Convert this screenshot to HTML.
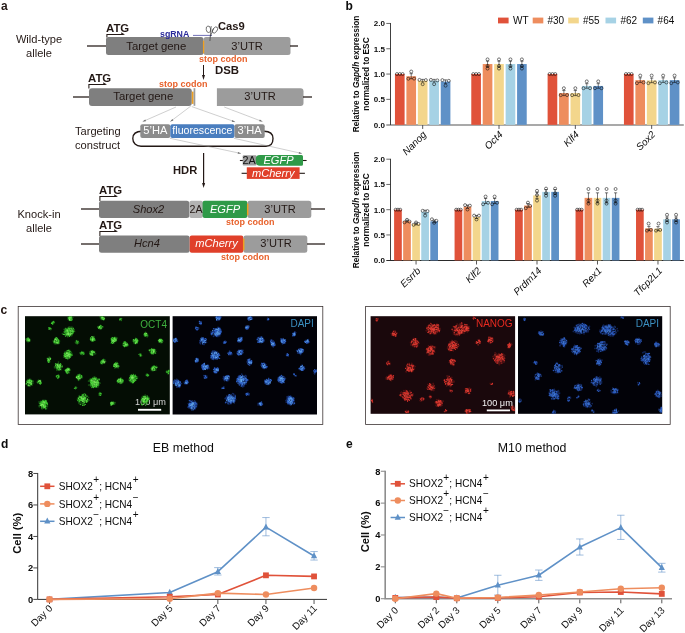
<!DOCTYPE html>
<html lang="en"><head><meta charset="utf-8"><title>Figure</title>
<style>html,body{margin:0;padding:0;background:#fff}svg{display:block}text{font-family:"Liberation Sans",sans-serif}</style>
</head><body>
<svg width="685" height="633" viewBox="0 0 685 633" fill="#231815">
<rect width="685" height="633" fill="#fff"/>
<g id="panel-a">
<text x="1" y="10.3" font-size="12" font-weight="bold">a</text>
<text x="39" y="43" font-size="11.1" text-anchor="middle">Wild-type</text>
<text x="39" y="56.5" font-size="11.1" text-anchor="middle">allele</text>
<text x="106" y="31.7" font-size="11.4" font-weight="bold">ATG</text>
<path d="M106.9 37.5V34.4H123.5" fill="none" stroke="#231815" stroke-width="1.05"/>
<path d="M125 34.5L121 32.2L121.6 34.9Z" fill="#231815"/>
<line x1="87" y1="46" x2="107" y2="46" stroke="#231815" stroke-width="1.25"/>
<path d="M108.5 37H201Q203.5 37 203.5 39.5V52.5Q203.5 55 201 55H108.5Q106 55 106 52.5V39.5Q106 37 108.5 37Z" fill="#7f7f7f"/>
<path d="M206 37H288Q290.5 37 290.5 39.5V52.5Q290.5 55 288 55H206Q203.5 55 203.5 52.5V39.5Q203.5 37 206 37Z" fill="#9c9c9c"/>
<line x1="203.6" y1="40.6" x2="203.6" y2="53.3" stroke="#f0a020" stroke-width="1.3"/>
<line x1="290" y1="46" x2="298" y2="46" stroke="#231815" stroke-width="1.25"/>
<text x="156.3" y="49.5" font-size="11.35" text-anchor="middle">Target gene</text>
<text x="247" y="49.5" font-size="11.1" text-anchor="middle">3’UTR</text>
<text x="160" y="37" font-size="8.8" font-weight="bold" fill="#2a2a9a">sgRNA</text>
<line x1="193" y1="35.4" x2="212" y2="35.4" stroke="#33339a" stroke-width="0.7"/>
<text x="218" y="30" font-size="11.2" font-weight="bold">Cas9</text>
<g fill="none" stroke="#262626" stroke-width="0.6">
<path d="M211.2 26L209.9 41"/><path d="M213.6 28.4L210.3 36.5"/>
<ellipse cx="208.4" cy="29.3" rx="2.2" ry="3.3" transform="rotate(-8 208.4 29.3)"/>
<ellipse cx="215" cy="30" rx="2.1" ry="3.5" transform="rotate(38 215 30)"/>
</g>
<text x="199" y="62" font-size="9" font-weight="bold" fill="#e8622c">stop codon</text>
<line x1="203.5" y1="65" x2="203.5" y2="77" stroke="#231815" stroke-width="1"/>
<path d="M203.5 80L202 75L205 75Z" fill="#231815"/>
<text x="215" y="74.2" font-size="11.4" font-weight="bold">DSB</text>
<text x="88" y="81.7" font-size="11.4" font-weight="bold">ATG</text>
<path d="M88.9 88.5V84.4H105.5" fill="none" stroke="#231815" stroke-width="1.05"/>
<path d="M107 84.5L103 82.2L103.6 84.9Z" fill="#231815"/>
<line x1="73" y1="97" x2="90" y2="97" stroke="#231815" stroke-width="1.25"/>
<path d="M92 88.2H188.8Q191.8 88.2 191.8 91.2V102.9Q191.8 105.9 188.8 105.9H92Q89 105.9 89 102.9V91.2Q89 88.2 92 88.2Z" fill="#7f7f7f"/>
<line x1="192.7" y1="91.6" x2="192.7" y2="103.9" stroke="#f0a020" stroke-width="1.8"/>
<rect x="193.6" y="88.2" width="1.7" height="17.6" fill="#9c9c9c"/>
<text x="159" y="87" font-size="9" font-weight="bold" fill="#e8622c">stop codon</text>
<text x="143.3" y="100.4" font-size="11.35" text-anchor="middle">Target gene</text>
<path d="M216.9 88.2H300.5Q303.5 88.2 303.5 91.2V102.9Q303.5 105.9 300.5 105.9H216.9V88.2Z" fill="#9c9c9c"/>
<text x="260" y="100.4" font-size="11.1" text-anchor="middle">3’UTR</text>
<line x1="303" y1="97" x2="312" y2="97" stroke="#231815" stroke-width="1.25"/>
<line x1="176" y1="107" x2="142.7" y2="121.6" stroke="#8c8c8c" stroke-width="0.42"/>
<path d="M142.7 121.6L145.27 119.49L145.99 121.14Z" fill="#6a6a6a"/>
<line x1="190.7" y1="106.2" x2="170.3" y2="121.6" stroke="#8c8c8c" stroke-width="0.42"/>
<path d="M170.3 121.6L172.31 118.95L173.4 120.39Z" fill="#6a6a6a"/>
<line x1="191.8" y1="106.6" x2="235.1" y2="121.9" stroke="#8c8c8c" stroke-width="0.42"/>
<path d="M235.1 121.9L231.78 121.68L232.38 119.99Z" fill="#6a6a6a"/>
<line x1="224.2" y1="107" x2="262.5" y2="121.6" stroke="#8c8c8c" stroke-width="0.42"/>
<path d="M262.5 121.6L259.19 121.3L259.83 119.62Z" fill="#6a6a6a"/>
<text x="75" y="135" font-size="11.1">Targeting</text>
<text x="75" y="149" font-size="11.1">construct</text>
<path d="M142 131.2C134 131.2 132.8 135 132.8 138.5C132.8 143 136 146.2 141 146.2H266C271 146.2 273 142.5 273 138.5C273 134.5 271 131.2 264 131.2" fill="none" stroke="#231815" stroke-width="1.35"/>
<path d="M142.3 124.2H168.3Q170.3 124.2 170.3 126.2V135.9Q170.3 137.9 168.3 137.9H142.3Q140.3 137.9 140.3 135.9V126.2Q140.3 124.2 142.3 124.2Z" fill="#8c8c8c"/>
<path d="M172.3 124.2H232.5Q234.5 124.2 234.5 126.2V135.9Q234.5 137.9 232.5 137.9H172.3Q170.3 137.9 170.3 135.9V126.2Q170.3 124.2 172.3 124.2Z" fill="#4a7ebf"/>
<path d="M236.5 124.2H262.7Q264.7 124.2 264.7 126.2V135.9Q264.7 137.9 262.7 137.9H236.5Q234.5 137.9 234.5 135.9V126.2Q234.5 124.2 236.5 124.2Z" fill="#8c8c8c"/>
<text x="155.3" y="134.1" font-size="11.1" text-anchor="middle" fill="#fff">5’HA</text>
<text x="202.4" y="134.1" font-size="10.6" text-anchor="middle" fill="#fff">fluorescence</text>
<text x="249.6" y="134.1" font-size="11.1" text-anchor="middle" fill="#fff">3’HA</text>
<line x1="170" y1="138.3" x2="241" y2="153.5" stroke="#8c8c8c" stroke-width="0.42"/>
<path d="M241 153.5L237.68 153.71L238.06 151.95Z" fill="#6a6a6a"/>
<line x1="234" y1="138.3" x2="302" y2="153.5" stroke="#8c8c8c" stroke-width="0.42"/>
<path d="M302 153.5L298.68 153.68L299.07 151.92Z" fill="#6a6a6a"/>
<line x1="203.6" y1="153" x2="203.6" y2="185" stroke="#231815" stroke-width="1.2"/>
<path d="M203.6 188L202.1 183L205.1 183Z" fill="#231815"/>
<text x="173" y="174" font-size="11.2" font-weight="bold">HDR</text>
<line x1="239.9" y1="160.5" x2="243" y2="160.5" stroke="#231815" stroke-width="1.1"/>
<line x1="302.5" y1="160.5" x2="306.6" y2="160.5" stroke="#231815" stroke-width="1.1"/>
<path d="M243.7 155.2H255.5Q256.5 155.2 256.5 156.2V164.4Q256.5 165.4 255.5 165.4H243.7Q242.7 165.4 242.7 164.4V156.2Q242.7 155.2 243.7 155.2Z" fill="#9c9c9c"/>
<path d="M260 154.9H301.5Q303 154.9 303 156.4V164.3Q303 165.8 301.5 165.8H260Q255.8 165.8 255.8 161.6V159.1Q255.8 154.9 260 154.9Z" fill="#2f9a48"/>
<text x="249" y="164.3" font-size="10.8" text-anchor="middle" fill="#111">2A</text>
<text x="278.5" y="164.2" font-size="11.1" font-style="italic" text-anchor="middle" fill="#fff">EGFP</text>
<line x1="241.6" y1="173.3" x2="247.5" y2="173.3" stroke="#231815" stroke-width="1.1"/>
<line x1="299" y1="173.3" x2="304.9" y2="173.3" stroke="#231815" stroke-width="1.1"/>
<rect x="246.8" y="167.3" width="52.8" height="11.6" fill="#e0402a"/>
<text x="273.2" y="176.8" font-size="11.1" font-style="italic" text-anchor="middle" fill="#fff">mCherry</text>
<text x="39" y="217.5" font-size="11.1" text-anchor="middle">Knock-in</text>
<text x="39" y="231.5" font-size="11.1" text-anchor="middle">allele</text>
<text x="99" y="193.7" font-size="11.4" font-weight="bold">ATG</text>
<path d="M99.9 201V196.4H116.5" fill="none" stroke="#231815" stroke-width="1.05"/>
<path d="M118 196.5L114 194.2L114.6 196.9Z" fill="#231815"/>
<line x1="81" y1="209" x2="100" y2="209" stroke="#231815" stroke-width="1.25"/>
<path d="M101.5 200.7H186.8Q189.3 200.7 189.3 203.2V215.5Q189.3 218 186.8 218H101.5Q99 218 99 215.5V203.2Q99 200.7 101.5 200.7Z" fill="#7f7f7f"/>
<path d="M191.3 200.7H201Q203 200.7 203 202.7V216Q203 218 201 218H191.3Q189.3 218 189.3 216V202.7Q189.3 200.7 191.3 200.7Z" fill="#b2b2b2"/>
<path d="M204.6 200.7H245.3Q247.3 200.7 247.3 202.7V216Q247.3 218 245.3 218H204.6Q202.6 218 202.6 216V202.7Q202.6 200.7 204.6 200.7Z" fill="#2f9a48"/>
<path d="M249.8 200.7H308.8Q311.3 200.7 311.3 203.2V215.5Q311.3 218 308.8 218H249.8Q247.3 218 247.3 215.5V203.2Q247.3 200.7 249.8 200.7Z" fill="#9c9c9c"/>
<line x1="247.7" y1="203.6" x2="247.7" y2="215.3" stroke="#f0a020" stroke-width="1.5"/>
<line x1="311" y1="209" x2="325" y2="209" stroke="#231815" stroke-width="1.25"/>
<text x="148.5" y="212.5" font-size="11.1" font-style="italic" text-anchor="middle">Shox2</text>
<text x="196" y="212.5" font-size="10.6" text-anchor="middle">2A</text>
<text x="225" y="212.5" font-size="11.1" font-style="italic" text-anchor="middle" fill="#fff">EGFP</text>
<text x="280" y="212.5" font-size="11.1" text-anchor="middle">3’UTR</text>
<text x="226" y="224.5" font-size="9" font-weight="bold" fill="#e8622c">stop codon</text>
<text x="99" y="228.7" font-size="11.4" font-weight="bold">ATG</text>
<path d="M99.9 236V231.4H116.5" fill="none" stroke="#231815" stroke-width="1.05"/>
<path d="M118 231.5L114 229.2L114.6 231.9Z" fill="#231815"/>
<line x1="81" y1="244" x2="100" y2="244" stroke="#231815" stroke-width="1.25"/>
<path d="M101.5 235.5H187.2Q189.7 235.5 189.7 238V250.2Q189.7 252.7 187.2 252.7H101.5Q99 252.7 99 250.2V238Q99 235.5 101.5 235.5Z" fill="#7f7f7f"/>
<path d="M191.7 235.5H241.3Q243.3 235.5 243.3 237.5V250.7Q243.3 252.7 241.3 252.7H191.7Q189.7 252.7 189.7 250.7V237.5Q189.7 235.5 191.7 235.5Z" fill="#e0402a"/>
<path d="M245.8 235.5H304.8Q307.3 235.5 307.3 238V250.2Q307.3 252.7 304.8 252.7H245.8Q243.3 252.7 243.3 250.2V238Q243.3 235.5 245.8 235.5Z" fill="#9c9c9c"/>
<line x1="243.7" y1="238.6" x2="243.7" y2="250.3" stroke="#f0a020" stroke-width="1.5"/>
<line x1="307" y1="244" x2="325" y2="244" stroke="#231815" stroke-width="1.25"/>
<text x="147" y="247.4" font-size="11.1" font-style="italic" text-anchor="middle">Hcn4</text>
<text x="216.5" y="247.4" font-size="11.1" font-style="italic" text-anchor="middle" fill="#fff">mCherry</text>
<text x="276" y="247.4" font-size="11.1" text-anchor="middle">3’UTR</text>
<text x="221" y="259.5" font-size="9" font-weight="bold" fill="#e8622c">stop codon</text>
</g>
<g id="panel-b" fill="#0c0c0c">
<text x="345.5" y="10.2" font-size="12" font-weight="bold">b</text>
<rect x="498" y="17.6" width="10.6" height="5.8" fill="#e0523a"/>
<text x="513.1" y="23.9" font-size="10">WT</text>
<rect x="532.7" y="17.6" width="10.6" height="5.8" fill="#ee8d5e"/>
<text x="547.4" y="23.9" font-size="10">#30</text>
<rect x="568.2" y="17.6" width="10.6" height="5.8" fill="#f3d68c"/>
<text x="583" y="23.9" font-size="10">#55</text>
<rect x="605.5" y="17.6" width="10.6" height="5.8" fill="#a6d2e5"/>
<text x="620.4" y="23.9" font-size="10">#62</text>
<rect x="642.8" y="17.6" width="10.6" height="5.8" fill="#5f91c7"/>
<text x="657.6" y="23.9" font-size="10">#64</text>
<line x1="386.3" y1="124.95" x2="683.8" y2="124.95" stroke="#8c8c8c" stroke-width="1.4"/>
<line x1="390.5" y1="23.05" x2="390.5" y2="124.95" stroke="#2a2a2a" stroke-width="0.9"/>
<text x="384.9" y="127.55" font-size="8" font-weight="bold" text-anchor="end">0.0</text>
<line x1="386.3" y1="99.35" x2="390.5" y2="99.35" stroke="#2a2a2a" stroke-width="0.7"/>
<text x="384.9" y="102.25" font-size="8" font-weight="bold" text-anchor="end">0.5</text>
<line x1="386.3" y1="74.05" x2="390.5" y2="74.05" stroke="#2a2a2a" stroke-width="0.7"/>
<text x="384.9" y="76.95" font-size="8" font-weight="bold" text-anchor="end">1.0</text>
<line x1="386.3" y1="48.75" x2="390.5" y2="48.75" stroke="#2a2a2a" stroke-width="0.7"/>
<text x="384.9" y="51.65" font-size="8" font-weight="bold" text-anchor="end">1.5</text>
<line x1="386.3" y1="23.45" x2="390.5" y2="23.45" stroke="#2a2a2a" stroke-width="0.7"/>
<text x="384.9" y="26.35" font-size="8" font-weight="bold" text-anchor="end">2.0</text>
<text transform="translate(359.4 74) rotate(-90)" font-size="8.3" font-weight="bold" text-anchor="middle">Relative to <tspan font-style="italic">Gapdh</tspan> expression</text>
<text transform="translate(369.4 74) rotate(-90)" font-size="8.3" font-weight="bold" text-anchor="middle">normalized to ESC</text>
<rect x="394.95" y="74.05" width="9.65" height="50.8" fill="#e0523a"/>
<rect x="406.4" y="76.23" width="9.65" height="48.62" fill="#ee8d5e"/>
<rect x="417.85" y="80.63" width="9.65" height="44.22" fill="#f3d68c"/>
<rect x="429.3" y="80.63" width="9.65" height="44.22" fill="#a6d2e5"/>
<rect x="440.75" y="81.64" width="9.65" height="43.21" fill="#5f91c7"/>
<g fill="none" stroke="#0a0a0a" stroke-width="0.55">
<circle cx="396.94" cy="74.05" r="1.5"/>
<circle cx="399.77" cy="74.05" r="1.5"/>
<circle cx="402.61" cy="74.05" r="1.5"/>
<path d="M411.22 73.7V78.76M409.62 73.7H412.82M409.62 78.76H412.82"/>
<circle cx="408.32" cy="78.76" r="1.5"/>
<circle cx="411.22" cy="71.52" r="1.5"/>
<circle cx="414.12" cy="78.6" r="1.5"/>
<path d="M422.67 79.36V81.89M421.07 79.36H424.27M421.07 81.89H424.27"/>
<circle cx="419.47" cy="79.92" r="1.5"/>
<circle cx="422.67" cy="84.17" r="1.5"/>
<circle cx="425.87" cy="80.12" r="1.5"/>
<path d="M434.12 79.36V81.89M432.52 79.36H435.72M432.52 81.89H435.72"/>
<circle cx="430.92" cy="79.92" r="1.5"/>
<circle cx="434.12" cy="84.17" r="1.5"/>
<circle cx="437.32" cy="80.38" r="1.5"/>
<path d="M445.57 79.87V83.41M443.97 79.87H447.18M443.97 83.41H447.18"/>
<circle cx="442.38" cy="80.12" r="1.5"/>
<circle cx="445.57" cy="85.69" r="1.5"/>
<circle cx="448.77" cy="80.83" r="1.5"/>
</g>
<line x1="422.68" y1="125.15" x2="422.68" y2="128.95" stroke="#2a2a2a" stroke-width="0.8"/>
<text transform="translate(426.98 135.15) rotate(-45)" font-size="9.9" font-style="italic" text-anchor="end">Nanog</text>
<rect x="471.28" y="74.05" width="9.65" height="50.8" fill="#e0523a"/>
<rect x="482.73" y="64.03" width="9.65" height="60.82" fill="#ee8d5e"/>
<rect x="494.18" y="64.03" width="9.65" height="60.82" fill="#f3d68c"/>
<rect x="505.63" y="64.03" width="9.65" height="60.82" fill="#a6d2e5"/>
<rect x="517.08" y="64.03" width="9.65" height="60.82" fill="#5f91c7"/>
<g fill="none" stroke="#0a0a0a" stroke-width="0.55">
<circle cx="473.27" cy="74.05" r="1.5"/>
<circle cx="476.1" cy="74.05" r="1.5"/>
<circle cx="478.94" cy="74.05" r="1.5"/>
<path d="M487.55 61.15V66.92M485.95 61.15H489.15M485.95 66.92H489.15"/>
<circle cx="487.55" cy="59.38" r="1.5"/>
<circle cx="487.55" cy="65.95" r="1.5"/>
<circle cx="487.55" cy="68.59" r="1.5"/>
<path d="M499 61.15V66.92M497.4 61.15H500.6M497.4 66.92H500.6"/>
<circle cx="499" cy="59.38" r="1.5"/>
<circle cx="499" cy="65.95" r="1.5"/>
<circle cx="499" cy="68.59" r="1.5"/>
<path d="M510.45 61.15V66.92M508.85 61.15H512.05M508.85 66.92H512.05"/>
<circle cx="510.45" cy="59.38" r="1.5"/>
<circle cx="510.45" cy="65.95" r="1.5"/>
<circle cx="510.45" cy="68.59" r="1.5"/>
<path d="M521.9 61.15V66.92M520.3 61.15H523.5M520.3 66.92H523.5"/>
<circle cx="521.9" cy="59.38" r="1.5"/>
<circle cx="521.9" cy="65.95" r="1.5"/>
<circle cx="521.9" cy="68.59" r="1.5"/>
</g>
<line x1="499" y1="125.15" x2="499" y2="128.95" stroke="#2a2a2a" stroke-width="0.8"/>
<text transform="translate(503.31 135.15) rotate(-45)" font-size="9.9" font-style="italic" text-anchor="end">Oct4</text>
<rect x="547.61" y="74.05" width="9.65" height="50.8" fill="#e0523a"/>
<rect x="559.06" y="93.08" width="9.65" height="31.77" fill="#ee8d5e"/>
<rect x="570.51" y="93.08" width="9.65" height="31.77" fill="#f3d68c"/>
<rect x="581.96" y="85.94" width="9.65" height="38.91" fill="#a6d2e5"/>
<rect x="593.41" y="85.94" width="9.65" height="38.91" fill="#5f91c7"/>
<g fill="none" stroke="#0a0a0a" stroke-width="0.55">
<circle cx="549.6" cy="74.05" r="1.5"/>
<circle cx="552.44" cy="74.05" r="1.5"/>
<circle cx="555.27" cy="74.05" r="1.5"/>
<path d="M563.89 90.55V95.61M562.29 90.55H565.49M562.29 95.61H565.49"/>
<circle cx="560.69" cy="95.15" r="1.5"/>
<circle cx="563.89" cy="88.22" r="1.5"/>
<circle cx="567.09" cy="95.05" r="1.5"/>
<path d="M575.34 90.55V95.61M573.74 90.55H576.94M573.74 95.61H576.94"/>
<circle cx="572.13" cy="95.15" r="1.5"/>
<circle cx="575.34" cy="88.22" r="1.5"/>
<circle cx="578.54" cy="95.05" r="1.5"/>
<path d="M586.79 83.66V88.22M585.19 83.66H588.39M585.19 88.22H588.39"/>
<circle cx="583.49" cy="88.22" r="1.5"/>
<circle cx="586.79" cy="81.39" r="1.5"/>
<circle cx="590.09" cy="88.22" r="1.5"/>
<path d="M598.24 83.66V88.22M596.63 83.66H599.84M596.63 88.22H599.84"/>
<circle cx="594.94" cy="88.22" r="1.5"/>
<circle cx="598.24" cy="81.39" r="1.5"/>
<circle cx="601.53" cy="88.22" r="1.5"/>
</g>
<line x1="575.34" y1="125.15" x2="575.34" y2="128.95" stroke="#2a2a2a" stroke-width="0.8"/>
<text transform="translate(579.63 135.15) rotate(-45)" font-size="9.9" font-style="italic" text-anchor="end">Klf4</text>
<rect x="623.94" y="74.05" width="9.65" height="50.8" fill="#e0523a"/>
<rect x="635.39" y="80.12" width="9.65" height="44.73" fill="#ee8d5e"/>
<rect x="646.84" y="80.38" width="9.65" height="44.48" fill="#f3d68c"/>
<rect x="658.29" y="80.12" width="9.65" height="44.73" fill="#a6d2e5"/>
<rect x="669.74" y="80.12" width="9.65" height="44.73" fill="#5f91c7"/>
<g fill="none" stroke="#0a0a0a" stroke-width="0.55">
<circle cx="625.93" cy="74.05" r="1.5"/>
<circle cx="628.77" cy="74.05" r="1.5"/>
<circle cx="631.6" cy="74.05" r="1.5"/>
<path d="M640.22 77.84V82.4M638.62 77.84H641.82M638.62 82.4H641.82"/>
<circle cx="636.92" cy="83.16" r="1.5"/>
<circle cx="640.22" cy="75.57" r="1.5"/>
<circle cx="643.52" cy="82.45" r="1.5"/>
<path d="M651.67 78.1V82.65M650.07 78.1H653.27M650.07 82.65H653.27"/>
<circle cx="648.37" cy="83.16" r="1.5"/>
<circle cx="651.67" cy="75.57" r="1.5"/>
<circle cx="654.97" cy="82.45" r="1.5"/>
<path d="M663.12 77.84V82.4M661.52 77.84H664.72M661.52 82.4H664.72"/>
<circle cx="659.82" cy="83.16" r="1.5"/>
<circle cx="663.12" cy="75.57" r="1.5"/>
<circle cx="666.42" cy="82.45" r="1.5"/>
<path d="M674.57 77.84V82.4M672.97 77.84H676.17M672.97 82.4H676.17"/>
<circle cx="671.27" cy="83.16" r="1.5"/>
<circle cx="674.57" cy="75.57" r="1.5"/>
<circle cx="677.87" cy="82.45" r="1.5"/>
</g>
<line x1="651.67" y1="125.15" x2="651.67" y2="128.95" stroke="#2a2a2a" stroke-width="0.8"/>
<text transform="translate(655.97 135.15) rotate(-45)" font-size="9.9" font-style="italic" text-anchor="end">Sox2</text>
<line x1="386.3" y1="260.5" x2="683.8" y2="260.5" stroke="#2a2a2a" stroke-width="1"/>
<line x1="390.5" y1="158.8" x2="390.5" y2="260.5" stroke="#2a2a2a" stroke-width="0.9"/>
<text x="384.9" y="263.1" font-size="8" font-weight="bold" text-anchor="end">0.0</text>
<line x1="386.3" y1="234.95" x2="390.5" y2="234.95" stroke="#2a2a2a" stroke-width="0.7"/>
<text x="384.9" y="237.85" font-size="8" font-weight="bold" text-anchor="end">0.5</text>
<line x1="386.3" y1="209.7" x2="390.5" y2="209.7" stroke="#2a2a2a" stroke-width="0.7"/>
<text x="384.9" y="212.6" font-size="8" font-weight="bold" text-anchor="end">1.0</text>
<line x1="386.3" y1="184.45" x2="390.5" y2="184.45" stroke="#2a2a2a" stroke-width="0.7"/>
<text x="384.9" y="187.35" font-size="8" font-weight="bold" text-anchor="end">1.5</text>
<line x1="386.3" y1="159.2" x2="390.5" y2="159.2" stroke="#2a2a2a" stroke-width="0.7"/>
<text x="384.9" y="162.1" font-size="8" font-weight="bold" text-anchor="end">2.0</text>
<text transform="translate(359.4 210) rotate(-90)" font-size="8.3" font-weight="bold" text-anchor="middle">Relative to <tspan font-style="italic">Gapdh</tspan> expression</text>
<text transform="translate(369.4 210) rotate(-90)" font-size="8.3" font-weight="bold" text-anchor="middle">normalized to ESC</text>
<rect x="394.1" y="209.7" width="7.7" height="50.7" fill="#e0523a"/>
<rect x="403.15" y="221.11" width="7.7" height="39.29" fill="#ee8d5e"/>
<rect x="412.2" y="223.84" width="7.7" height="36.56" fill="#f3d68c"/>
<rect x="421.25" y="211.97" width="7.7" height="48.43" fill="#a6d2e5"/>
<rect x="430.3" y="221.31" width="7.7" height="39.09" fill="#5f91c7"/>
<g fill="none" stroke="#0a0a0a" stroke-width="0.55">
<circle cx="395.69" cy="209.7" r="1.5"/>
<circle cx="397.95" cy="209.7" r="1.5"/>
<circle cx="400.21" cy="209.7" r="1.5"/>
<path d="M407 220.1V222.12M405.4 220.1H408.6M405.4 222.12H408.6"/>
<circle cx="404.5" cy="222.32" r="1.5"/>
<circle cx="407" cy="219.8" r="1.5"/>
<circle cx="409.5" cy="221.57" r="1.5"/>
<path d="M416.05 222.83V224.85M414.45 222.83H417.65M414.45 224.85H417.65"/>
<circle cx="413.55" cy="224.85" r="1.5"/>
<circle cx="416.05" cy="222.48" r="1.5"/>
<circle cx="418.55" cy="223.99" r="1.5"/>
<path d="M425.1 210.2V213.74M423.5 210.2H426.7M423.5 213.74H426.7"/>
<circle cx="422.7" cy="210.81" r="1.5"/>
<circle cx="425.1" cy="215.61" r="1.5"/>
<circle cx="427.5" cy="211.11" r="1.5"/>
<path d="M434.15 220.05V222.58M432.55 220.05H435.75M432.55 222.58H435.75"/>
<circle cx="431.95" cy="219.29" r="1.5"/>
<circle cx="434.15" cy="222.83" r="1.5"/>
<circle cx="436.35" cy="220.81" r="1.5"/>
</g>
<line x1="416.05" y1="260.7" x2="416.05" y2="264.5" stroke="#2a2a2a" stroke-width="0.8"/>
<text transform="translate(421.05 271.4) rotate(-45)" font-size="9.9" font-style="italic" text-anchor="end">Esrrb</text>
<rect x="454.58" y="209.7" width="7.7" height="50.7" fill="#e0523a"/>
<rect x="463.63" y="206.67" width="7.7" height="53.73" fill="#ee8d5e"/>
<rect x="472.68" y="217.02" width="7.7" height="43.38" fill="#f3d68c"/>
<rect x="481.73" y="201.01" width="7.7" height="59.39" fill="#a6d2e5"/>
<rect x="490.78" y="201.01" width="7.7" height="59.39" fill="#5f91c7"/>
<g fill="none" stroke="#0a0a0a" stroke-width="0.55">
<circle cx="456.17" cy="209.7" r="1.5"/>
<circle cx="458.43" cy="209.7" r="1.5"/>
<circle cx="460.69" cy="209.7" r="1.5"/>
<path d="M467.48 205.15V208.19M465.88 205.15H469.08M465.88 208.19H469.08"/>
<circle cx="465.08" cy="205.15" r="1.5"/>
<circle cx="467.48" cy="209.5" r="1.5"/>
<circle cx="469.88" cy="205.66" r="1.5"/>
<path d="M476.53 215.51V218.54M474.93 215.51H478.13M474.93 218.54H478.13"/>
<circle cx="474.13" cy="215.61" r="1.5"/>
<circle cx="476.53" cy="219.4" r="1.5"/>
<circle cx="478.93" cy="215.61" r="1.5"/>
<path d="M485.58 198.49V203.54M483.98 198.49H487.18M483.98 203.54H487.18"/>
<circle cx="483.08" cy="204.25" r="1.5"/>
<circle cx="485.58" cy="196.57" r="1.5"/>
<circle cx="488.08" cy="202.78" r="1.5"/>
<path d="M494.63 198.49V203.54M493.03 198.49H496.23M493.03 203.54H496.23"/>
<circle cx="492.13" cy="204.25" r="1.5"/>
<circle cx="494.63" cy="196.57" r="1.5"/>
<circle cx="497.13" cy="202.78" r="1.5"/>
</g>
<line x1="476.53" y1="260.7" x2="476.53" y2="264.5" stroke="#2a2a2a" stroke-width="0.8"/>
<text transform="translate(481.53 271.4) rotate(-45)" font-size="9.9" font-style="italic" text-anchor="end">Klf2</text>
<rect x="515.06" y="209.7" width="7.7" height="50.7" fill="#e0523a"/>
<rect x="524.11" y="205.51" width="7.7" height="54.89" fill="#ee8d5e"/>
<rect x="533.16" y="195.41" width="7.7" height="64.99" fill="#f3d68c"/>
<rect x="542.21" y="191.87" width="7.7" height="68.53" fill="#a6d2e5"/>
<rect x="551.26" y="191.87" width="7.7" height="68.53" fill="#5f91c7"/>
<g fill="none" stroke="#0a0a0a" stroke-width="0.55">
<circle cx="516.65" cy="209.7" r="1.5"/>
<circle cx="518.91" cy="209.7" r="1.5"/>
<circle cx="521.17" cy="209.7" r="1.5"/>
<path d="M527.96 203.74V207.28M526.36 203.74H529.56M526.36 207.28H529.56"/>
<circle cx="525.76" cy="208.19" r="1.5"/>
<circle cx="527.96" cy="202.63" r="1.5"/>
<circle cx="530.16" cy="205.91" r="1.5"/>
<path d="M537.01 192.38V198.44M535.41 192.38H538.61M535.41 198.44H538.61"/>
<circle cx="537.01" cy="190.81" r="1.5"/>
<circle cx="537.01" cy="195.06" r="1.5"/>
<circle cx="537.01" cy="200.61" r="1.5"/>
<path d="M546.06 189.6V194.15M544.46 189.6H547.66M544.46 194.15H547.66"/>
<circle cx="546.06" cy="188.59" r="1.5"/>
<circle cx="546.06" cy="193.19" r="1.5"/>
<circle cx="546.06" cy="195.81" r="1.5"/>
<path d="M555.11 189.6V194.15M553.51 189.6H556.71M553.51 194.15H556.71"/>
<circle cx="555.11" cy="188.59" r="1.5"/>
<circle cx="555.11" cy="193.19" r="1.5"/>
<circle cx="555.11" cy="195.81" r="1.5"/>
</g>
<line x1="537.01" y1="260.7" x2="537.01" y2="264.5" stroke="#2a2a2a" stroke-width="0.8"/>
<text transform="translate(542.01 271.4) rotate(-45)" font-size="9.9" font-style="italic" text-anchor="end">Prdm14</text>
<rect x="575.54" y="209.7" width="7.7" height="50.7" fill="#e0523a"/>
<rect x="584.59" y="197.88" width="7.7" height="62.52" fill="#ee8d5e"/>
<rect x="593.64" y="197.88" width="7.7" height="62.52" fill="#f3d68c"/>
<rect x="602.69" y="197.88" width="7.7" height="62.52" fill="#a6d2e5"/>
<rect x="611.74" y="197.88" width="7.7" height="62.52" fill="#5f91c7"/>
<g fill="none" stroke="#0a0a0a" stroke-width="0.55">
<circle cx="577.13" cy="209.7" r="1.5"/>
<circle cx="579.39" cy="209.7" r="1.5"/>
<circle cx="581.65" cy="209.7" r="1.5"/>
<path d="M588.44 192.83V202.93M586.84 192.83H590.04M586.84 202.93H590.04"/>
<circle cx="588.44" cy="189" r="1.5"/>
<circle cx="588.44" cy="200.61" r="1.5"/>
<circle cx="588.44" cy="203.64" r="1.5"/>
<path d="M597.49 192.83V202.93M595.89 192.83H599.09M595.89 202.93H599.09"/>
<circle cx="597.49" cy="189" r="1.5"/>
<circle cx="597.49" cy="200.61" r="1.5"/>
<circle cx="597.49" cy="203.64" r="1.5"/>
<path d="M606.54 192.83V202.93M604.94 192.83H608.14M604.94 202.93H608.14"/>
<circle cx="606.54" cy="189" r="1.5"/>
<circle cx="606.54" cy="200.61" r="1.5"/>
<circle cx="606.54" cy="203.64" r="1.5"/>
<path d="M615.59 192.83V202.93M613.99 192.83H617.19M613.99 202.93H617.19"/>
<circle cx="615.59" cy="189" r="1.5"/>
<circle cx="615.59" cy="200.61" r="1.5"/>
<circle cx="615.59" cy="203.64" r="1.5"/>
</g>
<line x1="597.49" y1="260.7" x2="597.49" y2="264.5" stroke="#2a2a2a" stroke-width="0.8"/>
<text transform="translate(602.49 271.4) rotate(-45)" font-size="9.9" font-style="italic" text-anchor="end">Rex1</text>
<rect x="636.02" y="209.7" width="7.7" height="50.7" fill="#e0523a"/>
<rect x="645.07" y="228.38" width="7.7" height="32.02" fill="#ee8d5e"/>
<rect x="654.12" y="228.64" width="7.7" height="31.76" fill="#f3d68c"/>
<rect x="663.17" y="219.29" width="7.7" height="41.11" fill="#a6d2e5"/>
<rect x="672.22" y="219.29" width="7.7" height="41.11" fill="#5f91c7"/>
<g fill="none" stroke="#0a0a0a" stroke-width="0.55">
<circle cx="637.61" cy="209.7" r="1.5"/>
<circle cx="639.87" cy="209.7" r="1.5"/>
<circle cx="642.13" cy="209.7" r="1.5"/>
<path d="M648.92 226.36V230.41M647.32 226.36H650.52M647.32 230.41H650.52"/>
<circle cx="647.02" cy="230.61" r="1.5"/>
<circle cx="648.62" cy="223.59" r="1.5"/>
<circle cx="650.82" cy="229.9" r="1.5"/>
<path d="M657.97 226.62V230.66M656.37 226.62H659.57M656.37 230.66H659.57"/>
<circle cx="656.07" cy="230.61" r="1.5"/>
<circle cx="658.57" cy="223.59" r="1.5"/>
<circle cx="660.17" cy="229.9" r="1.5"/>
<path d="M667.02 217.02V221.57M665.42 217.02H668.62M665.42 221.57H668.62"/>
<circle cx="667.02" cy="214.75" r="1.5"/>
<circle cx="667.02" cy="219.8" r="1.5"/>
<circle cx="667.02" cy="222.53" r="1.5"/>
<path d="M676.07 217.02V221.57M674.47 217.02H677.67M674.47 221.57H677.67"/>
<circle cx="676.07" cy="214.75" r="1.5"/>
<circle cx="676.07" cy="219.8" r="1.5"/>
<circle cx="676.07" cy="222.53" r="1.5"/>
</g>
<line x1="657.97" y1="260.7" x2="657.97" y2="264.5" stroke="#2a2a2a" stroke-width="0.8"/>
<text transform="translate(662.97 271.4) rotate(-45)" font-size="9.9" font-style="italic" text-anchor="end">Tfcp2L1</text>
</g>
<g id="panel-c">
<text x="0.6" y="313.6" font-size="12" font-weight="bold">c</text>
<filter id="soft" x="-2%" y="-2%" width="104%" height="104%"><feGaussianBlur stdDeviation="0.3"/></filter>
<rect x="18.2" y="306.4" width="304.6" height="118.2" fill="#fff" stroke="#3c3434" stroke-width="0.8"/>
<rect x="365.6" y="306.4" width="304.6" height="118.2" fill="#fff" stroke="#3c3434" stroke-width="0.8"/>
<clipPath id="cp1"><rect x="25" y="316.2" width="144.8" height="98.2"/></clipPath>
<rect x="25" y="316.2" width="144.8" height="98.2" fill="#040d04"/>
<text x="150.5" y="404.8" font-size="9.2" text-anchor="middle" fill="#d4d4d4">100 μm</text>
<g clip-path="url(#cp1)"><g filter="url(#soft)">
<path d="M69.9 316h0M71.28 320.04h0M68.91 317.78h0M67.9 317.15h0M70.37 317.14h0M71.57 316.07h0M72.83 317.24h0M69.1 318.97h0M69.22 317.28h0M69.14 319.99h0M72.2 319.53h0M72.69 317.29h0M68.89 317.19h0M70.63 315.71h0M70.49 315.71h0M67.94 318.89h0M70.81 319.42h0M70.74 319.08h0M71.04 319.09h0M69.74 319.01h0M69.14 320.19h0M70.76 315.75h0M68.76 316.56h0M69.29 320.28h0M71.15 320.52h0M72.35 317.49h0M70.35 315.68h0M72.19 318.82h0M102.46 319.07h0M103.55 319.42h0M101.47 318.16h0M103.73 318.4h0M101.64 319.13h0M102.46 317.06h0M101.64 319h0M101.61 317.22h0M102.44 317.63h0M101.94 319.48h0M101.55 316.81h0M101.14 317.45h0M102.11 318.08h0M103.57 317.63h0M102.74 316.61h0M103.83 319.64h0M103.49 316.77h0M103.18 319.52h0M102.69 319.21h0M100.57 318.56h0M66.36 330.5h0M65.8 330.93h0M70.11 330.86h0M66.33 332.84h0M72.51 331.81h0M68.55 328.19h0M65.37 334.37h0M70.34 335.33h0M65.57 335.75h0M74.22 329.52h0M72.8 327.92h0M69.13 326.78h0M67.19 330.15h0M68.93 329.07h0M66.08 335.28h0M68.93 330.48h0M68.26 329.82h0M70.73 329.9h0M69.33 333.46h0M73.08 329.91h0M64.77 334.22h0M67.91 336.8h0M68.6 332.53h0M70.15 332.66h0M62.45 333.53h0M67.55 330.94h0M67.06 329.93h0M69.58 329.58h0M67.4 328.66h0M69.71 330.01h0M65.41 328.41h0M72.98 331.78h0M65.18 331.7h0M71.18 332.97h0M66.29 332.05h0M66.34 328.89h0M72.24 331.81h0M69.55 331.61h0M69.36 333.55h0M71.71 330.47h0M68.47 333.76h0M65.18 330.32h0M68.2 329.45h0M66.25 330.24h0M72.57 333.19h0M64.48 332.45h0M68.18 334.12h0M66.01 331.58h0M65.82 332.58h0M70.84 328.39h0M70.35 327.49h0M64.07 329.45h0M67.42 328.18h0M73.5 331.1h0M67.54 332.13h0M70 330.65h0M68.49 328.91h0M67.21 328.36h0M68.09 330.16h0M72.27 334.61h0M69.19 328.53h0M69.09 334.67h0M71 333.22h0M70.06 335.52h0M70.15 333.13h0M72.53 328.11h0M74.29 329.87h0M72.36 329.36h0M69.04 329.26h0M70.67 332.57h0M71.99 334.8h0M64.83 331.37h0M70.67 332.46h0M70.49 333.22h0M65.08 331.45h0M74.58 331.45h0M70.14 334.04h0M71.22 334.86h0M71.61 335.7h0M72.39 327.47h0M70.17 328.04h0M68.48 333.65h0M68.98 331.98h0M66.71 329.5h0M71.28 327.01h0M70.58 329.51h0M52.68 324.2h0M54.17 321.63h0M52.38 322.05h0M52.04 322.45h0M53.48 322.19h0M52.82 323.76h0M54.32 322.03h0M53.11 323.75h0M50.45 328.86h0M48.87 327.78h0M49.18 328.87h0M50.73 329.58h0M49.83 328.28h0M51.06 328.92h0M48.75 327.87h0M49.4 327.73h0M101.5 327.72h0M99.33 327.43h0M99.69 328.75h0M101.2 327.7h0M98.79 326.55h0M99.7 327.1h0M100.74 327.87h0M100.83 327.8h0M99.99 328.78h0M100.65 329.01h0M99.05 328.36h0M101.61 327.95h0M100.59 325.39h0M102.68 327.33h0M101.18 327.15h0M99.7 326.45h0M98.55 326.85h0M29.57 340.33h0M28.39 340.17h0M30.15 340.75h0M29.11 339.24h0M26.8 339.96h0M25.65 339.32h0M28.75 339.27h0M28.84 340.66h0M26.97 341.23h0M26.78 340.66h0M28.14 339.49h0M28.06 341.86h0M27.93 339.86h0M29.18 340.29h0M29.55 339.21h0M26.67 338.81h0M29.14 338.86h0M58.88 343.44h0M54.84 343.19h0M54.93 341.76h0M57.5 339.15h0M55.77 337.66h0M57.01 339.28h0M55.93 343.77h0M56.57 339.16h0M59.16 343.15h0M54.43 343.32h0M56.59 339.96h0M55.59 340.94h0M55.58 338.58h0M53.78 341.99h0M54.39 343.08h0M57.65 342.22h0M58.62 340.21h0M56.05 342.68h0M54.36 343.55h0M53.29 340.91h0M53.42 340.75h0M58.45 339.97h0M54.72 342.13h0M55.33 338.77h0M53.58 341.09h0M55.84 343.9h0M56.6 341.76h0M56.07 340.11h0M56.69 338.9h0M55.37 340.24h0M56.73 338.6h0M57.87 343.76h0M54.67 339.1h0M55.5 338.65h0M55.77 343.77h0M58.31 340.07h0M59.57 341.08h0M93.16 338.78h0M94.49 338.96h0M92.13 338.1h0M91.75 340.62h0M94.13 337.91h0M94.18 340.18h0M93.83 340.48h0M92.97 340.34h0M91.31 338.97h0M94.01 336.61h0M95.08 339.83h0M93.71 339.5h0M92.79 341h0M93.44 339.19h0M93.95 340.59h0M92.6 339.86h0M92.42 339.65h0M94 340.27h0M91.1 340.2h0M93.11 339.55h0M90.7 338h0M93.25 339.26h0M93.22 341.1h0M92.59 338.72h0M91.34 338.93h0M91.88 338.38h0M92.9 339.85h0M93.17 338.07h0M111.73 341.12h0M114.3 341.79h0M114.11 342.84h0M113.41 341.57h0M114.36 338.11h0M115.49 339.19h0M113.6 338.28h0M114.86 340.48h0M115.97 340.48h0M114 338.44h0M114.14 339.69h0M114.24 338.19h0M112.57 339.4h0M112.39 340.37h0M111.3 340.2h0M113.25 341.45h0M115.98 341.46h0M113.15 343.19h0M111.54 343.09h0M111.9 340.54h0M114.75 338.68h0M115.88 340.7h0M112.28 338.13h0M111.85 342.02h0M116.74 337.7h0M114.34 340.77h0M112.12 337.57h0M114.95 339.25h0M113.62 339.87h0M114.98 340.62h0M115.46 339.42h0M111.78 338.04h0M111.32 343.15h0M116.46 340.28h0M113.89 338.62h0M111.31 338.96h0M115.34 341.51h0M116.99 338.46h0M113.14 338.73h0M114.73 338.26h0M114.36 340.13h0M111.51 338.44h0M122.76 345.02h0M123.23 344.64h0M124.22 345.84h0M123.28 345.34h0M125.18 343.86h0M127.38 344.14h0M124.36 343.54h0M125.01 343.35h0M124.45 342.68h0M123.9 345.61h0M126.97 344.91h0M125.45 342.43h0M124.38 341.79h0M124.99 342.77h0M125.64 342.46h0M126.91 343.35h0M127.53 345.88h0M125.34 345.38h0M124.05 345.32h0M125.52 342.43h0M124.43 342.55h0M123.67 343.3h0M127.34 344.89h0M127.02 345.4h0M124.17 345.57h0M123.69 342.75h0M123.93 344.43h0M123.55 342.67h0M135.38 342.42h0M136.76 340.91h0M136.44 339.11h0M134.96 340.34h0M134.97 341.97h0M136.78 339.74h0M133 341.09h0M136.46 341.38h0M136.58 342.15h0M137.35 339.42h0M136.45 341.21h0M133.81 339.53h0M137.91 340.39h0M135.8 339.39h0M134.53 342.55h0M135.56 340.04h0M136.9 341.36h0M134.07 341.63h0M136.94 341.03h0M135.6 338.37h0M133.83 340.13h0M136.23 341.41h0M134.03 342.94h0M134.82 340.83h0M136.2 339.84h0M135.6 341.86h0M136.29 343.35h0M137.22 343.02h0M144.58 334.12h0M147.24 335.14h0M147.81 335.03h0M145.45 333.64h0M147.94 335.79h0M147.01 334.52h0M147.1 334.35h0M143.93 334.42h0M146.73 333.92h0M145.62 333.26h0M147.15 336.81h0M144.53 335.06h0M147.17 333.63h0M145.44 334.46h0M144.32 334.23h0M145.6 332.45h0M144.66 335.9h0M159.67 341.41h0M160.23 339.03h0M159.76 339.69h0M160.86 341.91h0M162.93 340.99h0M162.02 341.05h0M162 340.29h0M161.03 342.79h0M158.79 340.4h0M159.81 339.18h0M160.43 341.37h0M159.4 341.19h0M159.86 339.79h0M160.1 339.18h0M161.27 342.21h0M159.75 339.81h0M159 340.07h0M160.19 341.65h0M161.14 341.09h0M162.2 342.46h0M77.25 342.97h0M78.66 342.6h0M76.44 340.51h0M76.42 342.33h0M78.21 343.26h0M75.36 342h0M78.52 342.98h0M77.73 342.1h0M67.53 355.11h0M67.58 358.78h0M66.66 356.56h0M67.98 355.6h0M67.26 354.14h0M65.09 352.96h0M69.66 351.93h0M63.91 357.17h0M67.23 353.97h0M69.68 350.24h0M65.51 357.73h0M70.55 353.2h0M70.74 354.6h0M65.22 351.51h0M65.39 357.77h0M66.78 354.54h0M71.41 354.71h0M67.02 350.7h0M64.53 355.69h0M65.37 356.79h0M68.01 356.77h0M70.76 351.65h0M64.33 356.02h0M67.07 351.69h0M65.45 355.05h0M67.44 351.55h0M67.68 355.87h0M69.29 352.85h0M68.95 353.02h0M68.83 357.3h0M71.45 354.83h0M68.29 354.65h0M66.89 351.55h0M67.97 354.43h0M68.41 352.88h0M66.24 356.94h0M67.24 355.84h0M68.63 350h0M71.41 353.94h0M67.97 357.01h0M66.78 356.66h0M68.68 358.36h0M64.78 353.37h0M68.07 355.77h0M66.37 357.65h0M71.82 353.46h0M64.13 353.57h0M70.82 352.73h0M71.21 353.69h0M67.99 354.86h0M71.25 352.58h0M65.6 355.56h0M68.9 352.93h0M64.74 353.64h0M64.3 355.77h0M66.84 354.67h0M67.62 359.29h0M66.28 354.89h0M67.88 356.21h0M68.58 351.07h0M67.11 353.61h0M64.77 356.79h0M68.21 355.97h0M67.64 358.4h0M66.78 356.02h0M65.03 353.84h0M65.99 355.83h0M65.4 354.53h0M65.07 356.06h0M68.04 355.91h0M70.3 355.07h0M72.21 354.85h0M83.73 353.65h0M83.91 352.3h0M82.07 352.2h0M81.63 354.5h0M81.92 353.68h0M81.79 352.57h0M82.24 353.34h0M82.45 352h0M82.83 352.67h0M81.67 351.72h0M82.35 353.87h0M82.97 353.34h0M82.51 354.54h0M92.56 351.24h0M91.22 350.71h0M92.06 352.81h0M90.59 351.27h0M90.01 351.49h0M94.33 353.74h0M91.42 351.65h0M94.62 351.54h0M92.06 352.36h0M93.82 354.2h0M90.34 354.86h0M92.59 351.93h0M91.11 353.54h0M92.57 350.96h0M95.52 353.63h0M91.84 351.76h0M93.46 353.2h0M94.28 352.89h0M90.85 351.84h0M91.39 352.11h0M93.16 354.9h0M94.56 352.99h0M92.52 353.75h0M89.99 353.32h0M93.7 354.38h0M93.2 352.3h0M93.75 353.86h0M91.34 352.19h0M153.45 353.13h0M154.43 349.51h0M151.29 349.82h0M150.48 351.63h0M151.13 351.36h0M152.21 353.48h0M152.08 352.56h0M151.83 348.75h0M151.01 352.16h0M152.05 350.83h0M155.98 351.5h0M150.43 351.2h0M151.75 351.31h0M154.45 349.77h0M151.72 353.59h0M149.85 349.73h0M150.4 351.17h0M154.68 351.21h0M149.77 351.01h0M154.85 352.89h0M154.7 351.52h0M152.83 351.86h0M154.72 350.73h0M151.81 350.2h0M155.12 351.35h0M155.44 349.83h0M151.28 349.32h0M150.07 351.66h0M152.88 352.9h0M152.13 352.41h0M149.07 350.09h0M152.93 349.92h0M151.81 349.85h0M154.94 352.95h0M151.1 352.27h0M150.58 351.08h0M154.27 350.14h0M49.63 361.26h0M48.38 362.23h0M50.47 358.63h0M49.24 358.91h0M48.67 360.54h0M49.23 357.17h0M48.2 360.93h0M48.11 359.51h0M49.66 360.09h0M49.61 361.96h0M50.45 359.05h0M49.5 360.39h0M48.77 361.62h0M48.61 358.25h0M47.9 361.24h0M47.85 359.95h0M47.29 358.46h0M105.01 360.17h0M104.81 360.56h0M103.45 362.1h0M102.34 360.29h0M103.78 359.46h0M104.53 360h0M103.45 359.8h0M104.39 362.43h0M103.63 361.4h0M103.33 360.12h0M102.13 360.91h0M103.75 359.59h0M102.86 362.31h0M101.33 363.68h0M103.45 360.84h0M103.13 361.63h0M104.05 361.01h0M105.12 361.04h0M104.62 360.44h0M103.31 362.4h0M101.65 360.93h0M100.89 361.76h0M102.35 363.78h0M103.63 359.27h0M105.56 361.44h0M101.59 361.83h0M103.55 360.19h0M102.56 360.11h0M115.84 363.88h0M116.56 366.9h0M117.7 365.69h0M117.2 363.06h0M116.23 362.69h0M114.46 364.23h0M116.88 364.68h0M115.7 363.59h0M118.04 366.85h0M115.3 366.11h0M116.8 362.26h0M116.55 365.15h0M115.51 366.29h0M115.34 366.01h0M115.92 366.81h0M117.83 367.45h0M115.05 363.26h0M116.27 363.36h0M114.9 368.08h0M115.16 363.73h0M117.02 364.83h0M116.08 366.59h0M114.21 365.23h0M118.13 367.8h0M119.22 366.2h0M117.3 362.62h0M115.11 366.23h0M116.99 365.61h0M115.22 365.18h0M115.83 364.38h0M118.02 363.73h0M116.98 365.91h0M61.01 369.73h0M58.07 363.87h0M54.53 366.88h0M55.4 366.06h0M57.88 365.19h0M60.79 366.46h0M56.56 364.83h0M59.02 364.18h0M55.41 364.02h0M57.38 366.58h0M58.24 365.34h0M56.65 364.07h0M58.46 366.58h0M61.93 366.37h0M61.09 364.7h0M56.29 363.98h0M57.32 365.54h0M60.28 368.81h0M57.02 364.36h0M56.17 365.72h0M56.13 367.74h0M56.93 370.37h0M59.36 367.25h0M58.23 365.44h0M56.68 368.6h0M60.85 368.23h0M57.86 369.32h0M58.35 367.45h0M56.78 366.89h0M59.31 364.97h0M60.36 367.59h0M60.76 369.59h0M57.94 369.16h0M59.56 364.54h0M60.32 364.7h0M58.31 366.99h0M58.3 367.27h0M54.59 367.66h0M59.5 365.8h0M58.77 365.68h0M58.19 368.48h0M58.51 362.12h0M59.01 364.34h0M57.17 365.78h0M58.91 366.51h0M59.55 369.02h0M59.65 367.06h0M57.94 367.64h0M58.66 367.8h0M55.7 366.34h0M56.05 365.73h0M58.41 365.16h0M59.94 367.54h0M69.32 372.58h0M65.71 370.72h0M66.3 371.76h0M69.81 369.93h0M67.62 368.83h0M68.07 368.18h0M67.88 371.67h0M69.43 370.44h0M68.12 370.84h0M65.85 369.54h0M66.86 368.57h0M67.41 371.64h0M69.25 370.58h0M68.73 370.45h0M66.35 370.6h0M67.45 370.83h0M68.2 369.16h0M67.15 369.03h0M67.89 368.95h0M66.73 371.6h0M69.83 369.47h0M68.74 368.26h0M70.09 369.91h0M68.74 368.47h0M66.85 372.43h0M67.41 373.45h0M65.44 370.34h0M69.87 369.53h0M154.51 369.75h0M152.1 368.96h0M154.02 366.17h0M152.46 368.76h0M154.28 367.87h0M153.42 369.78h0M151.69 367.28h0M153.56 366.21h0M154.4 369.95h0M152.92 370.73h0M153.53 367.76h0M156.63 366.7h0M152.9 367.41h0M151.47 370.01h0M151.91 370.51h0M152.37 369.1h0M153.34 367.57h0M153.67 367.86h0M151.21 368.27h0M151.96 370.52h0M154.03 366.67h0M151.34 369.9h0M153.28 366.06h0M153.99 368.38h0M156.35 366.4h0M156.3 368.02h0M152.48 368.51h0M152.95 368.31h0M169.59 370.71h0M166.44 371.3h0M168.33 371.66h0M169.08 372.61h0M168.28 373.93h0M167.53 372.13h0M169.07 370.03h0M167.87 373.61h0M166.62 371.04h0M168.26 372.58h0M166.53 372.49h0M168.26 371.41h0M169.46 370.16h0M78.6 380.3h0M76.43 377.58h0M77.77 377.33h0M79.85 379.41h0M76.23 377.46h0M80.93 376.12h0M78.41 375.29h0M78.93 376.14h0M80 377.37h0M81.08 378.09h0M80.48 378.5h0M78.7 377.5h0M76.37 376.83h0M81.39 375.69h0M78.38 376.83h0M81.12 377.29h0M80.14 375.27h0M78.65 376.46h0M79.77 374.25h0M76.95 376.5h0M79.13 378.57h0M79.63 378.97h0M79 374.67h0M82.3 377.19h0M79.59 377.59h0M76.52 377.22h0M80.3 378.03h0M79.8 377.61h0M77.65 375.38h0M82.14 377.61h0M79.85 376.56h0M76.42 376.78h0M96.9 384.31h0M90.64 386.22h0M92.56 379.12h0M96.76 384.2h0M94.06 382.84h0M94.32 381.39h0M91.42 382.29h0M94.86 379.69h0M89.25 384.95h0M88.75 381.06h0M98.18 385.21h0M90.11 379.5h0M96.49 378.28h0M95.84 378.36h0M98.92 383.61h0M98.93 385.05h0M94.08 378.24h0M88.67 385.02h0M94.61 381.22h0M95.12 380.38h0M97.38 380.22h0M94.54 383.3h0M97.57 382.83h0M96.78 382.43h0M98.16 383.84h0M93.35 385.33h0M95.82 379.42h0M92.91 383.19h0M92.16 381.28h0M91.98 386.6h0M94.4 379.32h0M94.26 377.83h0M96.97 378.79h0M92.23 379.24h0M92.22 381.96h0M100.01 383.15h0M94.36 383.76h0M94.03 377.02h0M98.3 384.03h0M98.16 386.66h0M93.76 385.13h0M94.12 379.08h0M93.34 386.17h0M93.95 384.66h0M95.6 383.96h0M94.73 376.89h0M90.42 378.91h0M91.99 378.94h0M93.66 380.06h0M95.46 378.91h0M95.53 385.15h0M97.2 386.06h0M96.2 380.33h0M88.49 381.07h0M96.07 383.86h0M98.61 384.42h0M94.5 383.57h0M98.54 383.67h0M97.4 385.99h0M98.88 384.19h0M93.29 381.8h0M95.28 382.8h0M89.66 379.86h0M90.19 380.12h0M89.64 380.99h0M96.1 380.07h0M95.88 381.9h0M97.58 381.34h0M97.64 385.42h0M98.29 380.74h0M95.85 385.77h0M97.01 383.69h0M97.31 386.93h0M94.36 379.66h0M94.3 382.77h0M93.65 378.86h0M95.84 387.02h0M94.34 385.34h0M98 385.01h0M98.9 382.84h0M93.03 382.15h0M92.79 383.84h0M91.75 384.71h0M94.28 383.65h0M96.16 378.33h0M93.71 379.72h0M93.3 383.3h0M93.31 386.29h0M93.46 385.6h0M92.05 382.94h0M90.86 381.22h0M94.96 382.9h0M95.56 386.27h0M94.1 384.23h0M91.19 385.37h0M94.71 384.64h0M92.29 383.57h0M99.07 382.51h0M97.96 378.86h0M95.52 383.03h0M97.23 379.3h0M95.51 378.86h0M94.46 385.12h0M93.51 381.37h0M90.7 380.08h0M91.38 380.69h0M90.86 382.14h0M92.09 383.74h0M95.39 379.76h0M118.91 380.58h0M117.41 380.44h0M119.46 381.46h0M119.94 380.09h0M123.13 380.03h0M121.6 381.64h0M118.71 380.93h0M120.66 383.46h0M118.19 380.57h0M121.9 380.6h0M118.37 379.22h0M119.42 381.73h0M121.09 382.39h0M121.47 381.19h0M119.17 381.2h0M121.88 379.18h0M117.46 380.7h0M117.45 381.21h0M120.71 381.7h0M119.68 381.32h0M122.34 382.84h0M122.5 380.61h0M120.31 378.52h0M119.51 379.63h0M122.29 381.03h0M118.98 381.6h0M120.33 381.28h0M122.16 379.92h0M121.22 381.65h0M121.97 382.08h0M122.88 382.19h0M119.66 381.92h0M118.82 380.91h0M118.34 380.42h0M121.3 380.71h0M117.99 381.1h0M117.69 382.58h0M133.95 380.07h0M131.45 379.57h0M130.87 378.71h0M132.6 378.44h0M133 376.97h0M129.1 379.97h0M131.86 382.51h0M131.66 376.97h0M131.81 377.86h0M130.85 381.72h0M135.25 375.46h0M130.23 375.82h0M134.17 381.44h0M133.15 376.21h0M132.81 380.38h0M132.48 376.77h0M133.17 375.42h0M130.88 375.92h0M133.43 379.85h0M132.3 376.21h0M132.2 379.79h0M136.78 377.29h0M135.12 375.95h0M137.51 377.08h0M132.82 377.01h0M130.76 377.77h0M131.01 375.67h0M133.5 378.57h0M131.3 381.42h0M130.04 379.96h0M133.59 376.4h0M134.62 380.09h0M130.54 377.25h0M137.31 378.03h0M134.6 377.85h0M132.55 375.83h0M134.31 377.4h0M133.88 376.79h0M132.72 378.13h0M132.29 380.6h0M133.26 374.37h0M132.5 376.02h0M130.2 379.38h0M131.53 378.93h0M132.05 377.47h0M137.33 378.49h0M134.06 377.01h0M133.04 375.88h0M133.5 378.84h0M129.59 380.43h0M132.48 382.1h0M132.08 376.96h0M131.49 377.18h0M131.27 374.88h0M132.68 377.94h0M131.62 382h0M133.27 376.83h0M130.51 381.78h0M131.03 378.76h0M31.95 381.4h0M27.88 381.96h0M29.26 384.33h0M30.78 384.56h0M27.1 381.09h0M28.49 382.28h0M32.86 383.43h0M28.5 382.11h0M29.64 380.39h0M27.79 383.85h0M31.27 383.2h0M28.15 379.7h0M29.59 382.32h0M31.14 380.91h0M29.03 382.4h0M28.51 382.16h0M29.53 379.66h0M27.08 384.47h0M27.78 384.43h0M30.66 383.99h0M29.05 383.43h0M28.09 381.42h0M31.88 383.73h0M30.82 382.89h0M32.67 382.18h0M30.92 379.72h0M31.33 384.33h0M28.64 380.75h0M27.91 384.41h0M30.63 384.45h0M28.71 384.41h0M31.34 382.28h0M28.08 383.13h0M26.72 382.34h0M29.8 379.09h0M29.6 380.52h0M27.27 384.01h0M28.65 384.46h0M28.95 383.61h0M31.4 384.15h0M27.57 383.25h0M28.09 379.54h0M29.4 382.77h0M33.21 381.21h0M28.76 384.91h0M31.22 383.43h0M29.01 379.94h0M37.2 382.08h0M40.07 383.29h0M39.69 382.51h0M40.64 380.35h0M39.48 380.99h0M38.69 380.28h0M39.38 381.82h0M38.39 380.32h0M38.23 380.62h0M39.16 381.45h0M37.79 383.1h0M39.34 381.88h0M38.87 382.47h0M40.38 382.05h0M39.56 380.67h0M39.52 380.96h0M37.99 382.8h0M59.17 375.67h0M58.92 377.18h0M57.95 378.32h0M58.47 376.63h0M57.34 377.28h0M56.23 376.27h0M56.31 376.59h0M57.04 377.16h0M78.68 401.89h0M80.3 402.19h0M81.54 399.67h0M86.53 401.36h0M81.3 397.98h0M79.73 399.8h0M78.08 397.73h0M83.75 401.54h0M82.95 398.55h0M78.98 403.28h0M84.4 398.16h0M83.77 399.49h0M83.59 400.53h0M88.9 400.13h0M84.18 397.37h0M87.45 396.26h0M86.63 401.95h0M79.23 402.24h0M78.72 397.93h0M79.69 402.52h0M83.59 403.02h0M81.12 401.77h0M83.77 398.32h0M88.56 399.84h0M84.66 401.65h0M84.97 399.76h0M77.38 399.09h0M80.19 400.48h0M84.62 403.95h0M85.95 396.81h0M83.17 397.86h0M84.92 396.53h0M84.25 403.34h0M83.05 399.05h0M80.27 401.76h0M83.22 397.55h0M85.48 399.22h0M79.74 399.45h0M84.04 402.14h0M84.39 395.3h0M88.28 400.66h0M81.68 398.58h0M82.95 401.06h0M79.53 399.93h0M83.26 401.42h0M82.81 401.12h0M79.74 400.04h0M83.72 397.05h0M82.12 395.12h0M85.58 401.97h0M82.62 404.01h0M84.99 396.24h0M80.6 401.14h0M85.55 397.11h0M84.54 403.94h0M82.21 396.89h0M82.9 401.44h0M81.97 399.37h0M88.51 397.51h0M83.09 398.83h0M82.78 399.24h0M85.98 401.17h0M81.93 397.96h0M82.85 400.34h0M86.45 400.04h0M82.31 402h0M81.03 403.09h0M81.11 396.93h0M79.34 395.71h0M85.68 398.19h0M79.59 401.41h0M81.64 399.43h0M88.11 399.74h0M82.42 399.49h0M82.39 395.55h0M83.31 394h0M80.86 404.51h0M85.69 397.46h0M81.69 396.7h0M88.1 400.68h0M79.18 398.83h0M84.99 396.4h0M78.77 400.12h0M81.99 397.71h0M84.16 402.28h0M83.6 395.39h0M42.74 405.26h0M43.55 406.79h0M43.63 404.2h0M44.69 400.24h0M42.35 405.74h0M47.2 406.63h0M45.23 407.94h0M44.62 405.31h0M45.41 408.29h0M45.22 404.51h0M42.14 408.85h0M45.04 406.06h0M44.19 405.08h0M42.65 403.82h0M44.7 405.46h0M40 404h0M41.82 402.6h0M45.2 406.94h0M41.15 403.82h0M43.22 404.08h0M44.55 407.49h0M45.59 406.03h0M44.06 407.19h0M44.68 404.44h0M45.71 409.05h0M38.98 405.8h0M44.05 405.18h0M43.58 400.27h0M39.88 402.8h0M42.42 405.9h0M40.97 401.16h0M44.86 406.14h0M45.96 404.98h0M41.44 405.71h0M44.31 404.5h0M41.47 406.55h0M46.45 400.83h0M41.74 406.11h0M39.34 403.1h0M43 403.73h0M41.19 405.44h0M46.53 405.51h0M45.53 404.28h0M44.92 401.18h0M41.01 401.34h0M43.3 405.08h0M43.89 407.3h0M45.73 400.38h0M44.61 401.32h0M44.9 406.63h0M47.41 405.97h0M44.01 404.01h0M39.88 404.1h0M40.32 404.43h0M46.54 408.49h0M43.28 406.65h0M42.58 407.02h0M45.45 401.2h0M45.46 402.37h0M44.64 403.13h0M42.3 404.21h0M45.79 400.76h0M42.39 405.45h0M45.04 402.99h0M39.28 406.7h0M39.08 401.84h0M40.24 403.06h0M41.83 404.47h0M46.29 405.65h0M41.41 402.64h0M42.86 400.33h0M41.37 401.98h0M113.38 403.9h0M110.78 402.48h0M115.11 402.68h0M114.45 404.14h0M110.96 403.38h0M113.51 404.1h0M110.71 405.18h0M112.42 403.02h0M112.31 403.51h0M111.66 402.92h0M113.42 401.93h0M112.24 402.21h0M110.95 402.75h0M111.08 403.11h0M111.58 402.92h0M111.94 403.1h0M111.74 403.07h0M99.02 393.49h0M100.82 394.57h0M100.73 393.1h0M100.91 393.61h0M100.67 395.2h0M99.58 392.52h0M100.82 394.27h0M99.8 394.14h0M143.25 401.67h0M144.85 397.07h0M141.31 399.05h0M144.5 399.88h0M147.48 403.43h0M147.09 400.16h0M144.64 399.96h0M145.72 399.92h0M141.92 401.53h0M145.98 396.28h0M144.62 403.83h0M145.07 397.5h0M143.74 400.24h0M147.4 398.79h0M144.77 396.05h0M142.05 400.69h0M146.25 396.49h0M141.76 397.37h0M142.21 399.7h0M142.96 396.44h0M144.68 403.38h0M144.74 397.61h0M141.9 401.08h0M146.56 402.76h0M142.05 398.39h0M143.02 401.24h0M145.23 395.07h0M143.69 396.71h0M142.7 399.13h0M143.26 400.88h0M143.38 402.05h0M144.49 401.03h0M148.68 397.14h0M146.39 403.36h0M146.64 401.6h0M144.09 396.92h0M144.35 397.31h0M147.75 401.89h0M143.25 402.51h0M141.87 402.45h0M142.97 401h0M143.04 396.49h0M147.01 398.82h0M144.64 402.7h0M143.34 401.27h0M142.69 399.97h0M145.26 400.31h0M143.87 401.82h0M146.86 399.8h0M144.7 400.42h0M142.35 400.15h0M143.12 396.22h0M147.46 401.74h0M146.52 397.36h0M146.65 398.43h0M144.15 396.51h0M148.45 401.12h0M142.48 397.86h0M141.86 398.3h0M141.45 403.89h0M145.43 398.4h0M145.5 399.15h0M146.7 401.83h0M144.67 398.63h0M144.47 397.24h0M145.9 402.26h0M142.19 398.52h0M141.52 399.4h0M143.22 402.2h0M145.01 398.01h0M144.09 396.61h0M144.52 397.36h0M146.36 375.62h0M147.98 375.6h0M147.51 374.47h0M148.68 375.08h0M147.21 373.85h0M146.37 374.3h0M140.25 356.04h0M140.08 354.9h0M139.58 353.91h0M141.61 355.55h0M140.48 354.11h0M139.88 354.32h0M119.74 318.69h0M121.31 320.49h0M119.81 319.46h0M121.77 318.74h0M75.24 387.75h0M76.02 387.4h0M76.58 387.61h0M76.42 387.37h0" fill="none" stroke="#1f7a1a" stroke-width="1.7" stroke-linecap="round" opacity="0.6"/>
<path d="M71.5 316.17h0M69.65 320.46h0M68.61 318.32h0M71.88 319.37h0M70.69 316.98h0M68.64 317.36h0M71.38 318.24h0M69.95 319.91h0M70.81 318.51h0M71.04 317.35h0M71.7 318.05h0M71.12 320.33h0M69.93 319.13h0M69.57 316.85h0M69.44 317.63h0M69.78 317.78h0M69.51 317.95h0M71.9 319.78h0M71.02 320.24h0M69.17 318.89h0M69.11 317.51h0M70.08 320.31h0M70.54 318.41h0M70.93 317.62h0M68.86 318.21h0M71.01 316.12h0M68.9 318.32h0M69.56 317.31h0M102.92 317.53h0M104.02 317.25h0M101.56 316h0M102.61 319.33h0M102.72 317.44h0M102.06 315.98h0M103.69 319.04h0M103.65 319.77h0M102.73 318.79h0M100.1 316.69h0M101.82 316.25h0M102.2 316.65h0M104.63 318.81h0M101.91 317.65h0M102.74 318.39h0M102.57 318.85h0M101.84 318.58h0M101.87 318.31h0M101.69 318.66h0M100.14 316.75h0M68.97 328.13h0M73.18 328.46h0M63.29 334.45h0M68.32 331.66h0M67.4 330.11h0M73.78 331.31h0M73.14 332.29h0M71.07 331.72h0M65.85 328.61h0M64.92 334.71h0M70.42 335.27h0M71.13 330.45h0M63.93 334.43h0M65.98 331.58h0M66.43 334.84h0M67.02 331.36h0M68.2 331.65h0M67.56 331.55h0M64.11 331.78h0M65.03 332.19h0M70.57 332.24h0M68.02 335.52h0M66.48 333.77h0M73.04 330.26h0M69.37 334.65h0M73.22 332.23h0M68.23 331.45h0M72.76 333.22h0M69.26 334.88h0M72.7 330.03h0M71.93 334.09h0M67.94 335.14h0M68.28 332.24h0M65.7 333.77h0M69.52 336.43h0M67.02 332.94h0M65.74 331.57h0M69.53 335.39h0M73.06 328.49h0M68.54 328.12h0M66.54 330.31h0M69.69 328.53h0M67.66 329.55h0M70.24 332.55h0M70.17 330.24h0M70.02 334.92h0M65.69 336.13h0M69.7 334.38h0M69.78 330.48h0M69.15 331.19h0M68.91 333.05h0M67.53 333.58h0M69.21 328.73h0M72.03 333.17h0M71.3 328.36h0M69.03 329.92h0M66.83 330.84h0M69.32 329.9h0M67.15 333.62h0M69.95 332.19h0M68.44 334.11h0M70.39 332.92h0M67.79 331.49h0M72.17 331.18h0M68.88 333.46h0M65.6 330.14h0M68.11 330.48h0M68.47 332.3h0M66.74 329.7h0M68.1 335.55h0M67.95 328.88h0M69.98 335.62h0M71.51 331.03h0M72.96 331.88h0M72.93 331.55h0M67.79 335.86h0M72.97 332.96h0M66.25 329.92h0M66.79 329.78h0M70.11 329.76h0M67.06 333.63h0M68.5 334.79h0M66.38 332.88h0M64.95 330.01h0M73.51 328.87h0M67.83 333.52h0M52.55 323.92h0M52.71 322.05h0M52.3 323.03h0M53.46 321.31h0M53.08 322.68h0M51.85 322.89h0M51.47 323.46h0M54.13 322.77h0M49.13 329.45h0M49.17 329.41h0M49.48 328.36h0M49.34 328.57h0M50.84 328.65h0M50.54 328h0M49.16 327.68h0M48.9 327.8h0M99.36 327.26h0M100.63 327.85h0M101.19 325.88h0M100.69 326.72h0M101.01 327.03h0M98.87 328.51h0M101.01 327.16h0M98.57 328.31h0M100.54 325.54h0M100.71 326.53h0M100.9 328.63h0M98.05 327.36h0M102.71 326.54h0M99.48 326.31h0M101.26 327.34h0M98.03 326.87h0M99.78 327.93h0M28.19 340.71h0M29.17 340.57h0M27.1 338.97h0M29.07 341.3h0M29.18 341.22h0M27.24 338.31h0M27.68 340.81h0M29.69 339.53h0M27.86 340.02h0M29.74 339.67h0M28.08 337.84h0M28.94 338.92h0M27.68 340.14h0M28.25 338.06h0M27.58 339.31h0M29.56 339.52h0M28.72 339.94h0M58.79 342.86h0M54.23 342.43h0M55.1 342.7h0M56.02 341.39h0M57.7 339.16h0M57.03 340.72h0M54.65 341.4h0M57.02 343.24h0M57.72 342.51h0M58.67 342.1h0M54.14 341.96h0M56.41 337.54h0M58.74 340.34h0M58.41 340.22h0M57.07 338.04h0M57.18 340.84h0M55.24 339.38h0M56.59 340.23h0M57.89 342.44h0M55.97 338.08h0M58.72 341.16h0M56.63 342.52h0M54.49 341.19h0M57.58 343.22h0M57.94 339.44h0M54.88 338.98h0M54.45 340.94h0M55.66 342.82h0M57.2 342.27h0M56.41 339.6h0M58.73 341.98h0M57.25 338.8h0M58.23 340.27h0M58.18 339.81h0M56.78 342.24h0M58.54 341.19h0M55.45 338.52h0M93.74 339.07h0M91.9 340.06h0M92.2 338.82h0M93.04 340.66h0M92.84 340.93h0M92.83 338.74h0M93.29 340.03h0M92.66 336.93h0M94.09 338.3h0M94.85 340.36h0M92.46 339.39h0M92.49 338.2h0M92.08 339.48h0M91.68 339.89h0M92.75 338.87h0M92.42 337.92h0M91.9 340.88h0M91.09 338.89h0M90.27 339.05h0M92.94 339.48h0M93.74 339.76h0M92.61 338.21h0M90.56 337.86h0M91.95 336.63h0M90.63 339.94h0M94.67 339.05h0M93.35 338.2h0M93.81 338.96h0M112.59 343.44h0M115.43 340.94h0M116.23 339.97h0M115.1 337.34h0M114.84 341.48h0M111.47 339.46h0M112.58 340.2h0M113.73 340.3h0M112.75 340.46h0M114.65 338.93h0M114.17 338.97h0M115.7 339.43h0M113.05 341.93h0M113.57 340.6h0M115.42 339.52h0M112.6 337.63h0M112 341.81h0M111.38 338.4h0M112.27 339.32h0M113.58 339.3h0M114.41 338.71h0M112.42 341.42h0M114.94 338.89h0M114.02 340.96h0M113.42 341.95h0M112.96 340.63h0M113.38 338.45h0M115.02 340.06h0M113.69 340.01h0M113.35 338.4h0M113.89 338.41h0M112.86 339.65h0M114.4 340.19h0M114.39 337.43h0M113.14 340.53h0M113.99 339.16h0M115.19 339.71h0M113.53 341.83h0M114.85 339.19h0M111.64 340.82h0M115.4 338.48h0M111.4 342.53h0M127.01 343.47h0M125.71 343.56h0M127.54 345.26h0M127.99 344.84h0M123.21 343.58h0M125.57 342.13h0M123.58 345.32h0M124.24 341.93h0M125.85 342.48h0M125.89 346.17h0M126.84 344.77h0M124.15 345.45h0M127.41 345.24h0M125.75 342.27h0M124.65 345.3h0M125.67 345.47h0M126.17 345.77h0M126.07 344.61h0M124.08 345.78h0M125.99 345.56h0M124.23 342.68h0M125.33 343.83h0M124.67 346.71h0M125.16 344.07h0M124.54 345.04h0M126.54 345.87h0M128.01 344.99h0M125.02 342.25h0M136.15 341.13h0M137.51 340.62h0M136.51 339.03h0M135.91 338.62h0M134.54 340.35h0M135.47 340.2h0M136.74 340.93h0M136.18 339.06h0M136.32 338.87h0M135.25 343.77h0M137.5 341.81h0M136.97 339.34h0M137.75 340.64h0M135.77 342.08h0M135.17 341.75h0M136.62 340.9h0M133.24 339.9h0M136.55 341.73h0M136.02 343.05h0M137.23 342.7h0M133.88 341.64h0M135.65 340.01h0M137.69 341.59h0M135.62 339.58h0M133.74 339.5h0M135.44 342.36h0M136.23 340.69h0M135.27 342.89h0M145.42 333.54h0M144.38 335.07h0M144.52 333.97h0M145.26 336.23h0M145.22 334.84h0M144.41 334.01h0M146.84 334.46h0M146.03 335.77h0M145.01 333.04h0M145.74 333.19h0M146.79 335.42h0M146.4 334.93h0M145.31 334.67h0M147.2 335.72h0M145.63 333.59h0M144.5 334.02h0M144.67 334.02h0M160.88 341.72h0M159.11 341.89h0M160.41 340.61h0M161.97 340.51h0M159.09 340.2h0M160.72 340.4h0M159.41 339.71h0M159.85 342.06h0M159.95 341.69h0M160.51 339.64h0M158.36 340.62h0M161.31 341.57h0M158.49 340.23h0M162.43 340.76h0M159.51 340.79h0M159.33 341.57h0M161.25 340.82h0M161.84 339.98h0M161.03 339.33h0M161.7 339.45h0M77.12 343.81h0M76.88 341.79h0M75.95 342.98h0M76.79 341.71h0M77.39 342.61h0M77.92 341.06h0M78.24 341.74h0M76.45 340.82h0M65.96 352.91h0M66.45 355.44h0M70.06 357.45h0M69.04 353.43h0M69.19 352.05h0M69.41 357.75h0M68.54 353.13h0M66.01 355.01h0M66.49 352.5h0M70.13 351.49h0M66.32 355.69h0M64.81 354.12h0M68.46 354.24h0M64.18 355.15h0M65.21 354.71h0M66.04 357.96h0M65.74 356.56h0M68.96 354.25h0M64.4 353.77h0M68.39 354.66h0M66.33 355.42h0M70.02 355.47h0M68.94 354.36h0M69.75 353.04h0M66.2 353.43h0M66.47 354.81h0M66.21 356.52h0M67.67 358.36h0M66.53 355.14h0M67.34 350.58h0M68.5 352.8h0M68.12 356.5h0M70.95 354.39h0M69.81 353.45h0M68.76 353.41h0M65.71 355.86h0M67.36 352.43h0M69.5 353.96h0M69.64 356.55h0M70.55 353.81h0M68.3 353.83h0M66.55 352.1h0M64.51 356.07h0M71.68 355.06h0M69.92 354.04h0M66.08 354.94h0M69.21 352.89h0M69.28 352.75h0M64.44 356.61h0M67.79 355.36h0M70.79 356.55h0M69.65 354.75h0M68.69 355.74h0M64.92 356.62h0M65.04 355.75h0M64.7 353.53h0M70.66 355.17h0M67.4 352.25h0M72.04 355.14h0M68.19 357h0M64.03 355.32h0M64.7 353.11h0M69.03 355.48h0M69.18 350.92h0M68.42 350.58h0M68.53 350.46h0M67.33 353.54h0M66.93 357.83h0M67.03 353.41h0M64.96 354.76h0M67.06 356.65h0M66.75 353.53h0M82.94 353.26h0M82.48 352.62h0M80.89 354.05h0M81.98 353.18h0M81.81 352.12h0M82.12 353.12h0M83.06 352.84h0M83.63 354.21h0M81.18 352.93h0M84.07 353.78h0M83.2 352.34h0M82.27 352.48h0M80.09 352.93h0M91.2 351.44h0M90.55 354.6h0M93.7 352.06h0M90.85 354.51h0M93.35 351.4h0M92.79 352.81h0M90.87 353h0M92.13 352.34h0M92.61 350.91h0M92.33 354.51h0M91.53 351.4h0M90.76 353.62h0M89.84 353.07h0M92.74 352.83h0M91.2 353.75h0M92.45 353.62h0M92.07 353.48h0M92.03 352.02h0M94.36 352.1h0M93.39 351.62h0M92.42 355.36h0M91.55 352.43h0M91.89 351.62h0M91.5 353.7h0M93.91 351.94h0M91.7 353.34h0M91.61 352.84h0M94.37 352.38h0M152.35 352.82h0M154.54 349.98h0M151.12 352.38h0M152.97 350.46h0M154.52 349.34h0M154.59 350.25h0M150.97 349.5h0M151.13 350.64h0M152.27 352.96h0M153.63 352.22h0M151.58 351.92h0M154.87 352.86h0M152.01 352.74h0M151.86 350.57h0M151.59 351.54h0M151.34 353.61h0M152.64 353.52h0M154.67 350.98h0M154.07 349.78h0M151.58 348.96h0M151.59 351.68h0M153.41 352.19h0M153.14 348.98h0M154.55 351.45h0M153.5 351.86h0M154.5 349.77h0M153.83 351.01h0M153.96 351.24h0M151.12 352.89h0M153.08 354.06h0M154.12 349.59h0M154.13 351.83h0M152.07 349.89h0M155.67 353.06h0M151.7 350.14h0M149.34 350.32h0M153.36 351.07h0M47.68 360.26h0M48.71 359.72h0M48.51 362.25h0M49.06 361.82h0M48.81 359.99h0M50.47 359.39h0M48.77 362.32h0M50.61 358.33h0M47.5 358.64h0M50.07 359.52h0M50.07 357.79h0M48.65 358.74h0M49.37 360.31h0M49.42 360.59h0M49.14 360.78h0M48.94 360.74h0M48.11 361.6h0M103.33 361.27h0M103.46 360.26h0M102.14 361.32h0M102.2 360.76h0M103.18 361.19h0M102.06 363.14h0M103.83 359.89h0M102.5 360.62h0M103 362h0M100.96 362.9h0M102.89 359.75h0M102.91 360.74h0M104.73 362.76h0M102.2 361.55h0M101.88 361.41h0M102.94 360.93h0M103.41 360.16h0M101.12 361.21h0M104.17 362.06h0M102.77 360.1h0M102.92 362.68h0M101.35 363.45h0M101.68 361.13h0M102.67 360.89h0M101.98 361.63h0M100.78 362.55h0M103.67 360.02h0M103.89 362.25h0M114.28 365.69h0M113.98 365.91h0M114.78 363.78h0M113.72 365.45h0M115.46 364.93h0M115.47 363.62h0M116.81 365.68h0M116.59 365.86h0M117 363.77h0M116.45 363.73h0M118.52 366.52h0M114.15 364.4h0M118.13 365.69h0M115.62 366.96h0M115.92 364.9h0M116.92 366.3h0M115.04 366.91h0M116.53 365.83h0M115.55 365.22h0M115.08 364.16h0M113.87 364.37h0M116.13 367.56h0M117.05 363.78h0M117.75 365.23h0M114.88 366.58h0M115.78 365.53h0M115.76 362.91h0M116.43 365.11h0M113.71 366.29h0M118.56 366.64h0M115.86 363.47h0M117.64 363.24h0M60.61 363.7h0M58.18 365.65h0M57.39 364.91h0M59.47 366.59h0M59.47 368.65h0M57.4 365.81h0M59.35 366.37h0M58.95 367.92h0M55.77 363.63h0M60.71 364.52h0M58.61 370.01h0M62.42 365.98h0M57.02 368.33h0M60.26 365.1h0M59.41 369.98h0M60.13 367.08h0M59.05 366.86h0M57.37 365.5h0M56.97 367.46h0M58.37 366.74h0M57.47 368.04h0M59.02 369.63h0M58.17 365.33h0M58.27 369.54h0M57.25 364.47h0M56.12 364.78h0M59.48 365.05h0M57.27 367.62h0M57.23 366.28h0M59.43 366.52h0M59.24 367.43h0M59.54 364.67h0M57.09 367.62h0M57.04 367.98h0M57.97 365.68h0M57.5 364.41h0M59.97 367.55h0M60.23 366.6h0M58.08 366.12h0M60.27 364.88h0M60.56 369.24h0M57.51 367.99h0M57.07 368.86h0M62.02 367.08h0M59.16 366.66h0M59.31 367.27h0M58.41 366.27h0M58.96 366.81h0M59.29 368.31h0M56.41 367.18h0M60.4 366.03h0M57.98 364.43h0M55.78 365.99h0M68.52 368.65h0M68.52 370.44h0M67.31 370.34h0M68.4 369.66h0M67.48 368.59h0M67.05 370.78h0M66.89 369.37h0M67.55 368.46h0M66.15 371.79h0M69.62 370.06h0M66.99 373.01h0M68.09 371.64h0M68.75 369.63h0M68.88 370.38h0M65.73 370.97h0M66.33 371.81h0M67.01 369.39h0M67.47 369h0M67.3 369.71h0M66.24 369.86h0M67.77 373.27h0M69.36 368.97h0M66.78 370.49h0M67.88 370.76h0M67.97 370.16h0M65.22 370.16h0M66.35 372.65h0M68.66 368.54h0M152.21 368.06h0M152.51 368.41h0M155.55 367.63h0M151.86 368.83h0M151.45 368.78h0M154.57 368.27h0M155.46 366.79h0M153.64 367.89h0M154.41 369.79h0M153.21 366.41h0M154.01 367.66h0M153.01 367.95h0M153.43 366.66h0M154.5 366.41h0M154.28 366.76h0M153.02 367.63h0M154 367.61h0M152.81 370.09h0M156.88 367.36h0M153.71 367.84h0M156.95 367.38h0M154.65 365.98h0M153.85 370.13h0M154.5 369.48h0M153.56 367.89h0M152.28 367.37h0M155.78 369.97h0M152.8 366.81h0M168.47 373.41h0M167.97 372.11h0M168.21 371.29h0M168.2 370.78h0M169.17 370.67h0M168.94 370.93h0M168.09 372.45h0M166.82 371.96h0M169.01 371.44h0M168.48 370.94h0M166.47 371.99h0M169.03 371.23h0M168.54 373.33h0M78.57 376.81h0M78.27 379.85h0M77.55 376.5h0M78.14 378.46h0M78.91 376.03h0M76.97 376.14h0M79.25 375.74h0M78.09 377.56h0M78.17 374.92h0M77.76 377.97h0M76.42 377.84h0M78.26 376.88h0M78.37 377.21h0M79.53 376.68h0M78.02 377.55h0M78.64 379.05h0M78.49 375.27h0M78.93 378.4h0M81.85 376.06h0M76.52 377.16h0M79.61 375.39h0M81.3 376.36h0M78.62 379.06h0M77.93 378.86h0M79.95 375.23h0M81.45 377.32h0M77.99 377.2h0M77.44 376.96h0M79.84 374.51h0M76.7 376.26h0M79.81 377.01h0M81.57 375.49h0M97.08 380.41h0M98.67 382.32h0M92.76 383.14h0M98.71 379.37h0M91.19 379.93h0M94.1 386.7h0M92.57 386.79h0M98.28 382.68h0M93.04 378.41h0M95.13 379.69h0M90.45 382.36h0M93.5 379.26h0M97.74 381.52h0M95.69 382.24h0M93.75 384.34h0M92.88 382.34h0M96.69 384.68h0M91.93 381.32h0M96.65 383.53h0M96.01 383.84h0M94.36 377.9h0M96.99 385.34h0M96.53 382.17h0M95.25 386.47h0M95.17 384.88h0M97.21 380.08h0M91.82 387.56h0M93.19 381.51h0M97.53 380.14h0M94.59 386.68h0M92.22 384.37h0M96.57 382.84h0M92.99 386.74h0M91.75 379.33h0M91.94 380.7h0M93.52 378.38h0M92.82 385.73h0M96.25 385.7h0M96.49 386.71h0M92.77 385.73h0M94.76 382.07h0M92.23 383.9h0M95.87 384.44h0M92.93 385.67h0M91.88 379.63h0M91.95 384.82h0M94.73 383.07h0M95.02 379.23h0M91.23 379.8h0M98.12 381.24h0M97.8 381.22h0M92.43 378.2h0M94.7 383.11h0M91.99 382.8h0M97.08 381.47h0M95.18 382.43h0M93.13 384.01h0M93.71 387.33h0M96.74 383.93h0M92.01 382.77h0M91.34 383.21h0M91.17 385.08h0M98.09 384.38h0M94.08 382.49h0M92.53 385.69h0M95.65 382.69h0M98.28 384.66h0M93.27 381.85h0M91.81 384.29h0M92.16 382.16h0M93.24 382.76h0M96.33 377.98h0M93.22 382.65h0M99.39 378.98h0M91.41 382.09h0M95.52 385.72h0M99.26 379.75h0M94.28 381.71h0M95.12 386.39h0M90.3 381.06h0M96.12 387.19h0M94.75 384.59h0M95.5 378.01h0M95.76 378.69h0M95.44 380.13h0M95.34 384.76h0M97.16 382.62h0M99.35 379.79h0M96.89 381.58h0M97.89 385.51h0M98.13 383.26h0M94.38 382.76h0M95.23 385.5h0M91.23 381.09h0M97.8 380.76h0M96.24 379.82h0M90.47 380.43h0M93.49 387.59h0M90.25 381.11h0M92.33 386.77h0M90.79 385.11h0M96.41 383.72h0M90.97 379.88h0M91.06 379.43h0M93.24 387.11h0M94.02 378.45h0M92.87 385.57h0M90.64 383.85h0M94.39 378.22h0M121.07 379.92h0M122.29 381.25h0M120.11 381.09h0M123.33 380.94h0M122.32 381.36h0M120.15 379.29h0M120.09 383.15h0M118.96 379.12h0M121.34 379.79h0M122.16 382.22h0M119.9 381.38h0M120 379.6h0M117.46 380.38h0M122.5 380.61h0M118.09 381.25h0M120.8 380.1h0M118.2 379.9h0M122.17 379.48h0M121.17 379.58h0M119.38 379.84h0M118.63 381.63h0M120.89 379.29h0M120.94 378.1h0M120.27 381.01h0M122.25 380.82h0M120.12 381.57h0M120.34 378.63h0M120.15 383.25h0M120.81 380.29h0M118.29 382.31h0M117.24 381.25h0M119.46 379.54h0M122.61 380.5h0M121.48 381.94h0M122.75 380.22h0M118.4 381.63h0M120.35 380.21h0M133.03 376.57h0M134.04 375.79h0M132 381.71h0M133.54 382.55h0M135.28 376.94h0M131.02 378.09h0M130.79 377.9h0M129.99 380.81h0M132.54 380.21h0M134.36 379.87h0M130.9 380.75h0M132.73 379.59h0M132.06 378.26h0M134.19 378.26h0M134.3 381.4h0M133.18 380.86h0M130.52 377.81h0M129.39 378.16h0M136.37 378.31h0M131.62 378.72h0M131.21 375.82h0M133.41 374.84h0M132.67 382.8h0M131.04 376.25h0M132.52 377.35h0M130.88 380.06h0M132.53 379.87h0M136.82 378.5h0M135.68 378.89h0M135.71 375.92h0M135.24 380.53h0M129.85 380.43h0M132.16 378.19h0M135.17 375.14h0M135.1 379.98h0M135.94 380.04h0M133.19 376.54h0M130.42 377.55h0M134.72 376.55h0M135.06 377.3h0M132.67 380.16h0M131.85 377.34h0M131.92 381.33h0M131.72 375.19h0M131.04 375.26h0M130.94 380.84h0M132.41 378.9h0M133.02 378.6h0M133.56 381.35h0M132.1 379.65h0M133 382.2h0M134.18 377.88h0M132.19 381.79h0M129.65 377.68h0M130.96 379.81h0M130.46 376.45h0M134.95 380.65h0M133.24 375.49h0M136.28 376.64h0M27.07 381.13h0M29.5 381.93h0M28.6 382.28h0M28.21 382.14h0M27.97 385.63h0M31.38 382.73h0M30.98 383.35h0M29.52 379.93h0M31.95 380.82h0M28.13 380.38h0M28.71 382.87h0M26.95 381.55h0M31.28 383.23h0M31.15 380.48h0M28.69 381.19h0M28.69 381.53h0M29.88 386.1h0M31.18 380.75h0M31.95 384.99h0M30.66 381.34h0M28.19 382.05h0M30.66 383.32h0M31.84 380.62h0M30.62 384.58h0M29.55 379.87h0M30.35 384.12h0M30.6 381.22h0M26.06 383.92h0M28 380.3h0M30.52 384.64h0M27.27 382.48h0M29.14 381.11h0M28.32 384.65h0M29.02 383.12h0M30.47 380.46h0M30.91 383.24h0M29.87 380.51h0M31.84 381.31h0M26.52 383.54h0M30.71 383.23h0M30.33 380.35h0M27.25 381.56h0M30.32 380.65h0M31.34 383.36h0M30.94 382.5h0M31.3 384.35h0M28.67 385.42h0M41.06 383.47h0M40.22 381.02h0M39 381.3h0M41.12 382.19h0M40.09 382.18h0M40.09 383.73h0M39.44 380.91h0M40.04 383.16h0M40.13 383.17h0M39.98 382h0M40.52 384.08h0M39.41 383.55h0M41.08 382.43h0M37.87 382.15h0M40.66 382.06h0M38.58 381.63h0M38.94 380.5h0M58.41 375.17h0M59.06 376.81h0M57.82 378.22h0M56.74 376.72h0M56.42 375.79h0M57.48 375.32h0M58.2 377.47h0M58.52 376.39h0M83.46 399.55h0M81.96 399.67h0M80.52 396.71h0M81.99 399.35h0M79.42 397.07h0M85.75 395.28h0M80.29 399.72h0M82.16 395.9h0M85.06 400.51h0M87.27 401.05h0M83.78 401.31h0M82.33 394.95h0M85.81 397.83h0M85.1 398.36h0M87.24 400.53h0M85.61 398.09h0M80.27 404.38h0M79.31 401.63h0M82.87 396.23h0M79.84 397.5h0M84.55 402.43h0M81.73 399.45h0M86.2 400.63h0M84.26 405.15h0M84.37 399.44h0M85.35 395.2h0M79.96 397.58h0M85.57 397.5h0M84.77 398.31h0M85.66 394.58h0M82.59 400.69h0M85.35 399.22h0M78.52 398.24h0M83.88 398.44h0M79.52 400.66h0M83.02 397.73h0M86.59 402.34h0M80.56 400.49h0M82.86 398.49h0M81.54 396.69h0M79.19 396.92h0M84.65 399.68h0M87.2 401.4h0M82.02 399.85h0M82.92 403.74h0M82.47 401.37h0M82.31 399.45h0M85.15 397.52h0M82.05 399.83h0M79.31 396.55h0M80.47 397.98h0M82.65 398.17h0M77.69 400.33h0M86.88 396.19h0M85.41 398.8h0M83.36 394.72h0M82.6 405.44h0M78.07 400.77h0M83.84 405.26h0M78.35 399.04h0M85.28 398.7h0M84.31 397.34h0M85.42 404.51h0M81.89 398.31h0M84.2 399.36h0M82.74 397.59h0M81.61 398.24h0M87.52 399.25h0M84.86 400.17h0M85.06 399.28h0M83 398.45h0M85.34 397.43h0M82.74 399.34h0M84.81 393.77h0M80.31 397.73h0M86.71 402.23h0M84.14 404.74h0M79.53 399.38h0M81.2 400.42h0M82.61 401.45h0M79.41 399.47h0M82.47 398.15h0M83.46 402.73h0M80.91 400.18h0M81.25 398.77h0M83.15 399.48h0M45.23 405.41h0M42.48 404.02h0M43.63 401.73h0M45.1 405.29h0M42.61 406.04h0M43.24 404.68h0M40.78 405.49h0M42.04 403h0M44.09 403.81h0M44.56 401.67h0M44.85 401.12h0M39.97 403.45h0M42.64 401.14h0M45.81 402.69h0M45.56 400.72h0M46.59 403.66h0M42.37 401.79h0M43.9 407.31h0M42.58 404.48h0M45.17 403.14h0M40.27 403.26h0M41.95 405.03h0M42.85 401.81h0M42.23 404.62h0M42.14 403.2h0M45.93 406.21h0M41.44 403.6h0M45.57 407.82h0M44.53 403.27h0M42.81 400.75h0M44.39 405.86h0M46.75 403.5h0M45.48 406.84h0M46.37 401.18h0M46.73 402.5h0M43.38 406.01h0M41.13 401.52h0M43.16 406.23h0M43.92 406.62h0M46.32 403.39h0M45.74 404.07h0M43.4 404.61h0M43.86 404.94h0M44.43 405.45h0M43.1 406.95h0M42.65 402.68h0M47.46 403.14h0M44.6 402.89h0M40.38 403.1h0M44.07 402.55h0M42.44 400.92h0M44.85 406.8h0M41.72 403.89h0M45.9 402.21h0M44.75 404.66h0M41.92 407.79h0M45.7 401.67h0M42.32 405.46h0M43.5 408h0M41.45 406.15h0M42.04 405.6h0M43.58 400.75h0M41.09 404.13h0M44.47 407.72h0M41.69 407.91h0M45.89 408.77h0M43.87 401.4h0M41.23 402.37h0M47.56 404.33h0M45.95 401.77h0M40.01 405.25h0M40.64 403.79h0M112.04 404.41h0M110.52 403.82h0M113.13 403.62h0M112.5 403.02h0M112.62 404.62h0M111.31 404.89h0M111.44 402.14h0M110.53 402.92h0M113.29 403.56h0M112.48 402.68h0M113.08 403.91h0M111.95 402.78h0M111.51 404.31h0M113.55 403.25h0M112.92 402.42h0M111.16 403.5h0M113.91 402.81h0M100.95 393.97h0M99.79 393.29h0M101.13 393.67h0M100.35 395.42h0M100.37 393.25h0M99.18 395.01h0M99.23 394.97h0M100.72 393.47h0M142.43 398.46h0M142.02 403.98h0M143.69 398.63h0M148.49 398.79h0M142.65 401.06h0M147.48 398.91h0M141.49 404.57h0M143.78 401.01h0M149.07 398.28h0M144.14 399.61h0M143.87 397.13h0M147.77 400.08h0M145.82 401.38h0M146.49 398.84h0M142.89 401.21h0M147.42 400.19h0M145.7 401.42h0M146.88 398.65h0M142.31 400.33h0M144 400.97h0M143.57 400h0M145.4 402.24h0M145.06 401.67h0M146.93 398.92h0M147.37 400.92h0M147.12 398.97h0M143.55 399.31h0M145.54 398.45h0M143.48 396.71h0M144.47 401.33h0M145.64 405.19h0M145.23 398.36h0M147.05 398.88h0M146.23 398.69h0M146.48 401.22h0M144.48 402.6h0M144.71 396.45h0M143.69 401.86h0M144.08 397.36h0M144.19 396.96h0M147.14 395.76h0M141.73 399.39h0M143.48 399.35h0M144.93 399.38h0M148.44 399.5h0M143.97 396.57h0M147.7 398.15h0M144.86 402.47h0M141.93 400.77h0M144.22 398.78h0M146.41 399.88h0M143.86 398.94h0M147.69 400.8h0M143.94 396.7h0M144.39 400.48h0M146.75 403.72h0M144.1 402.52h0M142.88 399.67h0M144.56 402.66h0M142.79 401.67h0M148.82 398.16h0M144.51 402.5h0M142.01 399.28h0M145.93 398.18h0M142.31 404.99h0M147.37 396.93h0M143.67 400.28h0M147.45 400.67h0M145.45 401.61h0M147.16 397.93h0M143.53 400.41h0M143.57 402.57h0M148.06 374.76h0M148.42 375.6h0M147.52 374.55h0M147.2 375.07h0M146.38 375.07h0M147.52 376.02h0M140.88 354.13h0M140.29 355.3h0M140.31 355.86h0M140.52 354.9h0M140.95 355.67h0M139 354.52h0M121 318.4h0M121.05 319.8h0M119.49 319.8h0M120.33 319.13h0M75.52 388.77h0M75.3 387.21h0M76.34 388h0M74.4 388.52h0" fill="none" stroke="#3cc32e" stroke-width="1.2" stroke-linecap="round"/>
<path d="M69.9 318.08h0M70.96 317.19h0M70.97 316.85h0M69.09 319.01h0M69.85 319.61h0M69.36 317.07h0M69.38 319.5h0M70.03 319.92h0M101.24 317.39h0M102.14 317.78h0M102.45 317.28h0M103.64 318.07h0M104.63 318.64h0M103.32 319.29h0M66.84 330.8h0M67.47 334.19h0M69.58 333.79h0M67.48 331.84h0M70.75 334.09h0M67.87 330.05h0M68.56 334.59h0M70.44 330.95h0M67.32 334.67h0M70.95 331.23h0M70.51 333.92h0M68.4 333.3h0M68.25 333.96h0M71.72 333.58h0M70.96 333.84h0M67.62 330.66h0M72.17 329.89h0M68.86 334.65h0M71.29 329.26h0M70.72 334.56h0M66.54 334.85h0M68.31 332.83h0M68.17 333.72h0M67.49 333.18h0M72.78 331.08h0M70.89 328.34h0M101.13 328.35h0M99.4 327.29h0M99.54 326.48h0M99.01 327.6h0M99.56 326.88h0M29.42 340.06h0M29.06 340.59h0M28.02 338.96h0M26.9 340.13h0M28.7 340.1h0M54.16 341.54h0M57.96 343.39h0M56.5 340.22h0M54.88 340.51h0M55.98 339.09h0M55.08 339.73h0M56.41 342.85h0M57.65 342.2h0M54.99 339.32h0M57 342.3h0M55.7 339.35h0M92.72 338.29h0M92.67 339.27h0M92.6 339.52h0M92.34 340.15h0M92.72 340.55h0M91.77 336.78h0M93.18 337.1h0M93.8 339.17h0M113.56 342.62h0M112.12 340.2h0M114.76 339.77h0M116.1 340.31h0M113.57 340.57h0M112.28 341.38h0M115.27 339.97h0M113.61 340.94h0M114.44 341.33h0M114.56 338.68h0M116.23 338.94h0M113.98 341.03h0M112.16 340.29h0M125.97 345.07h0M127.36 344.28h0M125.45 344.39h0M125.28 344.87h0M126.55 344.51h0M125.1 343.65h0M124.08 345.96h0M124 343.56h0M136.35 341.26h0M135.33 343.32h0M135.87 342.7h0M136.65 342.41h0M137.11 340.08h0M135.52 339.73h0M133.97 340.22h0M135.89 340.83h0M146.34 333.35h0M145.73 334.09h0M144.73 333.76h0M145.27 335.33h0M146.39 333.47h0M160.43 340.19h0M159.54 339.5h0M159.27 341.41h0M160.44 341.08h0M161.87 342.29h0M159.29 340.42h0M67.98 355.66h0M66.09 358.35h0M69.1 358.06h0M66.88 353.03h0M69.11 353.82h0M66.89 355.73h0M65.29 354.29h0M67.96 353.05h0M68.16 354.87h0M70 354.71h0M67.71 354.63h0M66.52 353.83h0M69.08 356.55h0M69.67 354.81h0M65.64 356.42h0M68.35 354.29h0M67.15 356.07h0M67.6 355.74h0M67.64 353.38h0M66.79 353.36h0M68.52 354.98h0M69.26 356.48h0M91.56 354.82h0M92.26 352.84h0M91.33 354.95h0M92.43 354.78h0M91.66 351.73h0M93.89 352.27h0M92.11 351.8h0M90.19 354.28h0M153.58 350.12h0M154.04 351.13h0M153.22 353.28h0M153.49 352.47h0M153.14 351.31h0M152.44 349.71h0M149.77 350.1h0M153.49 350.12h0M151.97 351.97h0M153.42 351.81h0M153.73 351.33h0M49.04 359.19h0M48.63 359.28h0M47.94 360.04h0M48.94 360.25h0M50.16 358.49h0M104.89 361.64h0M103.22 360.85h0M104.68 361.93h0M102.15 362.21h0M103.04 361.39h0M104.31 362.69h0M103.86 361.54h0M103.85 362.94h0M114.7 364.18h0M115.82 365.31h0M117.51 366.86h0M114.86 364.4h0M114.07 366.49h0M116.4 364.08h0M115.99 364.45h0M116.42 366.01h0M117.98 365.16h0M116.52 366.52h0M60.15 365.47h0M57.71 365.23h0M58.04 365.89h0M55.59 365.19h0M57.67 365.2h0M56.97 364.76h0M58.94 366.87h0M59.82 365.21h0M58.07 363.98h0M57.97 365.17h0M57.99 366.82h0M60.92 366.23h0M57.92 367.69h0M60.17 369.22h0M59.89 367.78h0M59.74 367.05h0M68.42 369.63h0M68.05 372.54h0M68.09 369.34h0M66.76 371.22h0M66.97 369.32h0M68.82 369.42h0M65.95 370.1h0M67.56 370.3h0M156.39 367.8h0M151.97 369.73h0M152.23 368.2h0M154.2 368.4h0M152.4 369.7h0M152.76 368.68h0M153.24 367.69h0M154.29 370.26h0M79.04 377.58h0M77.87 378.49h0M78.64 376.52h0M76.77 377.42h0M79.72 378.55h0M76.6 377.48h0M79.28 378.69h0M78.49 376.6h0M80.52 378.26h0M80.02 377.16h0M94.56 383.81h0M97.59 380.86h0M96.35 381.89h0M91.98 381.12h0M97.99 382.46h0M95.8 383.07h0M95.73 379.34h0M94.67 384.78h0M98.04 383.6h0M94.51 380.91h0M93.1 384.03h0M95.93 384.9h0M95.99 382.58h0M94.57 378.99h0M94.1 385.01h0M93.23 380.37h0M97 384.62h0M95.34 381.87h0M94.35 381.25h0M94.65 382.21h0M93.79 383.2h0M92.55 380.21h0M91.79 383.37h0M93.97 385.91h0M92.69 384.99h0M96.67 384.08h0M96.38 386.17h0M95.83 382h0M93.75 381.59h0M94.78 382.1h0M91.56 380.35h0M92.8 382h0M93.03 380.04h0M97.68 382.87h0M118.49 380.05h0M121.3 383.04h0M119.39 381.12h0M120.36 381.58h0M120.6 380.71h0M121.81 381.05h0M119.03 379.25h0M120.53 379.43h0M120.46 380.42h0M120.02 382.4h0M117.73 380.88h0M132.62 375.79h0M132.5 375.99h0M134.02 379.22h0M131.73 376.45h0M133.64 377.35h0M132.38 378.28h0M133.73 380.18h0M133.09 378.04h0M131.17 377.76h0M133.05 377.82h0M132.2 376.88h0M131.68 377.53h0M131.26 378.32h0M132.28 377.18h0M132.27 377.38h0M133.72 380.89h0M132.91 377.32h0M130.56 379.32h0M31.41 384.01h0M29.93 383.53h0M28.08 382.09h0M28.92 380.59h0M28.54 385.76h0M31.7 383.7h0M27.85 382.56h0M28.95 383.14h0M30.78 382.61h0M31.66 381.41h0M30.75 382.74h0M29.67 385.37h0M29.6 382.5h0M29.72 381.19h0M38.35 381.53h0M39.97 380.69h0M40.24 381.13h0M40.47 381h0M39.6 380.79h0M81.16 397.35h0M83.83 398.37h0M82.93 398.58h0M83.33 401.29h0M81.79 400.64h0M82.1 399.1h0M83.25 395.97h0M82.56 401.35h0M79.94 397.11h0M87.57 399.11h0M86.11 401.71h0M82.25 399.88h0M84.03 396.7h0M85.02 398.23h0M81.29 398.23h0M83.24 400.3h0M81.96 398.25h0M81.09 397.25h0M84.39 400.99h0M83.57 399.09h0M87.24 399.1h0M83.99 397.88h0M86.67 400.93h0M81.22 397.92h0M78.46 398.23h0M83.35 399.16h0M41.64 404.6h0M42.7 404.4h0M42.84 404.77h0M41.71 405.44h0M42.84 403.11h0M42.23 404.59h0M44.42 402.93h0M44.41 406.96h0M43.7 405.9h0M44.85 402.27h0M40.64 405.33h0M41.09 404.13h0M43.57 405.86h0M41.84 405.83h0M45.44 406.27h0M44.01 407.15h0M43.11 404.49h0M43.74 401.77h0M43.77 402.29h0M43.6 403.12h0M43.68 405.69h0M41.15 404.8h0M112.71 402.64h0M112.72 403.53h0M111.51 404.9h0M111.23 402.95h0M111.5 402.95h0M144.43 401.07h0M145.42 398.61h0M144.62 399.54h0M146.97 401.15h0M143.56 401.12h0M147.61 399.28h0M146.8 402.1h0M142.42 398.74h0M143.16 398.15h0M147.12 398.58h0M146.06 397.68h0M143.33 403.94h0M145.67 398.63h0M145.01 398.27h0M143.6 401.48h0M145.15 397.93h0M143.8 399.04h0M144.38 399.6h0M143.94 398.7h0M145 397.25h0M143.31 400.14h0M145.22 396.53h0" fill="none" stroke="#8af06a" stroke-width="0.8" stroke-linecap="round"/>
</g></g>
<clipPath id="cp2"><rect x="172.6" y="316.2" width="144.4" height="98.3"/></clipPath>
<rect x="172.6" y="316.2" width="144.4" height="98.3" fill="#020208"/>
<g clip-path="url(#cp2)"><g filter="url(#soft)">
<path d="M219.67 315.86h0M218.38 316.4h0M216.69 318.62h0M219.82 316.86h0M218.01 320.35h0M217.21 318.74h0M219.91 318.53h0M219.07 319.04h0M219.45 316.32h0M217.81 318.8h0M219.32 317.32h0M217.76 317.73h0M217.59 317.2h0M218.92 317.78h0M217.68 319.6h0M217.02 316.32h0M220 319.07h0M219.45 318.44h0M219.87 316.94h0M217.03 319.96h0M221.26 316.86h0M219.61 316.87h0M219.19 320.01h0M220.4 315.87h0M217.18 317.76h0M220.43 317.89h0M219.63 317.65h0M215.64 317.87h0M248.74 317.53h0M251.47 318.29h0M249.35 318.32h0M249.24 315.79h0M248.74 319.57h0M250.13 319.22h0M250.71 318.29h0M248.26 316.59h0M248.48 318.28h0M248.91 319.16h0M249.55 317.07h0M251.47 317.18h0M247.68 318.79h0M252.32 318.56h0M252.36 318.38h0M250.82 318.09h0M250 319.86h0M249.07 319h0M250.13 317.42h0M252.27 318.21h0M217.6 335.44h0M217.31 329.74h0M217.94 333.28h0M216.94 333.33h0M216.98 336.47h0M220.03 332.59h0M218.18 333.15h0M218.07 327.28h0M217.35 328.98h0M213.43 332.44h0M215.5 333.12h0M216.49 332.83h0M216.02 329.58h0M220.23 329.81h0M216 329.36h0M219.72 335.74h0M217.09 335.11h0M216.35 331.65h0M220.88 330.27h0M216.12 332.31h0M216.57 329.37h0M217.88 329.8h0M220.15 331.74h0M211.09 331.92h0M217.55 328.18h0M213.5 331.37h0M220.69 329.52h0M215.42 331.83h0M215.06 333.76h0M219.06 335.25h0M218.5 329.26h0M217.22 336.43h0M214.15 331h0M214.74 328.8h0M218.46 333.58h0M219.03 330.88h0M217.79 334.81h0M217.92 336.43h0M221.19 331.82h0M214.08 330.77h0M216.97 334.61h0M221.2 331.63h0M217.84 331.18h0M219.13 331.9h0M213.45 328.99h0M215.06 335.61h0M211.98 334.34h0M219.11 327.74h0M220.21 328.48h0M219.27 334.82h0M218.24 335.83h0M216.5 332.39h0M218.56 329.87h0M217.78 330.77h0M210.93 333.85h0M217.44 334.91h0M216.23 329.77h0M219.27 332.63h0M217.38 334.47h0M219.05 329.7h0M219.09 332.62h0M215.1 332.64h0M220.04 328.67h0M220.49 334.03h0M218.64 330.52h0M213.65 331.21h0M216.03 330.64h0M219.61 334.06h0M214.04 331.23h0M219.28 330.75h0M216.69 334.34h0M218.61 334.61h0M219.88 333.94h0M215.08 333.51h0M218.05 334.84h0M219.12 330.99h0M218.92 332.79h0M214.46 335.15h0M218.19 333.08h0M217.54 330.39h0M218.27 330.05h0M216.66 335.49h0M215.96 333.37h0M216.82 330.67h0M213.48 336.28h0M216.8 333.02h0M201.23 322.21h0M200.03 323.54h0M201.11 322.93h0M201.02 324.33h0M200.55 323.01h0M201.18 322.33h0M199.56 321.61h0M199.81 321.55h0M196.02 326.94h0M197.08 330.08h0M196.15 329.34h0M196.7 329.87h0M197.07 329.68h0M198.71 328.05h0M196.92 327.73h0M198.34 328.4h0M248.61 326.49h0M245.49 327.85h0M247.02 327.71h0M247.44 328.86h0M246.47 325.83h0M246.8 326.98h0M245.83 326.85h0M248.87 326.17h0M247.86 327.84h0M245.56 327.76h0M245.96 326.25h0M249.19 326.74h0M246.83 328.79h0M246.9 327.35h0M246.42 326.84h0M246.16 327.85h0M246.49 326.22h0M177.57 341.06h0M174.9 342.02h0M173.39 339.77h0M177.35 339.99h0M175.62 341.33h0M176.02 338.79h0M173.52 339.16h0M175.52 342.03h0M175.09 340.22h0M176.14 338.33h0M173.48 340.29h0M176.7 340.4h0M175.57 340.31h0M177.07 339.64h0M175.22 340.99h0M173.98 339.16h0M174.99 341.48h0M202.75 344.24h0M203.73 340.61h0M200.62 339.8h0M199.75 342.23h0M203.55 338.6h0M203.41 340.52h0M200.56 343.68h0M204.84 342.87h0M204.34 342.29h0M204.63 339.14h0M203.88 339.54h0M203.36 337.92h0M201.69 340.88h0M203.44 342.17h0M199.81 342.64h0M200.43 342.95h0M206.08 338.77h0M199.95 340.58h0M201.58 341.64h0M205.43 340.37h0M202.34 341.99h0M202.29 338.41h0M201.58 337.62h0M206.43 342.32h0M201.96 338.85h0M202.27 339.12h0M206.48 342.33h0M202.97 340.5h0M203.68 338.62h0M202.52 339.68h0M202.27 339.9h0M205.91 339.31h0M204.09 344.39h0M205.93 339.94h0M203.21 338.91h0M204.85 339.94h0M203.77 342.09h0M241.23 340.62h0M238.61 338.87h0M240.53 339.28h0M240.22 341.82h0M241.89 339.49h0M238.26 338.74h0M239.56 338.45h0M241.62 338.39h0M241.24 338.77h0M240.84 337.92h0M241.58 337.67h0M239.49 339.11h0M241.01 340.64h0M241.3 339.9h0M238.35 341.67h0M240.6 337.48h0M238.52 340.14h0M241.75 338.27h0M238.13 340.7h0M239 341.99h0M238.86 338.02h0M240.32 338.45h0M239.8 337.99h0M238.55 341.23h0M241.19 340.46h0M239.13 340.97h0M241.99 337.61h0M239.99 339.56h0M263.49 339.71h0M260.07 338.25h0M260.2 337.6h0M258.17 342h0M260.97 340.74h0M259.69 341.79h0M259.91 340.86h0M260.07 337.74h0M257.47 339.57h0M262.72 341.9h0M260.7 341.62h0M262.36 340.45h0M258.26 337.7h0M261.78 339.07h0M262.28 337.82h0M262.4 340.59h0M259.4 339.22h0M260.07 341.8h0M260.48 338.4h0M260.08 342.25h0M258.46 341.44h0M263.1 338.45h0M262.84 340.6h0M259.99 338.52h0M261.16 337.29h0M259.99 338.65h0M260.3 339.92h0M257.23 339.41h0M258.99 340.65h0M261.56 339.96h0M260.09 337.59h0M260.36 337.12h0M261.73 338.56h0M259.1 337.67h0M260.04 338.18h0M257.57 338.23h0M259.79 339.45h0M257.24 339.69h0M262.15 338.52h0M259.94 339.11h0M264.15 340.85h0M261.81 340.58h0M271.35 342.65h0M272.54 341.63h0M272.89 343.1h0M271.36 344.71h0M273.31 346.86h0M271.61 342.99h0M270.67 340.41h0M270.89 342.85h0M274.1 344.76h0M270.96 342.18h0M272.66 344.16h0M271.36 342.11h0M273.1 342.29h0M273.41 341.77h0M273.14 343.24h0M273.3 345.28h0M272.03 340.6h0M272.51 341.74h0M274.8 343.76h0M273.13 340.8h0M271.84 340.17h0M272.78 345.37h0M271.64 342.47h0M274.03 341.75h0M271.37 343.34h0M272.63 344.32h0M272.24 343.72h0M271.76 343.88h0M283.65 343.12h0M283.81 340.45h0M283.6 341.28h0M284.03 340.99h0M283.12 338.92h0M284.1 339.81h0M281.23 340.24h0M282.51 340.37h0M281.61 338.89h0M285.39 339.97h0M282.8 340.39h0M281.33 338.93h0M284.37 341.79h0M285.25 340h0M282.98 339.88h0M282.79 341.03h0M283.84 340.8h0M282.05 340.76h0M284.43 340.35h0M281.21 338.8h0M281.17 341.68h0M282.53 343.82h0M283.02 338.67h0M283.07 342.12h0M281.87 339.44h0M285.22 342.78h0M281.59 341.84h0M281.35 340.23h0M294.27 334.51h0M293.3 333.59h0M293.14 334.69h0M294.94 333.87h0M293.88 334.5h0M294.43 335.24h0M293.18 334.48h0M292.91 336.02h0M293.1 333.56h0M294.74 331.8h0M295.24 334.79h0M293.27 334.69h0M295.69 332.62h0M293.41 335.64h0M294.27 335.45h0M292.97 333.62h0M294.91 334.89h0M307.12 340.32h0M308.37 339.71h0M307.74 342.56h0M307.5 341h0M306.63 343.06h0M305.12 341.33h0M306.73 343.16h0M306.69 342.98h0M307.33 340.86h0M306.08 340.42h0M307.63 341.96h0M306.53 341.36h0M308.49 341.8h0M307.45 342.21h0M306.32 340.65h0M308.05 341.92h0M306.01 340.51h0M307.67 342.99h0M306.83 340.77h0M309.37 341.99h0M225.98 342.03h0M225.08 341.13h0M223.7 343.08h0M223.59 342.44h0M225.39 341.44h0M224.78 342.3h0M225.3 342.34h0M225.12 341.82h0M213.93 353.72h0M211.04 357.02h0M212.22 352.65h0M216.41 356.83h0M214.97 356.53h0M211.06 355.53h0M217.26 352.28h0M214.39 353.67h0M214.77 351.35h0M212.95 353.44h0M212.84 354.33h0M211.57 357.36h0M214.1 350.95h0M217.13 356.33h0M216.47 354.74h0M212.04 354.91h0M211.84 354.94h0M216.26 356.23h0M217.18 355.85h0M214.65 355.71h0M213.04 355.04h0M216.74 351.71h0M217.48 355.77h0M215.95 352h0M215.44 357.56h0M214.69 354.36h0M216.38 356.93h0M215.5 352.58h0M215.36 357.69h0M215.7 351.89h0M213.45 354.52h0M216.8 353.88h0M217.05 352.41h0M214.13 356.61h0M217.93 353.12h0M213.94 359.27h0M216.7 351.88h0M219.04 355.16h0M212.79 355.95h0M214.81 358.08h0M211.8 358.83h0M215.53 354.49h0M212.42 355.65h0M215.44 354.3h0M214.74 356.03h0M219 354.09h0M212.11 355.32h0M214.59 352.65h0M217.79 355.76h0M214.07 354.77h0M215.37 356.58h0M215.87 356.54h0M211.65 353.51h0M216.24 355.43h0M216.81 353.1h0M213.53 352.9h0M211.63 352.45h0M217.12 354.39h0M215.97 355.86h0M211.74 356.3h0M214.92 356.54h0M214.26 357.99h0M216.82 358h0M213.57 359.4h0M215.21 354.11h0M216.7 357.15h0M214 353.95h0M211.71 355.66h0M216.2 357.32h0M212.62 350.99h0M217.06 354.96h0M211.94 356.7h0M231.79 353.58h0M228.83 354.72h0M231.02 354.48h0M229.55 351.18h0M231.67 354.4h0M230.73 352.83h0M229.99 354.03h0M230.31 352.66h0M229.96 354.51h0M229.9 354.13h0M229.77 351.99h0M230.42 352.68h0M230.21 353.22h0M238.6 350.33h0M237.89 354.44h0M242.96 350.38h0M239.51 354.84h0M240.47 352.45h0M240.82 354.47h0M241.13 350.74h0M242.39 351.24h0M238.86 351.58h0M239.18 353.64h0M239.72 352.04h0M240.07 350.31h0M239.64 351.45h0M239.47 352.79h0M237.37 351.96h0M240.7 353.26h0M240.75 352.06h0M237.71 351.72h0M240.64 352.79h0M240.4 352.06h0M238.3 353.04h0M241.65 352.84h0M240.29 354.24h0M237.26 353.11h0M238.97 353h0M242.72 352.26h0M240.13 350.25h0M239.68 352.65h0M298.4 351.16h0M298.08 351.63h0M299.83 348.89h0M298.94 349.03h0M302.24 349.22h0M303.42 350.38h0M303.18 351.1h0M297.67 352.94h0M298.48 351.54h0M299.22 349.15h0M298.52 352.64h0M301.92 351.94h0M299.52 351.47h0M300.78 350.37h0M300.57 354.44h0M301.77 351.58h0M298.87 349.92h0M300.35 353.46h0M301.18 351.29h0M301.09 349.51h0M302.08 351.54h0M301.94 349.32h0M300.72 348.94h0M299.05 349.6h0M302.89 349.64h0M298.22 350.77h0M300.59 350.96h0M299.48 350.49h0M303.12 351.23h0M300.71 351.93h0M302.25 350.08h0M298.3 353.13h0M301.45 353.1h0M303.29 349.74h0M301.85 350.85h0M296.67 350.59h0M303.09 350.41h0M195.96 359.13h0M197.74 360.75h0M196.04 359.44h0M197.98 359.89h0M196.7 360.71h0M196.41 358.53h0M198.06 358.99h0M197.31 360.98h0M196.48 361.75h0M197.01 359.65h0M197.04 362.08h0M196.19 361.73h0M195.31 360.43h0M197.91 358.61h0M197.36 360.5h0M195.62 361.2h0M198.02 360.07h0M247.71 363.8h0M248.67 361.66h0M247.56 359.91h0M249.7 362.69h0M248.06 362.27h0M250.08 362.53h0M249.91 358.74h0M251.92 361.98h0M249.26 359.24h0M251.07 361.54h0M249.52 361.6h0M250.93 363.41h0M249.68 365.21h0M247.11 361.84h0M251.13 361.41h0M250.64 361.87h0M249.99 363.37h0M249.38 362.85h0M251.05 363.86h0M250.94 363.52h0M250.47 361.71h0M251.04 362.58h0M250.22 363.8h0M251.98 361.13h0M251.58 360.73h0M250.04 360.64h0M249.65 360.89h0M251.46 362.95h0M263.42 367.66h0M261.91 363.89h0M265.45 366.95h0M265.34 364.59h0M264.84 368.09h0M265.94 364.49h0M264.35 365.63h0M263.97 367.67h0M264.38 368.48h0M263.74 368.36h0M267.25 366.92h0M264.03 363.22h0M261.09 365.09h0M262.29 366.29h0M265.22 365.98h0M264.72 364.69h0M265.17 365.17h0M262.56 367.56h0M263.84 366.4h0M261.81 363.41h0M265.41 364.12h0M265.18 364.49h0M263.19 368.08h0M263.43 363.26h0M261.69 364.42h0M261.76 365.76h0M262.83 367.26h0M264.18 365.41h0M264.25 363.78h0M266.92 366.6h0M264.95 365.4h0M263.97 366.9h0M205.07 365.88h0M207.55 366.75h0M206.57 366.01h0M204.69 368.75h0M203.92 368.13h0M205.67 367.39h0M204.74 365.58h0M202.99 367.95h0M205.22 365.26h0M203.08 366.15h0M203.31 367.43h0M202.36 367.51h0M205.4 368.6h0M206.47 366.96h0M202.64 368.66h0M205.65 367.46h0M203.07 365.03h0M206.56 366.3h0M203.53 365.28h0M207.19 366.11h0M208.32 367.21h0M207.87 368.2h0M202.43 365.44h0M208.49 367.83h0M201.84 367.59h0M208.86 368.46h0M204.31 367.56h0M201.7 366.4h0M203.71 364.85h0M205.09 365.84h0M206.37 366.34h0M205.88 366.35h0M205.42 368.72h0M206.77 366.58h0M205.21 365.79h0M206.54 366.42h0M204.87 365.03h0M204.59 366.59h0M207.11 366.35h0M208.43 365.33h0M203.88 367.19h0M208.77 367.15h0M204.29 367.66h0M205.75 367.19h0M205.83 368.56h0M207.2 368.34h0M203.74 364.9h0M207.02 366.15h0M204.45 364.42h0M203.12 366.89h0M206.49 367.95h0M203.19 369.27h0M206.19 367.38h0M216.3 370.72h0M216.61 372.69h0M216.89 371.57h0M216 372.82h0M214.6 367.86h0M215.01 371.5h0M218.21 369.28h0M217.08 368.29h0M217.88 370.91h0M216.32 369.7h0M215.15 368.16h0M216.12 369.25h0M216.05 370.5h0M214.06 369.46h0M215.79 369.75h0M216.07 369.1h0M213.75 371.67h0M218.34 368.23h0M214.65 372.6h0M213.67 369.36h0M215.05 369.75h0M217.04 371.09h0M217.04 369.89h0M214.93 368.14h0M216.5 368.52h0M216.91 371.3h0M217.81 368.63h0M217.89 369.01h0M303.96 366.83h0M300.67 367.55h0M302.07 366.56h0M302.17 369.82h0M304.2 367.68h0M304.22 367.21h0M303.11 370.25h0M299.7 369.38h0M303.91 368.41h0M304.6 368.26h0M301.67 367.51h0M302.16 369.71h0M300.82 366.33h0M302.66 366.56h0M301.8 368.18h0M298.86 368.58h0M304.21 369.26h0M300.84 366.05h0M302.95 369.62h0M300.71 369.15h0M301.13 369.4h0M303.93 367.19h0M302.79 369.58h0M302.42 366.91h0M300.43 368.21h0M302.82 367.22h0M302.14 365.09h0M302.24 366.04h0M315.22 371.92h0M316.31 371.01h0M315.51 370.61h0M314.38 373.24h0M314.35 371.05h0M313.8 370.8h0M315.19 371.78h0M316.18 370.73h0M315.05 372.86h0M314.86 371.85h0M314.67 373.85h0M315.34 371.97h0M316.57 370.62h0M225.68 377.96h0M224.77 379.06h0M225.53 376.93h0M228.94 378.65h0M223.97 379.69h0M227.34 377.18h0M227.29 376.05h0M223.34 378.39h0M225.62 378.13h0M225.43 377.38h0M226.47 378.41h0M223.87 379h0M227.73 380.34h0M227.41 378.44h0M228.79 379.72h0M226.86 377.98h0M225.47 376.43h0M227.2 376.97h0M223.59 376.68h0M226.66 378.06h0M224.71 380.62h0M228.17 376.15h0M225.89 378.32h0M226.76 379.75h0M227.01 377.35h0M225.65 379.05h0M227.77 380.81h0M227.61 376.27h0M226.75 377.49h0M225.4 379.6h0M227.89 375.67h0M224.66 377.78h0M240.12 378.2h0M239.84 376.35h0M241.13 378.68h0M245.23 382.4h0M240.06 380.75h0M240.25 379.5h0M238.52 376.58h0M242.99 380.87h0M241.5 382.27h0M246.64 381.04h0M239.43 378.96h0M238.78 383.81h0M242.27 382.42h0M245.77 378.33h0M245.85 383.9h0M244.02 381.31h0M236.9 381.48h0M243.42 383.15h0M241.09 377.56h0M239.01 378.22h0M245.12 381.9h0M243.61 377.05h0M242.49 384.98h0M239.13 375.68h0M240.75 382.88h0M242.46 375.23h0M247.91 380.31h0M238.71 380.83h0M239.31 377.39h0M242.34 384.74h0M244.58 378.14h0M245.56 382.31h0M241.53 383.28h0M239.36 379.35h0M242.37 376.85h0M240.65 381.01h0M240.6 382.95h0M244.79 377.75h0M244.19 384.22h0M240.08 380.58h0M238.85 376.22h0M238.27 377.89h0M245.83 375.7h0M245.88 381.84h0M243.96 384.62h0M238.22 376.73h0M244.21 377.24h0M237.85 381.14h0M243.93 383.67h0M240.4 378.69h0M240.22 378.6h0M243 377.15h0M239.28 383.55h0M240.22 379.83h0M238.41 381.92h0M240.91 379.01h0M244.71 381.43h0M241.41 384.96h0M239.09 380.04h0M245.35 380h0M244.1 377h0M244.87 379.98h0M237.84 378.97h0M239.93 376.8h0M242.02 379.98h0M243.14 380.1h0M243.45 376.36h0M241.72 374.21h0M243.97 378.57h0M241.74 386.02h0M247.95 379.87h0M247.58 380.55h0M240.47 383.85h0M240.86 382.7h0M237.18 380.21h0M244.59 378.71h0M242.55 382.71h0M240.34 378.69h0M239.59 384.58h0M242.8 386.84h0M243.34 380.5h0M240.48 380.39h0M246.3 376.77h0M245.54 381.12h0M244.94 380.86h0M243.25 376.28h0M244.2 378.25h0M244.08 380.89h0M246.44 382.22h0M242.04 382.71h0M238.43 380.8h0M237.94 383.1h0M240.16 384.18h0M243.64 376.7h0M242.3 385.14h0M241 378.9h0M244.78 378.76h0M242.43 384.93h0M242.47 379.27h0M239.48 380.01h0M244.72 377.78h0M238.68 380.47h0M243.78 385.18h0M242.5 383.5h0M245.9 377.51h0M245.17 375.64h0M240.15 379.67h0M245.02 382.18h0M246.39 379.82h0M269.07 380.86h0M268.74 378.73h0M269.94 380.34h0M265.9 381.11h0M267 382.24h0M268.76 378.42h0M267.69 384.35h0M266.58 382.68h0M264.95 381.85h0M268.55 380.72h0M269.45 383.48h0M270.05 383.08h0M271.13 379.92h0M266.05 380.66h0M267.16 380.33h0M265.71 382.42h0M267.19 382.39h0M268.15 383.44h0M266.18 382.03h0M265.48 382.86h0M265.02 383.03h0M268.73 381.03h0M267.56 380.71h0M265.26 382.58h0M268.67 383.48h0M268.92 384.35h0M267.19 381.47h0M266.8 381.92h0M268.39 381.63h0M268.49 383.69h0M267.67 380.4h0M265.77 383.5h0M267.69 383.25h0M267.21 383.31h0M264.8 382.2h0M267.01 381.76h0M265.94 381.22h0M284.01 376.89h0M280.34 379.46h0M282.21 376.85h0M281.2 380.9h0M281.39 377.17h0M281.33 377.07h0M280.58 379.93h0M282.39 382.81h0M281.08 381.04h0M283.16 380.83h0M282.1 378.99h0M284.62 379.07h0M281.46 379.08h0M283 381.97h0M279.5 379.45h0M280.85 380.93h0M280.31 376.18h0M282.84 378.96h0M280.41 376.96h0M281.07 380.7h0M278.08 378.17h0M279.97 380.8h0M280.94 380.79h0M283.45 378.56h0M282.68 378.57h0M281.64 378.61h0M280.56 376.03h0M281.64 381.85h0M281.49 378.88h0M283.05 378.37h0M282.78 378.56h0M280.37 380.68h0M281.31 379.14h0M283.8 377.41h0M282.44 379.63h0M277.94 380.42h0M279.63 376.8h0M283.56 381.45h0M279.69 377.21h0M283.4 379.95h0M281.34 377.73h0M281.86 381.93h0M279.33 382.02h0M285.42 378.36h0M277.73 379.97h0M279.08 377.1h0M279.24 379.7h0M279.69 376.81h0M279.59 378.43h0M282.87 378.68h0M281.81 380.87h0M278.46 378.83h0M280.39 376.73h0M283.31 378.39h0M282.07 381.68h0M283.75 378.87h0M278.7 378.21h0M280.31 380.35h0M281.96 380.66h0M181.44 383.48h0M176.89 384.42h0M179.01 383.74h0M179.58 382.84h0M179.16 387.34h0M176.76 379.41h0M179.96 381.74h0M174.28 382.14h0M176.03 384.03h0M174.95 380.48h0M178.93 386.05h0M177.64 380.21h0M178.1 383.83h0M176.64 381.05h0M178.37 385.85h0M178.27 386.36h0M178.89 381.81h0M177.59 385.94h0M176.08 385.58h0M173.69 381h0M176.11 383.64h0M177.56 382.56h0M177.19 382.58h0M176.75 385.77h0M177.65 386.37h0M179.22 382.92h0M177.87 380.2h0M175.16 384.78h0M177.62 386.57h0M180.63 383.86h0M175.12 381.02h0M175.35 380.18h0M174.6 380.29h0M176.86 385.11h0M175.5 381.91h0M178.4 382.51h0M176.91 386.48h0M178.82 381.99h0M177.14 385.65h0M176.93 387.19h0M180.27 385.02h0M174.75 379.89h0M176.27 382.61h0M175.18 381.35h0M179.77 384.47h0M175 382.42h0M178.85 385.02h0M186.22 380.92h0M186.29 382.44h0M185.36 381.98h0M187.41 380.57h0M184.36 382.08h0M184.74 382.76h0M186.69 383.6h0M187.64 382.29h0M184.36 382.75h0M186.92 379.88h0M186.72 382.27h0M187.83 382.7h0M185.07 383.76h0M186 383.8h0M187.18 383.7h0M185.02 383.02h0M186.75 380.92h0M205.27 377.43h0M206.74 377.76h0M203.88 375.6h0M206.79 376.17h0M205.62 375.93h0M205.69 376.83h0M204.32 377.64h0M204.61 377.71h0M228.85 398.05h0M230.68 402.11h0M227.25 397.21h0M228.61 398.77h0M235.06 397.69h0M226.67 398.37h0M232.1 399.03h0M229.73 402.09h0M228.81 395.7h0M231.97 401.49h0M233.18 402.27h0M230.45 401.26h0M233.7 394.1h0M229.01 404.02h0M235.1 395.32h0M232.92 401.84h0M234.04 400.59h0M232.55 402.34h0M233.9 401.65h0M229.21 398.04h0M234.24 401.02h0M234.42 396.12h0M230.83 403.27h0M232.69 400.33h0M232.7 400.43h0M233.86 396.98h0M228.83 400.75h0M230.38 398.97h0M235.1 397.86h0M227.68 398.09h0M227.45 398.06h0M231.01 402.96h0M225.15 398.42h0M225.84 402.17h0M231.21 395.49h0M226.74 400.33h0M232.21 398.11h0M230.58 402.23h0M228.56 395.94h0M235.59 399.38h0M234.11 400.48h0M231.15 397.16h0M227.19 398.29h0M229.23 396.94h0M231.46 398.85h0M232.68 401.41h0M230.55 399.34h0M226.71 396.21h0M232.82 393.59h0M230.84 398.57h0M232.22 396.74h0M230.63 403.37h0M233.51 395.99h0M225.77 397.92h0M235.24 398.81h0M231.56 398.45h0M230.52 397.39h0M228.67 401.8h0M229.38 400h0M231.19 394.51h0M229.87 396.95h0M225.56 402.84h0M228.63 399.97h0M228.5 396.21h0M230.83 403.63h0M233.54 398.41h0M226.56 398.4h0M232.8 396.51h0M231.66 397.34h0M233.11 398.29h0M228.06 402.56h0M232.61 399.93h0M230.01 397.27h0M230.65 399.12h0M234.57 399.41h0M233.79 400.35h0M230.46 396.76h0M234.54 401.19h0M230.68 402.24h0M230.11 396.38h0M233.15 400.39h0M229.11 397.79h0M232.63 401.49h0M226.23 399.01h0M231.05 395.82h0M233.91 399.05h0M192.85 408.01h0M191.92 406.49h0M193.84 409.36h0M194.96 408.98h0M196.72 402.98h0M188.83 404.42h0M188.39 403.49h0M195.65 405.13h0M190.78 401.03h0M195.33 402.81h0M189.78 405.91h0M193.01 408.55h0M191.26 405.49h0M195.55 404.04h0M193.81 402.33h0M189.62 405.72h0M190.52 407.41h0M189.76 407.88h0M189.33 405.32h0M188.9 403.49h0M192.96 408.22h0M191.75 401.55h0M191.83 403.66h0M195.49 407.28h0M191.08 406.55h0M192.35 403.12h0M190.16 406.24h0M190.87 405.29h0M190.55 401.15h0M189.08 406.35h0M190.5 408.55h0M195.31 403.13h0M192.89 403.92h0M194.45 407.69h0M189.97 400.63h0M195.43 408.33h0M190.15 406.01h0M189.35 407.53h0M193.85 401.81h0M190.38 407.24h0M192.47 400.87h0M192.63 402.58h0M189.85 406.87h0M192.14 404.05h0M189.28 403.84h0M191.97 402.28h0M190.88 404.92h0M194.62 400.96h0M193.57 404.75h0M193.21 404.65h0M194.4 404.91h0M188.75 407.73h0M191.65 405.28h0M196.38 406.95h0M187.83 407.03h0M195.93 406.4h0M195.72 405.85h0M193.81 405.1h0M190.52 401.32h0M194.84 402.01h0M196.95 404.65h0M192.06 405.99h0M192.41 408.3h0M192.01 403.09h0M189.84 404.93h0M192.66 404.37h0M190.87 407.68h0M189.56 403.84h0M192.54 404.53h0M193.26 402.89h0M189.44 405.39h0M192.38 407.47h0M261.37 405.09h0M261.75 403.78h0M261.35 405.28h0M261.12 403.25h0M258.06 404.83h0M260.82 404.36h0M260.92 405.24h0M260.97 405.3h0M260.33 404.08h0M260.81 403.28h0M260.84 405.15h0M258.19 403.31h0M261.3 402.94h0M261.19 402.57h0M261.33 402.22h0M258.67 403.7h0M259.75 405.08h0M247.94 392.92h0M245.89 393.95h0M248.77 395.12h0M249.27 393.88h0M247.54 393.24h0M248.48 394.39h0M245.75 394.45h0M246.42 394.25h0M290.58 403.23h0M293.96 400.3h0M293.87 402.25h0M293.4 403.09h0M289.84 404.41h0M293.21 401.64h0M292.38 402.83h0M290.35 397.99h0M293.63 400h0M290.48 402.69h0M289.24 403.46h0M290.59 401.75h0M290.31 399.46h0M287.9 403.85h0M290.67 403.15h0M293.2 400.61h0M293.45 403.98h0M292.7 400.79h0M289.55 397.75h0M290.97 404.58h0M290.72 404.31h0M288.36 401.24h0M292.77 400.67h0M288.99 399.28h0M290.15 396.8h0M290.65 396.17h0M290.06 398.12h0M291.25 397.2h0M288.55 398.89h0M288.36 396.39h0M290.4 403.64h0M292.07 397.75h0M288.02 400.39h0M288.83 403.87h0M293.29 401.64h0M291.91 397.13h0M287.15 398.48h0M287.06 396.92h0M291.11 402.84h0M291.28 397.36h0M289.76 399.4h0M288.28 398.29h0M291.9 402.39h0M291.34 400.25h0M290.46 400h0M293.97 398.83h0M288.81 401.33h0M291.32 400.99h0M287.7 399.15h0M291.83 402.65h0M290.58 402.76h0M287.94 401.7h0M291.24 400.78h0M288.32 400.61h0M292.18 400.34h0M293.74 403.09h0M286.71 399.9h0M293.09 398.06h0M290.14 396.01h0M290.36 397.27h0M292.72 399.34h0M291.99 402.72h0M294.08 402.27h0M286.32 402.13h0M286.94 399.86h0M293.67 400.92h0M286.01 400.41h0M294.2 398.38h0M287.78 402.39h0M292.91 397.87h0M290.4 400.63h0M288.93 401.81h0M294.37 374.01h0M293.84 374.47h0M296.24 375.5h0M296.31 375.79h0M293.93 373.99h0M294.04 374.07h0M288.24 355.94h0M287.47 354.31h0M287.15 354.88h0M287.56 353.77h0M287.01 355.24h0M286.51 355.12h0M267.54 319.93h0M267.6 318.44h0M268.01 320h0M268.38 319.82h0M223.79 386.92h0M221.78 388.37h0M223.99 387.73h0M223.45 387.15h0" fill="none" stroke="#1d3f9a" stroke-width="1.7" stroke-linecap="round" opacity="0.6"/>
<path d="M217.8 316.51h0M220.13 317.76h0M217.45 317.78h0M218.74 316.96h0M219.04 317.89h0M219.71 316.4h0M218.41 316.66h0M220.27 318.24h0M217.4 318.58h0M219.36 318.96h0M216.49 319.87h0M218.07 316.63h0M218.67 318.72h0M219.63 316.77h0M216.91 317.82h0M218.85 318.13h0M219.66 316.13h0M217.86 318.2h0M216.5 317.54h0M218.56 317.72h0M216.98 319.75h0M216.47 320.08h0M216.86 317.11h0M217.53 317.28h0M219.59 319.49h0M216.16 317.18h0M216.44 316.59h0M219.97 317.94h0M249.72 318.76h0M248.16 317.52h0M250.24 317.63h0M251.51 319.41h0M249.77 317.31h0M250.21 319.26h0M250.69 317.45h0M250.67 316.46h0M250.4 317.61h0M249.17 317.73h0M251.67 319.41h0M249 320.04h0M251.42 317.95h0M249.26 318.26h0M248.22 319.58h0M250.5 317.14h0M250.99 317.46h0M249.2 317.78h0M248.15 318.16h0M250.04 315.47h0M217.21 329.46h0M215.49 334.41h0M220.52 333.53h0M214.39 333.32h0M219.86 333.8h0M218.38 332.95h0M218.15 331.15h0M216.32 331.39h0M219.08 330.18h0M215.54 330.4h0M213.03 330.85h0M215.12 330.91h0M215.07 329.76h0M217.07 333.42h0M218.69 328.22h0M220.52 333.13h0M215.76 330.91h0M217.18 329.16h0M219.12 334.11h0M216 330.29h0M217.18 335.64h0M219.75 332.27h0M216.69 332.88h0M218.43 329.08h0M218.25 335.02h0M215.94 334.87h0M216.83 334.36h0M219.65 330.87h0M212.22 332.55h0M211.73 334.76h0M216.76 335.51h0M217.12 329.32h0M217.98 331.17h0M214.88 330.88h0M215.98 332.96h0M215.85 331.34h0M216.04 335.16h0M215.72 334h0M215.4 332.31h0M212.64 332.11h0M215.04 334.16h0M220.23 329.72h0M216.31 330.08h0M217.5 332.57h0M216.61 329.48h0M215.41 330.28h0M214.48 330.58h0M216.98 334.85h0M221.21 332h0M218.69 332.96h0M219.45 328.78h0M217.3 332.19h0M216.34 336.17h0M219.83 333.59h0M217.31 328.99h0M216.54 331.31h0M211.53 333.63h0M215.42 329.92h0M218.89 333.26h0M213.96 332.54h0M220.54 331.13h0M218.9 330.21h0M216.02 328.58h0M216.62 333.02h0M219.32 333.92h0M218.07 332.5h0M215.03 334.18h0M211.71 333.08h0M218.57 330.47h0M217.7 331.49h0M217.07 332.69h0M220.17 332.46h0M213.75 328.6h0M217.13 329.71h0M219.05 329.76h0M219.95 332.07h0M217.45 330.37h0M221 331.17h0M218.15 334.91h0M215.2 331.16h0M216.87 329.57h0M218.99 329.97h0M219.71 328.63h0M212.6 333.72h0M220.18 329.49h0M216.96 335.4h0M199.95 323.53h0M199.35 323.12h0M200.82 323.76h0M200.04 323.09h0M201.4 323.45h0M200.98 322.07h0M199.41 321.5h0M199.63 321.23h0M196.92 327.34h0M195.46 328.32h0M195.65 327.81h0M197.89 329.53h0M197.96 327.73h0M195.89 327.57h0M197.03 327.73h0M196.7 329.36h0M248 328.71h0M246.68 327.58h0M247.53 328.75h0M246.16 326.34h0M245.9 328.64h0M247.73 328.5h0M247 328.66h0M246.11 327.98h0M247.53 326.27h0M245.79 327.88h0M248.21 327.71h0M247.83 326.26h0M246.13 326.8h0M247.03 328.85h0M246.77 327.56h0M246.79 328.88h0M248.62 327.09h0M173.24 340.65h0M175.39 338.85h0M174.01 341.12h0M175.16 338.44h0M176.45 338.85h0M176.54 340.92h0M175.84 339.41h0M174.8 342.05h0M174.54 339.41h0M174.64 341.12h0M173.37 341.26h0M175.71 338.63h0M174.44 341.9h0M177.08 341.28h0M174.97 339.56h0M175.37 338.93h0M176.31 340.3h0M205.45 338.67h0M205.49 340.92h0M200.58 338.84h0M203.37 340.86h0M202.84 338.27h0M204.34 341.31h0M203.73 339.53h0M206.5 339.74h0M203.27 341.02h0M204.42 341.09h0M202.92 340.44h0M204.68 340.26h0M203.86 341.32h0M203.05 339.97h0M200.61 341.25h0M204.27 340.71h0M201.64 339.19h0M204.55 341.7h0M204.42 342.19h0M204.53 341.41h0M202.84 337.95h0M202.85 341.95h0M203.13 342.09h0M203.66 338.76h0M205.05 342.4h0M201.58 339.96h0M204.46 342.12h0M200.38 340.82h0M204.43 341.31h0M202.57 339.79h0M202.75 343.54h0M202.73 338.9h0M202.21 339.2h0M203.18 339.11h0M203.33 341.68h0M203.02 337.85h0M203.89 342.46h0M241.47 339.88h0M241.15 340.79h0M238.23 341.04h0M241.28 338.53h0M239.26 339.71h0M240.21 337.98h0M237.77 341.04h0M241 339.17h0M240.46 339.7h0M240.98 340.27h0M242.07 340h0M237.71 340.59h0M238.38 338.42h0M241.75 338.95h0M240.99 339.61h0M240.93 341.32h0M241.2 338.88h0M239.94 340.15h0M238.36 339.23h0M238.15 338.9h0M238.72 340.75h0M239.17 340.5h0M238.86 340.53h0M239.39 340.02h0M240.41 341.36h0M240.83 341.29h0M239.23 340.43h0M241.76 337.82h0M258.3 337.83h0M260.59 339.53h0M259.49 340.68h0M259.67 341.45h0M260.94 338.61h0M260.37 340.9h0M262.13 338.61h0M261.92 341.36h0M259.85 341.58h0M257.67 339.73h0M261.77 336.92h0M262.7 342.29h0M259.73 342.28h0M259.74 342.55h0M258.89 340.44h0M257.31 339.29h0M258.8 341.73h0M257.67 342.03h0M260.28 340.41h0M259.9 340.3h0M260.36 338.36h0M261.39 341.46h0M261.91 339.42h0M261.37 339.33h0M263.02 341.31h0M262.61 341.77h0M260.54 340.41h0M262.37 339.38h0M258.47 342.23h0M261.22 337.61h0M259.78 338.73h0M262.13 341.53h0M261.13 342.65h0M259.32 339.89h0M262.96 340.59h0M260.87 340.61h0M259.74 340.02h0M259.68 340.02h0M262.91 340.65h0M259.19 338.8h0M260.84 339.66h0M263.71 339.89h0M274.29 342.62h0M271.99 345.06h0M270.59 341.77h0M272.31 342.41h0M274.28 343.28h0M273.42 345.66h0M274.11 345.65h0M274.25 343.62h0M274.85 344.23h0M272.01 343.64h0M273.34 342.92h0M271.72 343.01h0M273.11 342.57h0M273.53 343.49h0M272.12 345.87h0M272.25 344.14h0M271.35 342.95h0M271.29 340.17h0M274.97 345.14h0M271.76 343.83h0M274.81 345.15h0M272.61 345.75h0M270.55 341.56h0M271.83 342.54h0M272.71 342.61h0M272.75 342.08h0M273.73 345.43h0M272.91 344.09h0M283.08 340.07h0M285.29 339.76h0M282.51 340.91h0M284.53 340.88h0M284.6 342.75h0M283.3 341.7h0M285.09 340.66h0M282.65 341.89h0M285.64 341.39h0M281.76 340.44h0M282.72 339.52h0M281 341.04h0M284.34 340.73h0M281.46 340.79h0M284.58 340.88h0M282.96 343.02h0M281 340.56h0M281.7 342.54h0M282.58 340.44h0M281.55 339.91h0M281.78 341.04h0M283.92 343.12h0M284.86 341.28h0M284 340.87h0M284.45 340.86h0M281.67 341.66h0M280.95 339.02h0M281.52 340.58h0M293.74 334.48h0M294.13 334.14h0M295.01 334.25h0M294.12 335.58h0M293.36 334.57h0M294.17 335.54h0M294.48 335.53h0M294.66 332.96h0M293.92 334.52h0M293 333.43h0M294.06 335.42h0M292.74 335.6h0M294.29 332.71h0M294.84 335.34h0M293.22 334.7h0M293.4 333.55h0M294.06 334.31h0M304.73 341.25h0M308.06 342.74h0M305.74 341.87h0M308.48 341.71h0M307.46 340.09h0M308.53 341.73h0M308.12 341.18h0M308.21 340.9h0M306.67 341.68h0M307.87 342.29h0M305.23 342.46h0M308.69 341.32h0M306.87 342.69h0M307.9 341.64h0M306.74 343.06h0M307.75 341.2h0M308.53 340.88h0M304.81 341.56h0M305.32 341.41h0M308.47 341.33h0M225.23 343.12h0M225.49 342.7h0M226.03 341.92h0M225.18 342.69h0M224 341.98h0M224.36 341.56h0M224.18 343.13h0M224.88 342.7h0M214.39 354.85h0M216.52 352.75h0M213.43 354.47h0M212.96 351.91h0M215.16 358.13h0M211.1 355.28h0M215 353.55h0M213.65 355.78h0M214.44 353.26h0M218.3 355.4h0M214.37 357.02h0M212.2 356.29h0M213.59 355.36h0M213.43 358.8h0M211.27 356.33h0M219.7 355.19h0M218.48 354.18h0M215.18 351.24h0M219.66 355.19h0M219.66 358.32h0M214.57 355.46h0M217.36 354.27h0M213.17 357.07h0M218.29 356.63h0M213.9 353.52h0M215.95 357.62h0M217.34 355.42h0M210.84 357.79h0M215.96 358.76h0M219.63 355.34h0M213.82 356.97h0M214.97 353.37h0M215.66 357.67h0M218.66 357.88h0M216.21 353.09h0M218.47 353.47h0M218.52 353.65h0M214.66 356.9h0M215.81 352.42h0M216.19 354.9h0M216.06 356.23h0M213.52 357.81h0M217.72 357.01h0M216.52 353.34h0M212.53 358.91h0M214.94 356.71h0M211.92 357.66h0M215.75 357.94h0M212.89 356.72h0M217.63 358.1h0M213.47 355.83h0M217.24 359.05h0M215.71 355.67h0M215.41 358.87h0M211.86 357.34h0M217.2 357.43h0M216.17 357.58h0M218.44 355.76h0M214.33 357.72h0M216.74 359.01h0M216.14 353.36h0M214.27 352.65h0M217.47 357.75h0M217.34 355.57h0M214.74 354.34h0M212.12 355.4h0M219.78 355.26h0M218.73 353.78h0M216.74 356.93h0M214.96 355.89h0M211.65 353.37h0M214.04 356.77h0M228.51 354.33h0M230.24 353.52h0M228.05 353.52h0M230.06 354.59h0M229.2 353.04h0M230.81 353.09h0M229.96 351.99h0M230.24 353.35h0M231.06 352.33h0M227.96 352.99h0M231.47 352.6h0M231.22 353.25h0M229.05 352.36h0M241.89 353.84h0M241.29 354.46h0M240.97 353.68h0M239.43 352.32h0M240.53 353.62h0M241.67 351.59h0M238.05 354.49h0M240.76 354.26h0M241.31 353.34h0M240.59 351.14h0M239.15 351.92h0M237.33 353.64h0M241.45 350.76h0M239.95 350.29h0M238.68 354.71h0M240.99 354.28h0M241.8 350.15h0M238.02 351.65h0M241.23 351.35h0M242.9 352.87h0M241.37 352.91h0M242.28 351.31h0M239.33 350.49h0M238.75 353.98h0M239.97 354.14h0M239.87 350.95h0M238.63 354.9h0M238.84 350.58h0M300.76 352.58h0M300.4 350.54h0M298.79 350.23h0M299.83 352.87h0M299.96 351.08h0M300.04 353.44h0M298.4 349.96h0M300.81 349.64h0M300.32 349.2h0M301.16 348.48h0M302.9 349.84h0M300.12 352.71h0M301.02 352.28h0M302.93 351.78h0M301.69 349.48h0M301.12 352.54h0M298.39 349.53h0M300.9 351.95h0M299.75 352.61h0M299.38 351.98h0M298.68 350.25h0M300.62 351.6h0M301.32 352.69h0M300.33 352.24h0M302.21 349.23h0M299.15 351.32h0M299.71 351.17h0M301.91 351.11h0M299.76 351.84h0M302.4 350.07h0M303.35 349.94h0M301.34 350.89h0M302.6 352.2h0M297.44 350.97h0M302.82 351.97h0M299.26 352.54h0M299.54 350.9h0M196.51 358.72h0M197.63 359.43h0M195.81 362.05h0M196.27 358.39h0M196.13 360.52h0M196.01 361.27h0M195.6 360.44h0M197.29 358.96h0M195.43 360.98h0M197.84 360.51h0M196.58 361.49h0M197.95 359.46h0M197.46 359.67h0M195.85 361.36h0M196.5 361.12h0M196.65 361.35h0M197.88 361.46h0M251.35 363.57h0M249.71 361.33h0M251.39 362.91h0M249.24 365.02h0M249.28 362.57h0M248.29 359.38h0M248.94 360.1h0M247.98 363.12h0M251.21 362.1h0M249.66 359.41h0M248.32 360.09h0M248.57 364.23h0M250.07 361.55h0M250.74 362.45h0M250.09 362.25h0M248.56 361.26h0M249.8 361.53h0M251.05 363.35h0M250.91 361.09h0M249.33 360.91h0M251.43 360.56h0M248 360.73h0M251.68 362.56h0M248.34 361.87h0M248.48 362.3h0M249.07 360.08h0M251.44 361.43h0M249.77 362.53h0M264.04 366.28h0M262.58 365.09h0M262.5 364.53h0M264.04 367.23h0M263.9 366.94h0M266.14 367.92h0M262.6 363.87h0M266.15 367.17h0M264.61 364.94h0M266.47 366.85h0M261.84 363.32h0M265.28 366.51h0M263.28 366.78h0M263.97 365.99h0M262.01 365.07h0M265.89 366.93h0M265.63 365.99h0M262.19 364.96h0M262.42 365.41h0M262.79 365.34h0M264.51 367.94h0M264.08 363.83h0M263.61 363.73h0M263.28 363.45h0M264.12 367.96h0M261.9 366.68h0M263.65 363.59h0M265.41 364.98h0M264.76 367.77h0M265.3 366.31h0M266.91 366.35h0M263.02 367.17h0M203.09 369.61h0M201.8 365.32h0M203.26 368.46h0M205.16 368.66h0M203.18 366.32h0M207.64 365.22h0M203.71 367.23h0M206.01 368.23h0M202.9 367.49h0M206.46 367.69h0M204.45 367.88h0M202.11 366.97h0M207.39 368.86h0M205.57 365.89h0M206.92 365.9h0M204.1 369.41h0M203.53 364.22h0M202.41 368.75h0M203.4 366.48h0M203.48 366.61h0M204.56 363.81h0M207.03 368.66h0M205.31 367.09h0M205.26 366.96h0M206.94 366.14h0M203.26 367.76h0M204.51 363.69h0M203.39 363.79h0M206.83 365.71h0M203.82 366.05h0M202.51 364.82h0M203.82 366.07h0M204.32 363.39h0M207.25 365.56h0M203.4 369.75h0M204.26 368.91h0M204.41 363.33h0M206.23 365.34h0M204.72 367.95h0M205.24 369h0M207.76 367.86h0M205.93 366.59h0M202.13 364.97h0M203.36 366.75h0M208.07 365.51h0M206.86 366.36h0M202.8 365.75h0M202.82 366.66h0M204.1 364.83h0M205.08 366.14h0M206.2 367.65h0M203.98 366.74h0M204.22 369.43h0M215.9 372.68h0M215.89 368.81h0M214.9 369.38h0M216.63 369.75h0M217.76 370.96h0M216.69 368.6h0M215.57 371.97h0M218.06 370.28h0M214.2 371.48h0M216.63 372.47h0M215.7 372.13h0M218.41 370.54h0M218.08 369.7h0M215.68 370.58h0M214.52 368.13h0M216.33 369.29h0M214.86 372.28h0M215.84 369.39h0M217.34 367.75h0M215.94 371.67h0M216.6 372.04h0M213.63 369.62h0M214.65 372.48h0M218.11 368.51h0M217.8 369.31h0M216.67 370.38h0M218.47 369.8h0M217.57 369.08h0M303.43 367.17h0M302.42 369.47h0M299.58 368.49h0M304.17 368.32h0M299.93 368.07h0M301.33 368.06h0M302.83 369.29h0M303.24 367.65h0M302.05 365.74h0M299.28 368.23h0M303.09 366.82h0M301.81 368.5h0M300.57 369.59h0M300.78 366.51h0M301.88 368.65h0M302.42 367.76h0M303.06 369.15h0M302.47 365.58h0M301.47 370.52h0M300.92 367.81h0M302.01 370.11h0M301.6 366.24h0M302.69 370.43h0M302.53 369h0M300.48 368.21h0M299.84 368.65h0M303.18 367.74h0M302.7 368.44h0M313.88 370.92h0M315.47 371.89h0M314.61 369.65h0M316.07 370.87h0M314.74 371.75h0M315.66 371.16h0M314.34 372.26h0M315.85 370.43h0M315.83 371.32h0M316.26 371.64h0M315.73 370.93h0M316.09 369.89h0M315.55 370.98h0M224.58 379.49h0M226.38 379.02h0M225.31 377.74h0M225.88 378.34h0M228.74 376.18h0M226.71 377.16h0M227.5 375.93h0M226.42 375.76h0M229.23 376.62h0M225.59 378.34h0M228.72 375.61h0M224.62 378.45h0M225.43 376.74h0M225.88 377.64h0M227.17 377.54h0M229.02 376.82h0M227.47 378.89h0M229.07 377.65h0M226.99 380.25h0M225.43 377.68h0M227.75 378.56h0M227.07 379.28h0M226.46 380.72h0M227.58 377.52h0M226.8 377.73h0M228.87 376.01h0M227.61 376.37h0M227.46 378.29h0M227.81 378.89h0M224.87 377.21h0M226.18 378.35h0M225.91 376.62h0M240.55 382.78h0M239 377.92h0M237.22 378.33h0M241.37 379.59h0M242.12 379.33h0M239.74 382.99h0M243.76 380.4h0M243 376.3h0M242 377.51h0M237.71 378.57h0M241.19 379.9h0M243.1 378.54h0M236.55 381.64h0M238.61 380.71h0M239.04 377.61h0M246.19 380.41h0M238.46 378.73h0M241.97 377.66h0M246.87 380.51h0M240.78 382.04h0M241.08 382.04h0M238.42 381.31h0M244.82 383.55h0M240.9 379.91h0M245.28 378.91h0M240.67 382.55h0M239.32 384.89h0M246.44 380.51h0M241.94 384.74h0M239.27 381.66h0M241.41 381.5h0M240.91 381.55h0M241.91 377.44h0M239.92 381.54h0M242.74 380.84h0M239.47 382.13h0M243.48 378.5h0M244.79 378.08h0M245.24 382.02h0M240.8 380.72h0M238.48 379.55h0M240.63 377.35h0M242.42 383.17h0M241.6 386h0M242.91 378.3h0M246.79 379.03h0M239.72 382.14h0M239.02 377.36h0M240.82 377.66h0M241.14 383.42h0M240.78 376.88h0M239.52 375.99h0M242.72 382.61h0M247.44 379.91h0M242.06 376.51h0M242.94 380.84h0M242.23 382.29h0M240.54 379.62h0M242.73 379.05h0M240.6 377.23h0M243.89 378.25h0M238.25 378.35h0M242.36 379.99h0M246.26 379.1h0M239.84 378.91h0M240.84 376.56h0M237.06 380.24h0M240.05 377.44h0M239.04 380.38h0M237.14 379.02h0M242.08 378.98h0M244.81 382.24h0M245.84 380.44h0M245.95 382.68h0M242.92 383.75h0M241.98 384.11h0M243.38 383.09h0M240.94 379.34h0M237.12 379.69h0M241.09 386.12h0M239.11 376.39h0M240.4 382.48h0M242.8 380.77h0M241.94 383.88h0M240.9 377.6h0M240.97 383.77h0M242.17 382.63h0M243.04 383.24h0M243.9 386.02h0M242.05 385.13h0M242.86 382.72h0M241.14 382.44h0M246.49 381.95h0M246.83 380.12h0M245.85 382.07h0M237.54 380.92h0M239.48 382.69h0M244.3 384.06h0M244.43 379.59h0M241.97 379.33h0M242.57 377.15h0M240.83 377.4h0M239.33 382.51h0M243.63 379.26h0M246.39 378.5h0M240.55 375.65h0M243.44 379.3h0M242.74 379.81h0M240.46 377.56h0M265.71 381.84h0M269.44 381.07h0M265.02 380.16h0M266.4 380.04h0M265.65 381.31h0M268.06 382.11h0M267.27 381.03h0M264.92 381.14h0M268.71 380.4h0M267.91 380.02h0M265.75 382.8h0M266.48 382.04h0M268.7 383.12h0M265.98 382.63h0M266.05 381.31h0M268.41 378.89h0M266.58 379.34h0M265.18 380.77h0M271.43 380.51h0M270.72 381.45h0M269.42 381.04h0M268.05 381.12h0M269.29 381.63h0M268.1 381.9h0M267.74 384.02h0M267.88 382.09h0M266.33 384.15h0M267.13 382.16h0M265.62 382.3h0M269.93 379.33h0M270.7 379.61h0M269.08 383.71h0M270.9 380.82h0M268.22 381.21h0M268.81 382.32h0M267.82 381.57h0M267.24 382.46h0M282.65 379.81h0M284.19 379.96h0M282.71 379.38h0M281.71 378.1h0M279 377.64h0M281.28 377.99h0M283.25 378.78h0M280.74 378.82h0M283.36 380.97h0M280.78 377.61h0M283.06 376.28h0M283.68 378.6h0M279.74 380.4h0M282.18 380h0M280.28 379.27h0M282.57 381.13h0M278.21 379.9h0M281.35 380.52h0M283.25 380.51h0M281.9 379.04h0M281.58 377.44h0M278.71 378.97h0M283.39 381.84h0M282.45 381.85h0M281.49 382.64h0M284.11 380.22h0M284.71 379.68h0M282.46 380.84h0M284.1 382.58h0M280.16 378.88h0M282.69 378.68h0M283.45 381.22h0M278.78 381.31h0M279.84 379.95h0M281.58 378.61h0M281.37 381.99h0M280.69 379h0M281.6 375.38h0M279.04 379.33h0M282.77 376.37h0M281.16 380.9h0M278.76 380.34h0M281.02 382.68h0M279.69 377.04h0M282.13 378.09h0M278.98 378.49h0M281.5 380.56h0M279.34 380.29h0M284.1 378.47h0M280.97 379.87h0M278.99 377.96h0M284.22 380.74h0M280.61 379.88h0M281.03 377.86h0M280.4 382.12h0M281.8 382.93h0M280.5 376.71h0M283.1 380.67h0M279.71 379.77h0M179.81 385.1h0M178.72 380.6h0M180.07 382.45h0M180.36 385.41h0M179.89 381.85h0M176.55 383.34h0M178.14 381.8h0M175.43 383.38h0M179.25 385.72h0M180 386.68h0M178.78 385.13h0M178.57 380.9h0M175.89 383.61h0M177.75 382.74h0M176.51 381.13h0M178.96 386.49h0M175.17 380.6h0M180.5 384.91h0M176.14 384.44h0M179.62 386.3h0M179.87 385.4h0M180.11 384.4h0M176.95 382.25h0M177.11 380.71h0M178.43 382.26h0M180.36 382.56h0M175.35 382.2h0M176.67 382.71h0M177.01 384.5h0M176.11 384.27h0M180.05 381.49h0M177.93 382.61h0M180.03 385.21h0M174 381.86h0M176.72 384.23h0M174.98 383.48h0M179.87 385.61h0M178.49 382.45h0M173.51 383.17h0M177.62 384.03h0M177.33 383.38h0M178.26 386.49h0M177.51 381.96h0M179.95 384.04h0M175.1 383.54h0M178.91 384.23h0M175.51 383.78h0M186.65 380.62h0M187.97 382.07h0M185.61 380.87h0M185.65 381.01h0M187.02 382.08h0M185.19 383.06h0M187.26 381.65h0M187.9 381.78h0M186.65 381.33h0M186 383.32h0M186.81 383.53h0M187.97 382.48h0M185 383.48h0M186.63 381.37h0M186.66 383.07h0M187.53 381.17h0M186.4 382.95h0M205.56 376.14h0M206.38 377.76h0M205.09 378.28h0M205.45 376.72h0M206.69 377.33h0M205.06 375.37h0M205.06 376.98h0M204.52 378.02h0M229.46 394.6h0M229.27 401.66h0M231.27 400.08h0M231.63 398.75h0M232.35 400.81h0M229.15 398.64h0M230.74 401.02h0M230.54 399.99h0M231.94 398.18h0M228.52 399.72h0M229.27 401.74h0M229.97 396.77h0M230.97 401.43h0M228.12 397.28h0M228.95 399.51h0M234.72 400.26h0M231.23 399.1h0M229.4 398.12h0M230.06 399.52h0M232.33 396.25h0M227.98 403.63h0M228.53 395.12h0M230.68 402.42h0M232.84 399.23h0M229 399.4h0M235.46 396.18h0M229.09 400.99h0M229.05 397.72h0M227.24 399.09h0M229.07 396.51h0M230.89 403.22h0M231.78 400.49h0M233.08 401.46h0M231.1 400.38h0M234.06 399.67h0M230.3 399.23h0M228.07 400.11h0M229.74 398.33h0M230.87 400.87h0M228.05 398.89h0M232.87 398.59h0M232.91 397.78h0M230.15 401.16h0M230.37 400.84h0M228.1 396.84h0M234.15 402.8h0M233.04 401.3h0M228.66 395.08h0M235.04 398.39h0M231.76 397.85h0M231.26 398.53h0M225.83 402.47h0M230.74 401.26h0M230.4 395.78h0M231.45 401.88h0M230.95 397.83h0M229.72 401.84h0M228.23 396.83h0M234.73 401.09h0M234.53 400.09h0M229.13 396.97h0M227.2 399.64h0M233.91 401.13h0M234.06 397.69h0M230.66 396.55h0M228.64 399.83h0M230.35 397.27h0M227.94 398.19h0M235.4 397.78h0M228.51 400.78h0M230.08 396.47h0M227.83 401.78h0M230.41 400.82h0M234.17 398.68h0M226.51 400.02h0M231.8 395.88h0M233.97 398.29h0M228.73 397.61h0M231.94 401.02h0M231.32 397.43h0M227.53 397.55h0M230.1 400.51h0M230.53 397.27h0M228.88 401.6h0M227.37 397.24h0M230.13 395.6h0M189.29 400.67h0M192.76 403.6h0M194.36 404.67h0M189.01 404.39h0M190.89 403.16h0M191.67 406.95h0M194.27 407.88h0M190.42 405.45h0M188.78 404.81h0M189.52 403.51h0M192.13 406.96h0M194.63 408.36h0M191.44 402h0M191.65 401.87h0M196.65 406.03h0M192.39 404.76h0M191.82 409.96h0M191.59 403.66h0M191.33 407.06h0M190.33 406.85h0M191.55 406.01h0M195.09 406.1h0M189.75 406.86h0M194.6 408.23h0M192.42 403.38h0M193.54 406.05h0M195.25 406.52h0M191.13 403.31h0M190.15 403.3h0M195.02 404.69h0M195.71 402.02h0M195.14 406.37h0M192.16 402.26h0M192.23 407.53h0M194.71 405.5h0M190.86 400.99h0M190.38 404.9h0M189.91 404.43h0M194.93 406.2h0M192.17 409.98h0M191.67 408.6h0M193.48 409.63h0M190.09 404.17h0M190.59 403.28h0M190.98 404.22h0M192.93 403.58h0M195.06 402.5h0M193.48 406.68h0M189.04 405.89h0M195.85 403.69h0M195.16 406.64h0M188.8 406.63h0M196.68 403.88h0M192.81 403.7h0M192.92 407.08h0M190.23 404.91h0M191.7 404.83h0M192.8 402.69h0M189.49 405.02h0M192.74 405.68h0M195.02 404.36h0M194.32 408.15h0M194.82 403.7h0M193.06 405.92h0M189.72 403.08h0M190.94 404.74h0M191.39 408.11h0M191.3 407.13h0M195.02 407.13h0M193.83 402.69h0M189.84 406.53h0M193.52 406.39h0M260.85 404.32h0M261.72 405.03h0M259.62 404.06h0M260.58 404.38h0M261.33 403.74h0M260.84 405h0M259.62 403.83h0M260.28 404.13h0M262.62 404.04h0M261.02 404.33h0M261.68 402.02h0M259.9 402.86h0M261.01 404.29h0M261.62 403.24h0M260.64 402.71h0M259.39 403.42h0M261.21 403.77h0M246.96 394.89h0M247.92 394.52h0M247.59 394.26h0M246.59 395.21h0M246.54 393.79h0M247.79 393.83h0M247.69 393.67h0M246.41 393.47h0M290.86 404.84h0M291.66 403.89h0M288.36 401.44h0M288.58 398.55h0M288.69 400.16h0M287.56 402.96h0M292.68 401.34h0M294.66 403.09h0M291.85 398.82h0M294.32 403.56h0M291.38 399.29h0M290.24 396.73h0M292.26 403.04h0M292.23 402.19h0M288.21 401.81h0M290.83 402.24h0M290.94 403.85h0M289.26 396.95h0M291.51 403.6h0M291.66 401.18h0M290.37 397.69h0M292.26 400.48h0M289.78 397.5h0M293.68 400.32h0M292.31 399.76h0M288.18 397.89h0M293.14 400.52h0M289.32 403.73h0M292.31 401.39h0M289.87 402.56h0M291.85 403.18h0M289.31 402.09h0M290.35 401.82h0M289.96 396.55h0M292.4 399.07h0M287.46 401.84h0M288.63 397.99h0M288.9 399.02h0M289.74 401.86h0M290.84 399.63h0M290.16 402.48h0M291.45 398.64h0M291.28 401.27h0M288.11 398.17h0M289.63 399.27h0M289.23 400.74h0M288.17 399.61h0M288.44 399.34h0M289.06 400.22h0M290.8 401.31h0M288.37 403.07h0M291.36 403.8h0M291.55 402.49h0M288.25 402.67h0M288.79 402.79h0M287.77 400.95h0M293.17 398.42h0M291.49 398.49h0M287.73 400.45h0M290.98 402.71h0M292.52 399.58h0M288.86 400.37h0M290.85 402.41h0M289.01 399.49h0M289.12 396.84h0M293.28 397.88h0M291.33 399.58h0M290.91 398.67h0M289.52 402.63h0M287.85 400.71h0M291.36 397.45h0M289.35 398.7h0M293.93 373.97h0M295.03 375.66h0M295.3 375.69h0M295.25 375.78h0M294.36 374.39h0M293.86 374.28h0M286.97 355.03h0M287.73 354.76h0M286.94 355.64h0M287.77 355.42h0M287.21 353.68h0M288.48 354.68h0M268.1 319.48h0M267.92 319.41h0M268.74 319.42h0M268.61 318.7h0M222.28 388h0M223.23 387.82h0M222.81 388.48h0M223.88 388.38h0" fill="none" stroke="#2f63c8" stroke-width="1.2" stroke-linecap="round"/>
<path d="M219.52 318.84h0M220.13 316.77h0M216.65 319.71h0M217.77 318.48h0M216.39 318.13h0M216.72 319.49h0M218.69 319.31h0M216.3 316.86h0M250.19 319.6h0M248.64 318.37h0M250.74 319.47h0M249.23 317.58h0M250.01 316.82h0M249.85 317.73h0M215.6 335.08h0M218.4 332.23h0M216.44 329.37h0M215.5 333.89h0M219.15 331.83h0M214.09 334.29h0M218.56 330.18h0M218.28 334.07h0M219.18 333.18h0M217.31 332.88h0M217.4 329.75h0M217.61 334.39h0M217.68 331.55h0M216.34 332.74h0M217.57 332.24h0M212.42 330.56h0M218.64 328.56h0M219.18 333.98h0M216.59 333.59h0M217.88 333.75h0M218.09 333.77h0M216.05 334.81h0M217.18 329.55h0M218.33 329.09h0M219.2 333.99h0M215.75 329.28h0M247.01 326.99h0M246.63 327.38h0M247.98 325.81h0M245.84 327.48h0M247.28 327.28h0M173.64 340h0M176.23 339.95h0M175.37 340.98h0M175.35 341.04h0M175.5 338.84h0M202.02 339.55h0M205.6 342.68h0M205.54 340.47h0M202.81 341.94h0M202.36 342.94h0M201.88 340.22h0M204.39 340.8h0M201.78 340.73h0M201.94 338.26h0M201.81 339.28h0M203.57 342.42h0M239.44 340.72h0M241.73 338.29h0M238.32 339.93h0M238.39 340.52h0M239.25 340.7h0M239.11 339.73h0M240.59 339.27h0M239.82 340.82h0M260.33 341.13h0M260.71 338.78h0M262.36 338.57h0M261.73 341.44h0M259.68 341.28h0M259.33 338.71h0M261.67 342h0M260.37 341.08h0M260.98 341.54h0M260.16 339.44h0M262.71 338.44h0M260.87 338.44h0M262.49 340.81h0M272.06 344.22h0M273.42 343.66h0M273.53 344.3h0M271.47 342.22h0M272.53 343.56h0M273.07 343.93h0M271.55 344.72h0M271.8 344.5h0M281.4 340.97h0M283.36 339.11h0M284.03 340.47h0M281.86 341.19h0M284.1 340.02h0M282.12 342.53h0M284.17 339.98h0M284.14 342.74h0M293.22 333.97h0M294.95 334.31h0M294.52 333.98h0M294.78 333.57h0M294.09 335.03h0M306.76 341.16h0M307.63 339.97h0M307.94 341.09h0M305.65 342.34h0M307.54 340.9h0M306.85 341.06h0M212.45 353.18h0M216.21 353.07h0M216.12 355.08h0M216.47 357.55h0M217.58 354.63h0M213.42 356.26h0M211.75 353.62h0M215.7 357.34h0M216.57 352.79h0M215.94 352.48h0M216.6 357.44h0M212.53 354.69h0M214.79 353.63h0M213.94 355.34h0M217.57 356.52h0M214.87 352.92h0M214.33 352.94h0M216.92 353.18h0M213.34 357.65h0M215.61 356.98h0M216.36 357.5h0M212.67 355.51h0M239.98 353.9h0M240.72 353.78h0M240.34 350.55h0M239.27 352.13h0M239.89 352.32h0M239.52 352.23h0M238.52 352.94h0M239.22 351.55h0M301.55 350.19h0M299.47 351.65h0M301.18 352.07h0M299.03 350h0M302.15 349.52h0M301.4 351.2h0M300.31 352.09h0M297.49 351.6h0M299.43 350.5h0M300.53 351.31h0M301.25 351.83h0M196.76 359.58h0M195.31 361.22h0M196.34 359.1h0M197.98 360.36h0M195.98 360.44h0M248.38 362.24h0M251.25 362.34h0M249.96 363.49h0M251.04 363.36h0M249.68 363.11h0M250.96 362.62h0M249.73 361.9h0M249.52 362.35h0M264.19 365.43h0M263.25 366.72h0M265.24 367.44h0M263.41 366.54h0M263.17 365.62h0M264.03 367.61h0M264.8 367.32h0M263.91 365.59h0M264.49 364.26h0M264.2 365.15h0M205.5 366.67h0M206.15 367.28h0M203.68 366.07h0M207.81 367.5h0M205.81 366.8h0M204.51 364.03h0M204.72 368.47h0M203.62 366.83h0M204.29 365.72h0M205.32 369.08h0M205.42 369.29h0M205.2 366.57h0M206.49 366.37h0M204.99 369.57h0M207.03 365.7h0M208.01 366.56h0M218.11 370.15h0M216.55 369.48h0M215.09 371.16h0M214.35 370.92h0M218.04 369.78h0M216.47 369.87h0M217.7 370.09h0M217.02 370.33h0M302.97 367.7h0M300.78 366.91h0M301.7 366.47h0M301.07 366.68h0M301.22 369.75h0M301.25 369.09h0M302.31 365.97h0M302.22 368.61h0M228.85 376.51h0M225.87 379.82h0M227.49 378.22h0M227.2 378.23h0M226.93 376.68h0M226.31 378.79h0M228.05 378.69h0M225.41 376.84h0M227.08 377.41h0M225.58 378.47h0M238.9 379.46h0M243.15 379.42h0M241.25 379.52h0M239.79 379.15h0M242.08 381.03h0M241.4 380.53h0M241.42 376.8h0M242.62 375.92h0M244.8 382.37h0M240.94 379.09h0M240.79 378.3h0M240.06 381.11h0M241.12 380.09h0M243.54 380.48h0M245.57 378.05h0M241.51 381.54h0M241.75 377.08h0M243.69 382.22h0M244.62 382.97h0M240.19 380.73h0M240.8 377.34h0M241.64 380.94h0M243.12 378.62h0M241.18 379.28h0M241.63 380.8h0M242.47 384.2h0M241.2 380.1h0M241.19 377.85h0M240.83 381.95h0M238.11 383.18h0M240.06 380.03h0M242.79 379.42h0M244.11 376.82h0M241.33 381.57h0M270.2 381.76h0M270.21 382.66h0M268.6 383.9h0M267.77 380.34h0M265.5 381.78h0M266.78 382.14h0M267.27 383.89h0M269.4 382.44h0M266.63 381.29h0M268.38 383.23h0M270.22 382.96h0M281.9 378.66h0M282.38 379.07h0M280.65 378.77h0M280 380.87h0M282.2 378.71h0M279.71 377.2h0M283.18 381.78h0M280.5 380.23h0M280.96 378.28h0M283.7 378.74h0M280 378.79h0M282.99 380.62h0M281.2 379.9h0M281.13 377.36h0M281.55 378.44h0M280.58 378.36h0M282.3 381.32h0M282.51 377.35h0M175.9 385.24h0M176.06 385.36h0M178.11 382.11h0M176.81 385.47h0M179.46 385.52h0M178.34 382.35h0M175.83 383.25h0M177.85 383.73h0M179.64 385.29h0M178.59 385.24h0M175.49 384.17h0M179.41 384.09h0M178.09 381.92h0M178.66 383.95h0M185.39 382.72h0M187.16 383.1h0M185.44 382.11h0M186.38 383.28h0M186.27 382.62h0M228.09 400.62h0M229.97 394.94h0M231.97 398.99h0M230.73 400.29h0M231.45 400.36h0M233.61 401.95h0M231.23 397.43h0M231.98 400.36h0M228.88 399.26h0M230.82 401.89h0M228.93 399.87h0M226.45 400.73h0M231.74 396.83h0M228.79 399.49h0M227.77 398.44h0M229.91 400.97h0M233.22 400.02h0M228.17 397.81h0M232.8 397.63h0M233.72 397.99h0M233.54 400.32h0M232.6 398.73h0M230.04 398.83h0M229.86 397.16h0M228.55 397.19h0M230.57 398.24h0M191.74 405.56h0M192.72 402.82h0M191.95 404.57h0M192.65 408.85h0M189.95 405.13h0M192.61 403.62h0M191.3 407.59h0M194.11 406.25h0M191.98 404.29h0M190.03 405.27h0M190.4 405.38h0M193.66 404.15h0M191.08 408.51h0M192.1 406.25h0M191.99 405.4h0M193.7 403.8h0M192.58 404.94h0M193.84 402.84h0M192.98 404.48h0M194.2 407.94h0M191.44 404.13h0M193.28 403.49h0M260.26 403.44h0M260.58 405.11h0M260.2 404.35h0M259.86 403.58h0M259.33 403.23h0M291.9 398.43h0M291.04 399.79h0M289.59 400.44h0M289.1 399.04h0M292.04 399.94h0M290.43 402.02h0M291.19 398.75h0M290.23 401.36h0M290.29 398.15h0M289.76 399.1h0M293.05 399.56h0M289.01 398.86h0M291.01 397.99h0M290.29 398.32h0M290.57 403.35h0M291.27 404.12h0M291.62 400.85h0M292.34 402.84h0M289.93 402.72h0M289.69 400.39h0M291.44 401.3h0M288.24 401.61h0" fill="none" stroke="#6fb4ee" stroke-width="0.8" stroke-linecap="round"/>
</g></g>
<clipPath id="cp3"><rect x="370.6" y="316.2" width="144.5" height="97.6"/></clipPath>
<rect x="370.6" y="316.2" width="144.5" height="97.6" fill="#1a080c"/>
<g clip-path="url(#cp3)"><g filter="url(#soft)">
<path d="M428 327.68h0M434.39 326.23h0M435.52 333.94h0M438.47 325.01h0M431.22 325.46h0M429.81 329.58h0M429.01 324.59h0M429.03 327.1h0M428.47 326.11h0M435.72 333.03h0M439.12 328.77h0M433.26 327.31h0M436.17 330.78h0M433.68 325.06h0M434.1 334.05h0M435.37 331.41h0M438.37 328.05h0M436.71 332.73h0M429.76 326.01h0M438.06 324.89h0M433.69 331.89h0M436.32 332.41h0M435.58 330.19h0M433.67 331.62h0M435.05 330.15h0M426.28 330.65h0M428.18 330.52h0M430.07 326.57h0M436.42 332.06h0M435.27 333.8h0M428.79 325.31h0M435.24 325.77h0M432.82 329.84h0M430.84 332.08h0M434.48 325.51h0M430.76 325.17h0M433.91 333.32h0M438.16 327.45h0M432.76 325.89h0M435.52 326.59h0M432.31 327.55h0M427.96 327.49h0M434.29 332.69h0M439.27 330.5h0M436.46 329.11h0M435.32 329.36h0M434.72 326.85h0M431.91 331.07h0M434.44 330.85h0M429.01 327.1h0M434.81 327.28h0M431.36 325.81h0M432.31 329.7h0M431.17 324.08h0M438.22 328.91h0M431.93 333.28h0M428.82 331.79h0M426.62 330.2h0M433.02 329.72h0M438.21 329.13h0M432.79 328.14h0M429.06 326.6h0M434.23 327.16h0M437.99 327.25h0M431.78 328.79h0M435.09 324.91h0M430.62 333.51h0M435.31 328.36h0M435.92 325.53h0M433.02 327.64h0M434.58 327.32h0M439.98 328.3h0M428.94 326.73h0M439.93 329.44h0M437.74 327.91h0M429.75 327.87h0M428.77 329.05h0M428.46 329.04h0M435.65 325.5h0M430.8 330.8h0M432.29 333.21h0M439.14 331.78h0M430.73 327.76h0M430.77 332.25h0M426.98 327.94h0M429.45 333.55h0M428.92 329.03h0M436.17 326.69h0M432.99 328.95h0M429.9 331.61h0M435.42 329.74h0M436.25 333.42h0M436.56 329.73h0M436.82 332.15h0M427.45 326.47h0M436.46 331.68h0M437.84 329.39h0M428.27 329.65h0M428.82 326.14h0M435.17 325.6h0M432.47 328.21h0M438.79 330.32h0M437.94 330.96h0M434.04 333.74h0M431.17 332.48h0M431.08 330.81h0M437 324.15h0M429.85 330.03h0M455.81 330.63h0M458.21 328.94h0M463.78 332.26h0M462.86 331.59h0M454.87 331.66h0M461.63 329.86h0M456.51 327.59h0M455.45 327.17h0M458.28 329.66h0M461.76 329.66h0M458.03 328.15h0M460.03 326.51h0M465.26 327.15h0M457.51 328.46h0M455.61 326.38h0M456.57 334h0M457.13 324.12h0M456.95 328.41h0M461.15 329.13h0M466.39 330.31h0M461.76 329.1h0M457.96 328.12h0M463.99 330.96h0M465.6 329.97h0M453.46 326.38h0M462.05 326.21h0M467.44 326.6h0M462.43 333.05h0M464.15 331.88h0M468 330.9h0M463.18 329.94h0M463.97 333.36h0M458.98 332.91h0M461.06 329.59h0M455.73 326.7h0M455.33 334.93h0M457.29 331.87h0M457.29 331.02h0M457.86 330.58h0M459.09 330.51h0M457.39 327.85h0M459.2 330.27h0M457.17 329.83h0M461.08 325.48h0M458.35 331.33h0M459.6 333.35h0M454.16 332.43h0M469.02 326.69h0M463.57 328.27h0M453.4 333.78h0M458.8 329.88h0M462.64 330.87h0M464.9 325.5h0M462.27 323.18h0M463.3 332.13h0M463.46 331.83h0M458.31 329.45h0M462.57 327.78h0M456.58 329.06h0M454.7 331.76h0M460.13 331.62h0M462.89 329.89h0M459.99 333.3h0M467.06 324.94h0M468.81 327.5h0M457.31 327.67h0M454.72 331.3h0M454.61 331.03h0M463.97 325.5h0M454.74 328.62h0M461.01 326.25h0M461.7 329.74h0M458.19 331.77h0M460.07 333.39h0M461.49 329.38h0M467.25 331.88h0M469.04 327.07h0M460.84 325.5h0M462.55 331.17h0M459.81 327.76h0M467.11 326.04h0M458.94 326.53h0M452.94 330.84h0M454.21 333.17h0M458.97 328.81h0M463.55 332.58h0M460.42 333.43h0M462.65 329.27h0M456.6 326.29h0M464.81 328.58h0M468.72 329.64h0M462.75 330.51h0M469.06 330.42h0M468.64 328.99h0M454.17 332.87h0M466.88 329.13h0M458.59 330.34h0M459.2 334.66h0M452.65 329.84h0M463.5 328.01h0M460.26 334.36h0M469.5 327.08h0M467.74 329.91h0M462.46 331.59h0M468.43 328.25h0M465.52 326.45h0M468.74 326.34h0M454.23 327.54h0M458.44 325.52h0M457.53 335.5h0M468.84 328.34h0M461.68 329.1h0M455.75 335.23h0M456.75 328.46h0M460.44 323.41h0M458.22 331.25h0M457.73 332.25h0M461.39 328.25h0M455.08 330.8h0M457.5 324.77h0M454.7 331.25h0M464.17 327.28h0M394.96 333.92h0M393 335h0M393.51 335.08h0M396.18 335.93h0M393.44 334.8h0M396.14 335.3h0M394.02 331h0M395.03 330.87h0M391.32 333.53h0M394.82 335.94h0M394.9 335.34h0M395.55 331.55h0M396.93 332.89h0M394.77 333h0M395.55 332.38h0M396.16 334.57h0M393.29 331.52h0M393.81 334.96h0M395.46 331.53h0M395.27 332.52h0M392.62 333.06h0M414.35 346.7h0M412.23 345.23h0M413.47 338.3h0M416.55 341.5h0M411.25 342.97h0M418.93 343.17h0M416.52 338.8h0M416.28 344.7h0M415.75 340.39h0M412.94 342.23h0M410.56 342.51h0M414.86 340.44h0M414.08 344.19h0M415.03 342.06h0M415.07 339.3h0M414.68 344.8h0M413.57 344.22h0M412.5 343.21h0M415.38 340.26h0M414.92 345.38h0M416.93 346.73h0M414.95 338.73h0M410.84 342.73h0M412.44 341.71h0M413.52 343.39h0M415.68 340.73h0M414.81 346.02h0M417.87 343.92h0M413.96 343.01h0M414.36 345.51h0M413.83 340.46h0M413.19 340.19h0M417.01 342.21h0M412.04 341.43h0M417.77 345.84h0M411.77 342.56h0M416.47 340.02h0M415.61 340.71h0M413.09 343.25h0M414.78 341.67h0M411 344.74h0M416.14 341.2h0M412.88 344.25h0M413.08 346.27h0M412.75 340.32h0M415.79 342.36h0M413.3 340.71h0M415.6 341.44h0M413.8 341.86h0M431.74 351.41h0M432.63 354.07h0M429.54 347.53h0M429.76 355.15h0M429.85 352.82h0M426.85 352.92h0M426.35 349.59h0M431.3 351.66h0M426.88 350.65h0M430.54 351.09h0M433.64 346.74h0M433.14 351.95h0M434.6 348.96h0M429.49 352.73h0M432.25 349.81h0M426.79 350.99h0M432.28 346.7h0M433.16 350.31h0M428.71 354.01h0M427.09 348.4h0M429.75 351.55h0M429.5 350.33h0M434.96 347.7h0M433.48 352.3h0M428.04 349.23h0M434.39 347.27h0M429.99 351.27h0M432.89 350.02h0M435.45 347.15h0M429.83 353.36h0M428.54 346.02h0M428.51 354.93h0M430.97 348.68h0M427.42 350.93h0M432.12 351.5h0M426.77 353.33h0M431.85 348.94h0M429.4 348.68h0M429.07 349.51h0M429.29 354.18h0M431.37 353.61h0M429.02 355.1h0M428.41 347.28h0M430.26 352.5h0M432.64 348.73h0M430.04 349.1h0M431.1 348.3h0M429.02 349.78h0M430.36 350.87h0M429.02 347.57h0M433.19 347.29h0M429.72 351.24h0M431.43 350.9h0M430.79 352.27h0M427.59 349.32h0M427.05 349.59h0M434.76 352.04h0M428.07 350.76h0M432.76 353.87h0M431.02 345.39h0M433.35 351.58h0M431.66 351.57h0M428.19 352.31h0M431.3 346.59h0M453.77 344.42h0M449.35 345.78h0M449.59 346.59h0M449.43 347.28h0M455.83 345.33h0M456.07 341.18h0M453.75 345.23h0M449.32 346.13h0M453.32 350.7h0M448.26 347.05h0M453.89 348.5h0M449.53 350.52h0M453.29 346.92h0M454.56 341.02h0M451.07 349.2h0M453.32 342.6h0M454.23 342.2h0M457.21 348.36h0M452.38 348.33h0M452.77 346.03h0M453.11 344.31h0M454.5 348.68h0M453.3 344.5h0M453.19 345.78h0M454.31 341.45h0M447.53 348.33h0M457.11 342.72h0M451.95 350.3h0M448.82 345.02h0M449.57 345.21h0M447.99 346.6h0M452.31 345.89h0M451.67 347.79h0M450.26 350.53h0M455.04 344.3h0M450.1 344.01h0M454.56 346.34h0M450.43 346.06h0M454.1 348.35h0M449.92 342.85h0M450 350.26h0M451.52 345.53h0M454.76 342.51h0M453.37 347.31h0M448.13 346.47h0M450.72 343.64h0M449.72 345.47h0M453.32 341.9h0M454.72 341.71h0M451.68 349.82h0M454.27 347.17h0M447.72 347.2h0M454.05 343.9h0M452.35 342.21h0M447.71 348.63h0M451.91 340.36h0M451.44 350.31h0M452.36 347.12h0M450.22 341.7h0M452.58 346.65h0M448.59 345.22h0M452.23 344.65h0M454 346.65h0M457.88 344.25h0M450.44 349.21h0M455.48 341.01h0M448.71 348.74h0M457.85 345.12h0M453.77 342.32h0M455.46 349.33h0M457.13 341.88h0M458.84 345.56h0M455.31 342.27h0M453.23 342.85h0M454.97 346.24h0M450.97 346.05h0M480.18 343.21h0M477.99 341.49h0M478.22 339.81h0M477.67 343.5h0M476.46 342.31h0M477.27 342.46h0M479 341.5h0M479.17 341.52h0M479.41 339.98h0M476.04 342.08h0M479.51 340.85h0M479.97 341.52h0M479.92 342.13h0M478.97 340.6h0M480.37 342.42h0M479.9 341.07h0M475.51 342.91h0M479.15 339.59h0M479.15 342.02h0M476.92 342.36h0M477.56 343h0M491.28 340.31h0M492.77 338.78h0M491.5 337.68h0M490.29 338.18h0M489.2 342.15h0M490.99 340.66h0M490.83 341.67h0M489.85 336.9h0M492.13 338.19h0M488.77 336.96h0M493.24 340.45h0M493.16 340.47h0M490.13 340.34h0M491.42 341.55h0M489.06 341.54h0M490.5 338.85h0M488.94 342.03h0M490.77 339.87h0M489.04 341.36h0M490.61 341.03h0M489.44 338.28h0M490.16 342.77h0M489.64 340.31h0M492.99 339.96h0M489.99 340.21h0M492.73 339.49h0M489.2 342.59h0M492.56 338h0M510.78 343.63h0M508.72 344.26h0M509.53 343.7h0M510.09 345.79h0M508.4 346.29h0M509.68 343.93h0M508.91 347.55h0M511.74 344.27h0M507.8 347.16h0M508.21 346.94h0M511.69 344.67h0M509.54 343.02h0M511.33 343.59h0M508.05 347.79h0M510.39 345.45h0M510.47 344.72h0M509.19 344.49h0M508.64 347.57h0M511.74 344.77h0M508.17 344.71h0M509.14 347.06h0M502.78 355.8h0M492.94 356.69h0M503.14 358.31h0M503.96 356.38h0M503.91 357.08h0M496.53 360.27h0M502.13 360.02h0M497 357.12h0M497.87 357.16h0M494.86 359.14h0M495.23 356.33h0M504.05 355.09h0M499.25 364.6h0M495.15 360.37h0M496.35 359.68h0M500.8 362.36h0M502.21 355.32h0M500.1 357.89h0M500.88 354.44h0M504.05 360.65h0M500.81 363.48h0M497.78 356.02h0M497.05 354.72h0M498.81 353.53h0M497.69 356.47h0M504.69 355.35h0M502.19 353.9h0M501.42 359.08h0M498.81 354.02h0M495.66 357.8h0M503.87 362.23h0M493.38 359.09h0M499.31 354.89h0M504.39 356.38h0M497.77 361.87h0M495.9 357.98h0M499.97 359.3h0M501.53 359.28h0M494.01 356.1h0M497.41 356.19h0M498.76 358.98h0M496.51 355.95h0M498.55 355.48h0M497.02 354.91h0M495.87 353.47h0M498.53 359.97h0M494.68 361.1h0M501.17 358.57h0M498.81 361.94h0M499.87 354.48h0M499.06 359.67h0M499.64 356.29h0M502.31 356.65h0M497.8 354.59h0M497.37 355.95h0M497.69 361.1h0M496.85 357.07h0M504.34 360.37h0M503.89 358.03h0M497.27 360.55h0M502.23 360.45h0M499.77 356.35h0M500.07 355.9h0M499.93 361.95h0M494.19 356.91h0M499.58 358.49h0M502.34 357.85h0M497.3 359.7h0M504.81 358.29h0M496.62 358.16h0M495.12 352.99h0M495.38 358.8h0M498.96 358.53h0M500.98 359.94h0M503.04 354.13h0M499.08 354.97h0M497.03 362.41h0M496.64 360.02h0M502.07 361.64h0M502.83 358.41h0M496.24 356.3h0M501.08 361.11h0M454.06 362.79h0M453.38 365.38h0M449.81 361.39h0M454.17 363.35h0M453.17 364.46h0M454.36 360.02h0M450.8 361.58h0M453.59 364.28h0M452.46 362.98h0M450.94 361.03h0M451.88 362.16h0M453.04 365.04h0M454.02 364.99h0M449.44 362.44h0M450.3 361.5h0M451.96 364.12h0M450.96 362.72h0M452.49 364.88h0M452.22 364.83h0M452.2 363.56h0M451.63 358.7h0M454.02 359.64h0M451.04 360.86h0M453.03 362.2h0M452.8 359.81h0M452.33 359.99h0M454.47 360.31h0M452.8 362.19h0M453.34 360.55h0M453.12 360.37h0M451.92 361.42h0M387.69 363.06h0M388.05 364.43h0M387.8 364.83h0M389.76 364.47h0M389.67 364.26h0M388.12 363.52h0M390.11 363.83h0M388.4 361.09h0M388.83 364.05h0M389.58 362.31h0M410.84 365.09h0M410.07 368.45h0M407.1 370.02h0M414.46 368.76h0M414.83 366.66h0M407.01 364.82h0M406.24 368.27h0M408.88 371.46h0M410.29 369.17h0M408.17 368.95h0M411.82 363.4h0M413.66 368.55h0M409.73 366.09h0M411.6 371h0M408.51 364.85h0M407.99 368.65h0M409.27 363.34h0M412.11 367.34h0M406.99 369.62h0M408.86 365.14h0M411.44 371.16h0M411.47 366.89h0M410.4 369.22h0M415.05 366.43h0M412.79 369.8h0M412.07 365.84h0M408.37 369.67h0M407.06 369.91h0M414.19 365.8h0M411.33 365.89h0M408.59 369.28h0M411.73 370.14h0M411.86 367.31h0M407.26 369.81h0M409.65 369.95h0M406.05 371.76h0M411.68 368.03h0M412.29 369.59h0M409.38 365.84h0M407.73 368.37h0M410.71 371.19h0M408.87 365.27h0M410.11 369.78h0M408.58 366.17h0M408 370.7h0M414.47 366.04h0M411.95 371.74h0M409.33 371.33h0M406.44 368.63h0M412.99 370.83h0M410.02 368.91h0M407.13 367.23h0M412.96 364.96h0M411.54 367.97h0M390.58 375.27h0M389.08 375.25h0M387.05 376.71h0M391.5 374.97h0M387.59 376.92h0M389.6 377.63h0M391.24 374.59h0M389.75 377.29h0M391.18 380.11h0M391.25 380.53h0M388.81 378.32h0M390.68 378.27h0M386.52 379.07h0M392.11 377.27h0M386.3 377.41h0M387.38 377.1h0M392.08 378.37h0M390.53 377.52h0M390.52 379.55h0M391.36 375.13h0M386.32 379.08h0M386.4 378.6h0M389.26 379.24h0M390.85 375h0M392.23 379.06h0M391.41 380.2h0M392.14 375.98h0M389.78 379.52h0M390.03 376.99h0M388.94 377.18h0M392.05 378.16h0M447.91 377.73h0M452.13 380.19h0M450.27 386.48h0M449.33 385.12h0M447.09 380.75h0M447.88 379.45h0M448.47 380.22h0M448.07 376.24h0M451.65 377.5h0M448.5 382.72h0M448.14 385.15h0M450.41 381.31h0M447.96 376.63h0M445.41 384.14h0M449.78 377.55h0M447.29 380.08h0M449.69 379.06h0M454.02 381.8h0M444.52 380.67h0M451.19 380.85h0M450.21 379.75h0M447.1 375.94h0M444.84 381.67h0M444.7 380.16h0M449.34 380.2h0M447.8 383.88h0M452.84 382.21h0M449.7 382.83h0M446 379.44h0M453.88 381.13h0M452.53 381.9h0M445.4 382.87h0M446.96 380.28h0M446.87 383.57h0M448.57 380.09h0M450.3 379.08h0M447.55 377.55h0M447.96 383.27h0M451.84 384.14h0M449.45 377.47h0M451.62 384.65h0M452.28 379.75h0M450.3 382.13h0M447.8 383.21h0M443.95 380.32h0M447.75 380.77h0M447.69 379.38h0M447.88 383.88h0M451.35 380.34h0M446.68 385.91h0M449.19 378.31h0M450.58 385.95h0M450.64 380.54h0M447.49 378.87h0M433.11 387.34h0M431.96 387.2h0M432.73 387.44h0M429.43 386.86h0M433.66 390.48h0M431.67 387.93h0M427.09 388.51h0M430.06 387.01h0M430.64 389.47h0M428.91 387.75h0M427.16 388.26h0M431.08 389.24h0M433.27 383.52h0M429.5 385.24h0M433.38 390.26h0M431.64 390.26h0M433.22 388.52h0M430.12 387.14h0M428.56 384.65h0M430.02 386.29h0M430.53 385.08h0M431.12 389.65h0M431.81 386.67h0M431.28 385.1h0M429.13 387.14h0M432.33 389.08h0M430.9 387.96h0M428.44 386.7h0M430.12 386.13h0M433.81 387.04h0M434.72 387.89h0M430.91 385.49h0M432.24 386.84h0M433.4 384.58h0M427.9 384.33h0M465.02 392.47h0M469.27 388.13h0M470.08 389.65h0M467.32 390.97h0M469.99 390.47h0M467.48 388.71h0M470.05 391.19h0M468.76 388.98h0M469.61 390.87h0M468.31 391.42h0M467.6 389.81h0M465.36 388.89h0M466.64 389.28h0M469.66 390.55h0M467.35 391.06h0M468.53 391.14h0M467.79 389.2h0M468.25 390.5h0M466.95 388.8h0M469.24 391.63h0M466.82 389.12h0M469.67 393.46h0M468.39 389.34h0M469.2 389.53h0M465.55 389.98h0M468.4 391.12h0M469.37 393.01h0M470.74 388.63h0M490.64 383.98h0M492.39 383.75h0M490.86 384.12h0M490.39 383.43h0M406.03 398.22h0M406.08 395.18h0M405.13 395.9h0M401.81 396.11h0M406.92 399.78h0M410.36 394.55h0M410.87 392.04h0M409.58 392.93h0M408.02 396.03h0M407.78 392.02h0M410.46 397.25h0M410.32 391.46h0M409.35 395.21h0M405.48 397.09h0M410.47 396.36h0M412.96 393.94h0M405.86 392.21h0M408.24 399.45h0M404.4 397.66h0M404.53 393.78h0M404.37 395.1h0M405.56 395h0M410.67 396.1h0M404.24 394.49h0M405.72 390.46h0M406.05 399.92h0M409.6 395.04h0M403.99 396.12h0M408.61 396.95h0M403.36 394.09h0M404.16 392.58h0M409.57 395.21h0M410.24 397.07h0M405.86 394.86h0M400.73 392.66h0M403.05 397.84h0M410.26 392.48h0M406.99 395.68h0M410.47 392.43h0M410.02 393.24h0M403.83 390.63h0M409.32 392.67h0M409.68 390.82h0M407.07 391.88h0M407.45 392.56h0M407.37 393.72h0M405.9 394.25h0M399.72 395.11h0M411.09 399.26h0M409.98 398.12h0M404.29 397.58h0M404.1 392.82h0M409.28 399.84h0M406.75 391.54h0M405.58 391.68h0M410.59 396.47h0M404.78 398.15h0M407.93 399h0M407.15 398.88h0M403.9 396.6h0M405.26 393.94h0M407.44 396.55h0M409.04 397.54h0M409.49 396.93h0M410.8 395.95h0M412.81 395.35h0M404.42 398.3h0M407.87 395.12h0M405.49 393.58h0M401.64 396.31h0M405.71 391.91h0M404.79 396.2h0M401.36 392.04h0M405.66 399.8h0M402.48 392.94h0M406.15 393.51h0M420.54 400.12h0M420.06 400.54h0M422.1 399.37h0M421.13 398.6h0M422.78 399.15h0M420.97 401.12h0M421.73 400.49h0M423.07 400.2h0M420.3 398.71h0M421.92 400.53h0M440.11 404.19h0M440.94 404.66h0M440.21 402.36h0M436.2 402.51h0M440.11 404.21h0M436.7 399.69h0M435.6 403.46h0M439.51 402.83h0M441.97 402.87h0M438.04 400.95h0M438.39 400.97h0M438.14 402.98h0M438.77 399.64h0M443.14 401.14h0M435.4 402.48h0M440.61 403.72h0M439.18 402.98h0M438.53 404.57h0M440.37 403.78h0M440.3 404.11h0M439.2 400.72h0M441.16 401.86h0M441.6 404.12h0M440.48 404.06h0M437.17 402.8h0M436.05 405.34h0M441.05 404.76h0M437.65 403.37h0M438.1 406.01h0M440.49 400.94h0M436.47 406h0M440.55 406.15h0M442.09 405.26h0M438.56 399.76h0M437.22 402.03h0M440.48 405.88h0M441.74 402.48h0M442.07 401.7h0M437.62 406.14h0M436.69 403.79h0M436.4 403.51h0M441.79 401.37h0M438.62 403.32h0M439.43 405.03h0M511.79 394.48h0M509.92 394h0M510.9 394.25h0M513.01 393.14h0M510.62 394.03h0M515.33 394.64h0M512.99 391.52h0M511.57 393.45h0M512.43 392.01h0M509.47 393.5h0M509.79 396.83h0M514.24 391.89h0M513.56 395.59h0M510.96 395.23h0M511.75 394.59h0M512.75 393.16h0M513.2 391.97h0M510.63 391.73h0M514.09 391.47h0M514.56 395.07h0M511.12 392.74h0M511.07 394.51h0M509.21 390.74h0M508.85 391.48h0M513.21 394.2h0M510.12 394.78h0M513.02 395.66h0M510.41 396.25h0M512.33 394.08h0M511.61 393.93h0M514.88 392.91h0M466.81 414.13h0M467.01 409.61h0M467.34 409.98h0M465.54 410.68h0M469.15 409.54h0M466.74 413.34h0M465.07 411.32h0M467.37 414.51h0M468.32 410.91h0M466.38 412.52h0M468.84 410.47h0M466.47 412.81h0M468.61 411.3h0M469.72 412.4h0M466.51 412.37h0M468.09 411.88h0M465 411.18h0M465.77 411.17h0M467.39 412.46h0M468.15 413.1h0M465.99 410.83h0M468 411.44h0M467.91 413.22h0M468.21 413.3h0M407.41 411.87h0M405.3 411.33h0M406.9 410.67h0M408.65 411.61h0M406.47 410.86h0M407.97 411.52h0M406.6 410.55h0M406.98 411.3h0M406.73 412.54h0M406.6 412.23h0M511.76 409.64h0M512.28 409.31h0M514.36 409.13h0M513.45 409.68h0M512.86 410.01h0M512.68 405.85h0M515.11 410.75h0M515.37 412.02h0M514.18 408.6h0M513.04 410.12h0M513.63 410.17h0M514.81 407.41h0M515.65 410.19h0M513.12 409.19h0M513.36 407.47h0M512.02 408.79h0M510.7 407.24h0M513.17 408.58h0M516.12 409.98h0M515.5 410.17h0M513.48 405.88h0M375.8 319.92h0M377.79 319.39h0M376.95 320.18h0M376.8 320.14h0M376.74 319.17h0M377.25 320.78h0M474.32 317.73h0M473.8 317.07h0M473.51 317.9h0M473.94 318.11h0M474.5 317.41h0M474.76 316.26h0M372.38 399.61h0M372.33 401.8h0M370.65 400.93h0M372.51 402.37h0M370.82 400.57h0M371.58 399.42h0M450.27 390.79h0M450 389.86h0M450.92 390.19h0M451.29 392.11h0M430.07 396.84h0M430.4 398.28h0M429.93 395.51h0M431.22 396.3h0M446.35 411.31h0M445.63 410.77h0M445.01 411.51h0M444.3 411.32h0" fill="none" stroke="#7e1c1a" stroke-width="1.8" stroke-linecap="round" opacity="0.5"/>
<path d="M431.41 330.42h0M431.35 327.12h0M430.86 323.35h0M432.56 329.75h0M438.18 327.93h0M431.58 328.66h0M435.8 326h0M428.97 325.61h0M430.91 327.42h0M436.56 329.51h0M428.96 330.96h0M433.15 330.41h0M437.72 324.83h0M439.62 330.26h0M429.77 325.14h0M434.53 329.71h0M431.25 332.01h0M431.5 329.15h0M434.99 327.13h0M435.71 327.25h0M435.07 333.2h0M431.2 330.67h0M429.96 328.67h0M430.72 333.62h0M439.21 331.31h0M434.77 333.54h0M433.27 332.37h0M433.79 331.77h0M437.88 329.6h0M438.07 327.8h0M433.97 332.52h0M438.58 328.56h0M430.26 333.43h0M439.36 330.75h0M433.84 330.09h0M431.4 327.7h0M429.68 328.31h0M427.72 327.82h0M437.02 327.13h0M435.96 326.51h0M433.04 328.85h0M435.38 329.65h0M434.37 325.4h0M431.25 329.52h0M431.33 329.91h0M431.61 329.37h0M436.01 325.35h0M428.77 325.81h0M433.84 332.03h0M438.66 325.88h0M427.88 332.43h0M435.89 327.13h0M428.4 329.14h0M432.11 327.84h0M437.04 328.11h0M428.83 332.05h0M433.59 325.16h0M428.97 325.53h0M431.61 331.32h0M435.96 325.96h0M435.53 332.85h0M434.09 328.07h0M426.69 328.24h0M428.03 329.29h0M434.5 324.68h0M433.11 328.35h0M437.14 331.75h0M431.08 328.22h0M434.75 327.99h0M432.36 328.78h0M436.64 327.24h0M435.81 331.57h0M433.57 330.47h0M428.54 327.07h0M434.35 329.99h0M433.23 326.87h0M430.51 329.45h0M434.17 325.25h0M436.76 324.76h0M437.23 330.06h0M433.4 330.66h0M432.74 325.83h0M438.33 328.65h0M428.79 327.29h0M430.36 328h0M434.18 328.4h0M438.15 324.63h0M432.61 331.2h0M432 324.69h0M438.52 330.18h0M467.8 326.9h0M461.66 329.51h0M462.03 327.08h0M461.9 324.03h0M461.06 327.46h0M454.85 327.72h0M467.13 329.88h0M464.75 326.41h0M456.19 326.07h0M458.54 331.91h0M461.44 326.66h0M466.79 324.66h0M460.7 327.67h0M465.55 328.77h0M458.88 332.49h0M454.32 332.49h0M462.05 332.86h0M467.34 330.61h0M460.14 332.59h0M462.62 330.86h0M465.07 330.95h0M459.94 330.55h0M458.03 334.24h0M463.92 327.14h0M461.1 331.33h0M452.11 329.23h0M461.53 322.75h0M468.7 328.38h0M463.65 327.83h0M462.27 328.61h0M467.28 329.06h0M468.34 328.78h0M465.41 329.19h0M453.95 326.57h0M465.23 330.62h0M464.42 327.42h0M457.77 329.79h0M465.46 324.83h0M455.71 327.83h0M455.63 330.98h0M464.24 331.02h0M455.04 329.94h0M461.84 331.89h0M466.35 327.49h0M461.62 326.2h0M452.03 329.5h0M456.27 329.36h0M461.22 332.2h0M456.77 329.54h0M459.01 330.97h0M461.95 327.38h0M459.18 330.8h0M464.43 331.38h0M466.96 328.87h0M466.64 327.13h0M458.62 327.91h0M459.64 331.77h0M455.68 330.62h0M463.87 331.06h0M459.41 329.42h0M467.99 327.65h0M456.07 325.68h0M455.08 326.55h0M463.1 330.44h0M466.54 328.7h0M464.74 330.04h0M467.41 328.64h0M454.38 330.33h0M460.17 327.42h0M460.14 325.94h0M458.36 333.06h0M466.07 329.66h0M458.14 333.02h0M468.63 330.56h0M461.94 332.87h0M458.06 330.47h0M459.56 334.8h0M456.04 327.76h0M458.23 331.51h0M461.92 330.41h0M459.47 333.24h0M456.19 330.83h0M461.03 333.47h0M464.76 324.45h0M457.91 331.85h0M465.27 328.67h0M460.2 330.3h0M467.1 328.97h0M466.78 327.45h0M467.08 329.13h0M464.94 326.63h0M467.69 327.98h0M457.04 330h0M466.53 330.54h0M454.92 334.04h0M465.66 326.54h0M456.77 334.14h0M463.3 329.1h0M458.28 327.41h0M462.55 325.71h0M459.62 330.31h0M395.11 334.98h0M393.87 334.4h0M394.61 333.51h0M395.33 332.02h0M393.83 334.17h0M396.64 333.61h0M396 334.8h0M394.85 334.14h0M393.96 333.23h0M393.61 331.28h0M393.28 335.53h0M392.77 332.88h0M395.59 336.2h0M392.84 333.98h0M394.48 333.59h0M393.91 334.91h0M392.15 334.96h0M414.14 340.33h0M415.55 340.12h0M415.48 338.51h0M416.94 346.21h0M415.37 340.41h0M412.74 344.71h0M411.54 341.15h0M415.11 344.37h0M415.17 344.8h0M411.47 342.61h0M416.69 340.76h0M416.06 343.28h0M413.26 339.48h0M415.52 344.7h0M413.75 344.67h0M415.13 338.59h0M417.62 341.24h0M415.58 341.33h0M411.78 341.5h0M417.24 343.4h0M415.47 338.74h0M415.74 342.32h0M413.55 343.95h0M413.81 344.14h0M414.3 344.15h0M412.77 345.08h0M416.19 342.26h0M413.99 339.76h0M414.04 340.41h0M415.12 342.13h0M417.11 344.89h0M414.55 343.8h0M418.27 342.45h0M415.4 343.51h0M416.39 346.96h0M416.27 343.26h0M416.49 344.1h0M418.03 341.8h0M415.9 343.19h0M414.89 346.56h0M430.59 348.96h0M431.81 348.55h0M433.24 353.92h0M430.7 346.52h0M429.44 350.92h0M429.68 353.8h0M428.29 348.19h0M432.53 353.99h0M431.7 349.65h0M428.62 351.13h0M432.1 348.98h0M430.27 349.16h0M428.52 348.57h0M430.34 348.73h0M428.93 347.9h0M432.49 350.97h0M426.88 348.56h0M432.06 352.53h0M433.67 350.43h0M428.64 350.27h0M431.66 353.8h0M427.49 349.13h0M432.1 348.86h0M432.72 351.97h0M428.22 350.42h0M433.53 351.06h0M434.2 347.18h0M432.87 353.33h0M430.63 349.45h0M430.6 347.32h0M429.92 347.17h0M434.29 351.08h0M430.95 348.21h0M430.86 354.01h0M427.82 350h0M428.87 351.51h0M431.75 353.73h0M432.77 346.17h0M431.81 347.63h0M432 348.09h0M430.55 350.61h0M429.74 350.28h0M431.52 347.09h0M427.13 352.25h0M427.82 350.15h0M430.74 353.94h0M432.45 350.31h0M433.87 350.83h0M431.66 348.69h0M427.66 351.16h0M429.59 346.66h0M426.69 349.01h0M427.85 349.47h0M453.81 345.89h0M451.42 343.37h0M455.47 349.29h0M458.24 344.33h0M457.9 346.6h0M451.01 347.83h0M455.15 347.42h0M456.96 347.72h0M454.74 347.45h0M453.28 347.83h0M449.58 347.98h0M454.81 346.96h0M454.84 344.78h0M449.11 343.86h0M456.24 347.29h0M450.56 346.55h0M450.37 346.35h0M456.57 345.47h0M452.41 345.81h0M451.88 347.27h0M454.63 345.95h0M455.45 344.53h0M448.78 344.24h0M454.45 342.53h0M455.91 344.11h0M449.01 344.65h0M454.37 348.31h0M453 344.92h0M451.75 350.48h0M453.25 344.44h0M450.12 349.1h0M452.08 342.82h0M450.09 346.63h0M454.41 342.43h0M451.85 344.86h0M448.65 349.21h0M449.77 348.08h0M456.48 347.13h0M454.99 343.22h0M450.45 345.86h0M449.55 344.4h0M450.78 343.21h0M456.02 345.03h0M450.14 344.59h0M452.59 344.92h0M452.96 346.77h0M449.05 349.93h0M454.72 348.4h0M450.66 350.4h0M455.43 343.93h0M453.36 342.14h0M452.71 342.56h0M452.82 345.85h0M452.78 348.43h0M454.3 347.68h0M452.63 342.75h0M453.27 341.61h0M451.32 348.82h0M448.68 345.6h0M453.89 345.16h0M455.44 345.8h0M451.69 341.99h0M452.46 345.34h0M480.27 341.6h0M476.67 342.17h0M479.75 343.32h0M479.36 341.21h0M478.57 340.49h0M476.86 342.84h0M479.58 341.4h0M476.71 343.48h0M479.57 340.99h0M476.95 342.16h0M479.89 342.33h0M476.84 342.49h0M476.59 341.55h0M478.88 341.13h0M478.99 340.91h0M478.11 344.76h0M479.36 340.49h0M488.6 340.35h0M487.95 340.82h0M488.95 340.52h0M490.35 337.8h0M488.25 341.7h0M490.89 340.28h0M488.92 337.68h0M492.37 338.31h0M488.39 339.19h0M490.49 338.95h0M490.42 340.59h0M489.38 339.53h0M491.98 338.51h0M491.77 340.26h0M489.91 339.91h0M488.91 341.13h0M491.99 339.75h0M489.91 339.63h0M492.62 341.47h0M487.76 341.33h0M491.84 342.55h0M490.53 342.73h0M491.8 338.02h0M507.71 344.83h0M509.78 347.61h0M508.22 345.83h0M509.59 345.05h0M509.19 344.08h0M508.34 347.19h0M510.66 344.89h0M509.42 347.2h0M509.76 346.54h0M508.62 345.99h0M509.97 344.1h0M509.05 346.22h0M509 346h0M508.37 344.51h0M510.18 346.03h0M510.04 346.22h0M509.44 343.48h0M500.27 358.65h0M501.1 357.56h0M493.42 358.57h0M496.2 358.98h0M497.51 360.09h0M495.21 359.68h0M494.54 360.33h0M502.01 357.78h0M497.87 357.96h0M500.48 358.25h0M498.65 356.77h0M495.59 361.75h0M502.79 356.45h0M497.54 362.92h0M499.5 359.85h0M503.76 359.51h0M503.01 358.13h0M496.44 356.56h0M498.07 359.47h0M500.05 357.96h0M496.26 357.26h0M502.01 357.3h0M502.25 356.98h0M502.92 359.67h0M500.61 355.33h0M495.2 354.99h0M501.06 355.86h0M501.01 359.46h0M499.41 355.67h0M496.9 360.99h0M498.22 356.24h0M499.87 356.76h0M496.35 357.42h0M500.37 358.05h0M497.57 356.65h0M501.68 353.56h0M500.73 355.2h0M497.57 361.03h0M496.51 357.67h0M497.63 357.34h0M500.78 358.26h0M494.92 360.44h0M497.18 356.36h0M497.07 355.91h0M496.06 362h0M500.98 361.4h0M496.81 360.71h0M504.27 360.65h0M496.51 357.76h0M498.56 356.25h0M501.87 363.05h0M498.66 356.56h0M495.91 358.48h0M500.82 359.22h0M499.25 354.51h0M497.06 363.33h0M500.79 359.36h0M501 360.22h0M499.23 359.94h0M502.64 359.36h0M498.54 360.24h0M504.24 358.02h0M499.61 357.76h0M501.85 355.95h0M498.98 357.02h0M498.56 356.96h0M502.22 354.43h0M498.11 357.68h0M452.21 364.12h0M452.28 362.86h0M454.14 360.54h0M453.41 364.7h0M450.74 363.96h0M449.47 360.75h0M452.28 359.88h0M452.81 360.34h0M454.36 360.97h0M455.41 361.13h0M454.62 360.42h0M450.79 363.47h0M452.56 360.98h0M453.73 362.14h0M451.25 362.12h0M451.23 359.52h0M450.95 361.74h0M450.34 362.72h0M453.79 359.86h0M450.25 360.62h0M453.74 364.4h0M451.58 359.57h0M450.78 359.53h0M454.15 360.1h0M450.9 361h0M450.9 360.33h0M386.68 363.81h0M388.04 361.54h0M387.59 364.6h0M388.16 363.05h0M388.2 363.1h0M389.12 363.51h0M389.61 363.73h0M386.74 362.85h0M411.16 365.58h0M411.18 369.64h0M412.99 369.78h0M409.19 367.83h0M408.93 371.44h0M405.6 368.42h0M413.19 366.32h0M408.33 367.91h0M408.51 369.16h0M406.86 365.87h0M411.77 364.92h0M410.28 368.7h0M411.48 371.02h0M412.57 366.61h0M411.8 369.71h0M411.35 365.75h0M411.72 371.45h0M407.01 370.23h0M412.4 368.94h0M408.7 369.04h0M413.59 369.41h0M407.36 366.96h0M412.09 367.95h0M411.44 371.55h0M410.88 370.63h0M407.97 368.36h0M409.58 370.67h0M413.34 365.72h0M407.36 369.92h0M408.86 370.64h0M408.08 370.36h0M412.13 369.49h0M412.43 368.44h0M408.31 367.27h0M412.35 365.74h0M409.74 365.24h0M410.2 367.48h0M409.68 367.41h0M407.58 364.2h0M412.07 370.08h0M409.14 364.08h0M407.8 369.18h0M407.98 367.26h0M412.79 367.19h0M410.41 367.71h0M392.1 379.01h0M391.39 376.07h0M389.36 376.25h0M391.7 377.05h0M389.68 378.92h0M388.69 376.71h0M392.95 378.95h0M391.54 377.36h0M390.16 375.7h0M389.8 376.48h0M392.87 376.25h0M387.63 377.73h0M389.15 377.22h0M391.24 375.31h0M391.93 377.41h0M387.45 379.07h0M389.15 379.62h0M393.39 377.25h0M390.8 377.17h0M393.53 375.73h0M390.27 375.18h0M390.68 379.13h0M388.71 377.71h0M391.24 378.46h0M389.77 376.6h0M388.53 376.35h0M451.01 385.57h0M449.48 381.69h0M449.05 383.85h0M449.59 383.65h0M447.88 384.48h0M449.05 382.54h0M445.51 383.3h0M451.87 382.06h0M450.44 383.73h0M451.01 380.56h0M447.97 384.69h0M451.68 384.4h0M450.66 382.13h0M447.71 379.19h0M450.16 378.48h0M444.7 382.3h0M448.22 384.49h0M450.49 378.42h0M451.46 380.31h0M448.78 382.46h0M446.61 379.62h0M449.16 380.66h0M444.41 379.88h0M449.25 376.28h0M451.77 379.27h0M451.02 379.52h0M449.24 384.01h0M448.14 382.35h0M451.02 381.66h0M449.35 380.73h0M447.61 383.36h0M445.57 384.18h0M450.13 379.46h0M445.35 381.43h0M447.87 378.07h0M450.08 384.6h0M452.58 384.47h0M448.95 379.34h0M449.21 380.96h0M444.43 380.71h0M446.51 381.37h0M449.13 382.36h0M447.75 383.18h0M451.66 379.27h0M449.86 384.1h0M429.57 383.53h0M434.1 385.93h0M430.88 387.5h0M432.89 388.61h0M433.34 387.2h0M427.91 386.82h0M432.36 387.98h0M430.57 388.82h0M429.49 385.01h0M430.6 386.25h0M429.86 384.69h0M429.18 388.33h0M427.89 389.25h0M430.73 389.58h0M429.16 385.63h0M430.92 389.73h0M432.42 388.29h0M428.44 387.3h0M430.73 384.05h0M431.1 389.3h0M432.15 387.18h0M429.88 388.65h0M430.54 384.93h0M429.35 389.3h0M430 386.57h0M434.22 388.59h0M429.31 389.36h0M430.83 386.39h0M431.88 387.78h0M466.29 390.37h0M467.82 390.09h0M468.64 390.35h0M466.1 390.5h0M470.73 390.91h0M467.65 391.65h0M465.95 388.5h0M466.43 390.34h0M470.36 391.24h0M468.89 393.53h0M467.28 390.3h0M467.28 389.33h0M470.58 389.55h0M467.39 390.94h0M466.1 390.15h0M467.76 390.53h0M470.64 389.83h0M469.44 393h0M466.64 391.82h0M465.98 392.69h0M467.09 388.72h0M468.32 393.16h0M465.67 390.42h0M492.51 383.91h0M492.38 383.36h0M492.4 383.88h0M491.32 384.42h0M408.76 393.55h0M405.15 395.86h0M407.46 392.12h0M408.65 399.75h0M410.87 398.6h0M403.76 395.07h0M404.93 392.76h0M406.25 393.25h0M412.18 395.77h0M404.66 393.08h0M405.64 393.33h0M407.56 401.36h0M404.71 393.57h0M404.26 399.08h0M403.24 392.79h0M400.91 395.75h0M410.87 398.08h0M406.98 397.49h0M407.55 399.07h0M407.87 397.33h0M405.34 399.08h0M406.53 393.22h0M407.96 393.73h0M406.88 392.24h0M407.34 394.09h0M408.98 395.94h0M411.45 392.7h0M402.67 396.97h0M409.92 395.78h0M405.26 393.75h0M411.34 394.75h0M409.15 397.36h0M400.06 395.18h0M400.9 394.39h0M404.93 395.38h0M405.49 397.73h0M407.44 400.32h0M404.64 398.33h0M404.62 396.74h0M406.29 398.96h0M407.67 393.72h0M404.94 394.97h0M405.22 392.96h0M412.13 394.56h0M403.06 394.23h0M404.94 400.15h0M407 396.74h0M406.45 399.39h0M410.31 396.34h0M410.07 397.31h0M404.18 392.74h0M409.21 395.84h0M408.34 397.65h0M405.23 392.27h0M407.16 391.18h0M409.49 400.32h0M406.69 395.79h0M406.53 390.89h0M408.57 399.37h0M410.64 392.9h0M406.84 395.32h0M403.3 397.84h0M406.82 394.36h0M423.23 398.18h0M421.64 400.09h0M423.58 398.32h0M423.95 398.95h0M422.01 397.78h0M420.68 399.37h0M423.33 399.6h0M421.17 398.25h0M440.55 400.69h0M439.73 400.92h0M438.11 401.08h0M436.59 402.94h0M440.75 404.83h0M439.97 400.82h0M438.29 406.16h0M437.15 402.29h0M442.27 403.24h0M438.55 405.11h0M439.8 405.57h0M440.79 402.2h0M439.62 401.07h0M438.18 401.14h0M441.36 402.75h0M439.62 402.26h0M437.9 404.02h0M437.94 405.62h0M436.64 401.74h0M440.45 404.18h0M440.92 402.12h0M436.26 402.14h0M438.98 403.98h0M437.46 404.56h0M440.18 401.62h0M437.96 402.79h0M439.57 405.31h0M438.91 401.96h0M435.84 402.03h0M438.53 401.86h0M437.61 404.96h0M439.54 403.62h0M439.77 403.93h0M436.02 401.52h0M438.08 402.61h0M441.12 401h0M440.64 404.27h0M511.81 394.9h0M509.84 393.05h0M512.36 393.19h0M508.34 393.91h0M514.69 395.07h0M513.51 395.24h0M509.98 392.42h0M511.22 393.96h0M511.67 391.48h0M512.71 396.27h0M513.53 392.8h0M510.3 395.75h0M511.04 393.55h0M510.04 394.26h0M513.22 393.59h0M513.93 393.1h0M508.39 392.94h0M513.08 395.73h0M510.9 391.59h0M510.35 393.18h0M511.42 394.34h0M511.27 392.19h0M511.99 395.04h0M513.5 391.44h0M512.09 395.19h0M511.46 393.76h0M467.67 410.9h0M469.48 410.74h0M466.4 412.53h0M470.12 409.51h0M467.43 410.69h0M470.72 411.48h0M467.7 409.98h0M466.96 410.83h0M467.55 413.18h0M466.19 409.64h0M466.39 409.96h0M465.84 410.94h0M466.59 411.28h0M469.4 411.73h0M465.96 411.16h0M469.06 411.77h0M469.82 410.52h0M468.95 409.55h0M466.54 413.43h0M470.46 411.25h0M405.49 411.59h0M407.3 411.95h0M407.93 412.29h0M406.59 412.55h0M406.5 412.44h0M408.46 412.01h0M406.1 412.46h0M408.48 411.04h0M514.46 410.11h0M511.63 408.76h0M513.72 410.24h0M512.78 407.39h0M512.07 406.58h0M511.83 408.55h0M516.08 409.82h0M513.87 410.52h0M515.97 410.19h0M512.77 408.07h0M511.68 408.94h0M515.56 408.98h0M513.12 409.68h0M515.01 408.71h0M513.24 410.24h0M515.24 407.89h0M512.47 409.84h0M377.92 318.79h0M377.14 320.53h0M376.97 320.15h0M376.28 318.73h0M376.28 320.87h0M473.14 318.55h0M473.3 316.79h0M473.42 319h0M475.43 318.39h0M474.29 317.86h0M371.21 400.32h0M372.35 401.3h0M371.71 400.66h0M372.36 400.2h0M372.54 401.94h0M450.99 390.71h0M452.33 391.07h0M450.16 390.97h0M452.17 390.76h0M430.45 396.55h0M430.7 396.44h0M429.33 396.81h0M431.07 397.22h0M445.79 410.35h0M444.88 411.54h0M445.58 409.68h0M446.67 410.55h0" fill="none" stroke="#d2302a" stroke-width="1.25" stroke-linecap="round"/>
<path d="M437.37 325.42h0M430.9 326.12h0M430.8 331.81h0M430.93 326.06h0M432.87 329.66h0M433.31 329.66h0M434.24 328.87h0M436.35 329.54h0M429.96 328.46h0M436.02 327.63h0M433.11 325.46h0M434 331.03h0M432.31 326.38h0M429.06 331.4h0M434.52 330.06h0M437.96 327.06h0M433.79 329.26h0M433.24 332.97h0M459.8 333.48h0M461.83 325.45h0M466.62 328.15h0M461.86 326.34h0M456.31 328.82h0M457.37 330.31h0M459.98 324.25h0M457.76 330.49h0M466.59 326.32h0M461.32 330.07h0M461.92 331.79h0M460.67 330.74h0M466.83 328.93h0M465.25 331.6h0M457.48 328.58h0M456.51 325.93h0M461.41 332.16h0M462.64 330.39h0M466.15 327.97h0M461.91 327h0M393.22 333.84h0M392.32 333.39h0M395.52 334.6h0M415.15 342.52h0M414.73 344.8h0M413.28 339.78h0M412.44 341.1h0M413.68 339.44h0M414.07 341.83h0M413.54 342.93h0M415.67 339.65h0M430.99 350.88h0M428.45 352.62h0M428.29 350.78h0M427.73 352.21h0M428.25 349.72h0M431.69 348.98h0M430.35 348.34h0M431.6 349.86h0M429.1 352.36h0M430.44 351.59h0M452.48 343.43h0M452.57 346.57h0M449.9 345.98h0M449.56 346.84h0M452.69 341.11h0M456.48 343.59h0M452.04 348.78h0M450.96 345.86h0M453.23 344.62h0M453.08 346.35h0M451.82 345.77h0M450 343.96h0M477.52 342.55h0M478.33 342.44h0M477.51 342.6h0M490.14 341.08h0M488.34 340.18h0M489.49 339.59h0M491.48 338.66h0M510.23 346.15h0M508.6 346.87h0M509.3 345.32h0M500.66 354.78h0M498.94 363.23h0M501.64 354.73h0M499.24 360.02h0M498.91 358h0M498.45 358.01h0M498.8 361.76h0M494.74 354.91h0M502.24 358.5h0M497.88 356.87h0M497.52 358.94h0M496.14 356.52h0M499.78 357.1h0M453.01 363.29h0M452.65 360.22h0M450.44 361.49h0M451.19 361.91h0M451.52 362.85h0M406.99 369.82h0M410.88 370h0M411.49 369.97h0M410.72 369.1h0M411.97 370.73h0M408.08 368.58h0M407.24 370.22h0M409.8 369.27h0M408.97 367.24h0M390.75 378.43h0M387.17 378.09h0M390.38 380.2h0M389.15 378.69h0M388.37 377.93h0M447.81 380.64h0M447.93 379.98h0M451.72 384.55h0M448.77 384.92h0M446.84 382.98h0M449.18 383.97h0M451.52 380.78h0M448.35 381.07h0M448.46 383.21h0M431.38 386.98h0M429.1 385.57h0M431.86 389.84h0M431.15 387.39h0M432.22 385.86h0M468.31 391.5h0M465.48 391.46h0M468.13 391.44h0M468.21 389.23h0M403.11 394.27h0M407.81 394.16h0M408.16 392.51h0M407.74 396.07h0M408.51 394.33h0M411 395.5h0M404.93 395.67h0M405.29 394.69h0M404.48 395.96h0M404.93 399h0M405.92 396.48h0M406.79 397.15h0M439.1 404.55h0M438.93 401.37h0M436.98 401.75h0M438.44 400.62h0M438.12 405.54h0M440.03 404.43h0M439.19 404.61h0M510.09 394.65h0M513.13 395.98h0M512.83 396.23h0M513.77 392.7h0M511.35 393.8h0M469.45 411.54h0M466.58 409.99h0M466.12 411.46h0M468.14 410.65h0M512.78 406.74h0M513.18 409.4h0M511.72 407.3h0" fill="none" stroke="#f2604e" stroke-width="0.7" stroke-linecap="round"/>
</g></g>
<clipPath id="cp4"><rect x="518" y="316.2" width="144.2" height="97.6"/></clipPath>
<rect x="518" y="316.2" width="144.2" height="97.6" fill="#020208"/>
<g clip-path="url(#cp4)"><g filter="url(#soft)">
<path d="M585.72 324.74h0M580.56 329.53h0M579.29 333.22h0M576.73 327.63h0M579.6 331.99h0M580.85 330.58h0M581.54 325.3h0M588.18 331.71h0M575.25 329.65h0M575.78 328.73h0M584.07 329.39h0M575.62 328.43h0M578.07 331.14h0M585.46 326.44h0M580.6 332.38h0M582.21 329.46h0M582.4 327.69h0M578.57 333.07h0M578.4 328.72h0M576.02 327.38h0M582.17 325.42h0M581.38 326.87h0M576.8 329.71h0M585.71 330.51h0M576.66 330.89h0M574.24 327.42h0M577.87 330.87h0M577.23 333.31h0M583.46 325.76h0M579.5 326.39h0M585.78 328.36h0M586.03 329.73h0M584.31 324.19h0M577.68 332.72h0M584.04 333.73h0M576.95 331.58h0M580.11 330.63h0M581.04 329.19h0M579.37 332.38h0M579.07 324.22h0M584.38 332.27h0M583.27 325.37h0M585.47 331.31h0M586.61 332.11h0M585.85 326.13h0M581.43 325.75h0M581.29 326.48h0M576.84 326.19h0M589.22 327.79h0M583.92 326.2h0M578.1 328.44h0M586.61 326.27h0M580.12 326.4h0M580.53 329.91h0M573.36 331.42h0M580.96 328.21h0M583.54 332.41h0M581.51 331.85h0M583.88 323.6h0M587.15 330.65h0M580.56 328.92h0M578.14 331.48h0M576.98 330.24h0M586.19 328.96h0M585.96 327.47h0M578.02 327.06h0M576.2 325.45h0M584.3 324.64h0M575.81 331.21h0M576.54 332.23h0M582.5 327.83h0M574.93 328.5h0M582.67 325.94h0M581.41 328.74h0M580.07 329.4h0M584.71 325.44h0M585.12 330.95h0M586.75 326.31h0M580.91 327.72h0M579.11 327.22h0M579.23 332.33h0M588.37 330.26h0M575.79 332.17h0M575.76 330.81h0M580.43 333.48h0M579.69 327.59h0M574.52 330.51h0M576.87 325.15h0M584.69 324.87h0M583.02 326.21h0M586.23 327.49h0M577.65 327.06h0M589.48 326.4h0M575.37 332.3h0M578 329.18h0M577.05 329.22h0M579.99 333.57h0M586.7 329.83h0M577.46 329.32h0M577.92 327.35h0M578.45 328.39h0M581.18 332.41h0M579.46 333.59h0M584.44 325.85h0M578.4 329.17h0M578.11 332.05h0M582.21 324.2h0M575.21 329.87h0M611.88 331.18h0M606.49 331.27h0M611.11 332.41h0M603.41 327.23h0M603.62 329.1h0M610.14 325.93h0M600.96 333.36h0M603.57 333.17h0M608.69 327.76h0M604.78 330.77h0M602.86 325.91h0M601.73 330.4h0M604.23 329.91h0M606.31 326.13h0M602.03 327.72h0M612.08 334.17h0M610.09 331.25h0M606.79 326.88h0M608.39 324.96h0M601.91 329.09h0M610.27 335.98h0M607.33 328.16h0M611.82 329.42h0M605.94 331.97h0M603.69 330.84h0M605.19 329.51h0M603.7 328.25h0M606.42 328.2h0M604.49 333.95h0M608.67 335.09h0M610.56 325.58h0M604.05 327.34h0M614.59 326.43h0M610.23 331.36h0M610.53 327.76h0M606.73 333.89h0M602.98 328.99h0M608.39 335.05h0M613.66 335.36h0M604.86 326.78h0M611.32 326.98h0M603.02 328.7h0M603.89 325.79h0M606.9 330.55h0M612.71 332.9h0M617.83 330.84h0M610.19 329.45h0M608.84 326.32h0M612.63 332.3h0M608.68 330.05h0M612.15 332.4h0M610.41 335.12h0M609.91 331.7h0M604.57 330.77h0M602.2 328.99h0M608.23 328.42h0M609.98 329.01h0M608.29 333.29h0M612.96 335.92h0M613.33 333.75h0M609.01 331.49h0M607.21 328.06h0M612.73 329.14h0M613.09 331.26h0M606.7 325.47h0M614.37 329.08h0M613 328.98h0M609.74 328.43h0M605.52 329.87h0M605.42 328.34h0M609.86 325.02h0M615.7 333.74h0M610.11 329.88h0M604.54 329.12h0M611.97 335.86h0M612.87 334.33h0M613.48 334.34h0M612.14 328.95h0M615.64 329.75h0M609.78 327.24h0M606.5 332.96h0M606.39 326.67h0M608.02 329.79h0M614.62 333.55h0M607.43 327.79h0M605.21 326.72h0M612.77 327.43h0M599.76 331.53h0M610.32 330.08h0M617.25 328.58h0M604.47 330.86h0M600.81 332.51h0M606.02 333.41h0M608.35 329.27h0M600.07 330.19h0M604.91 332.6h0M609.22 328.69h0M604.33 332.83h0M611.52 330.43h0M607.59 331.85h0M608.1 333.81h0M613.4 327.32h0M608.98 331.34h0M610.35 333.21h0M608.04 330.32h0M607.41 325.96h0M602.02 333.51h0M611.19 326.13h0M603.52 325.13h0M609.72 331.38h0M606.12 329.32h0M602.36 329.66h0M605.91 331.14h0M610.42 328.64h0M611.48 328.46h0M603.91 327.29h0M604.9 329.76h0M612.17 332.97h0M611.9 329.73h0M613.38 331.43h0M609.39 334.42h0M610.73 328.17h0M540.39 332.27h0M540.31 333.61h0M543.18 333.96h0M538.83 332.35h0M538.57 333.12h0M540.99 331.16h0M540.86 333.38h0M542.54 332.25h0M542.65 332.48h0M541.44 332.04h0M541.81 332.24h0M539.29 333.4h0M543 331.81h0M539.75 334.38h0M539.04 331.87h0M542.38 333.85h0M539.75 334.06h0M541.12 331.79h0M539.43 333.77h0M539.77 332.6h0M543.46 334.84h0M563.2 339.56h0M565.05 342.95h0M564.1 339.74h0M563.28 339.32h0M565.31 341.57h0M563.73 337.87h0M561.05 339.83h0M560.63 343.76h0M565.95 344.45h0M560.35 345.72h0M559.99 342.14h0M564.5 342.44h0M563.17 345.06h0M564.2 341.44h0M563.42 340.18h0M565.6 343.7h0M565.82 343.25h0M564.09 341.43h0M566.42 342.84h0M563.91 343.51h0M566.7 342.52h0M563.56 343.47h0M564.73 341.6h0M563.19 343.71h0M565.33 343.42h0M560.99 343.04h0M563.77 344.3h0M560.52 343.31h0M561.62 343.34h0M560.59 342.49h0M561.2 341.6h0M565.69 342.11h0M565.82 344.09h0M564.64 340.32h0M563.45 338.61h0M564.81 345.08h0M564.25 340.4h0M560.1 342.9h0M564.63 346.75h0M561.73 343.78h0M562.49 339.75h0M560.94 339.28h0M559.83 345.59h0M564.94 344.02h0M561.19 338.97h0M563.55 340.88h0M560.4 344.49h0M561.39 339.32h0M560.12 342.08h0M577.9 351.46h0M573.85 350.44h0M574.56 345.26h0M576.7 349.78h0M575.3 349.89h0M574.81 350.56h0M573.69 351.58h0M573.92 347.68h0M575.01 349.37h0M578.37 348.05h0M578.86 352.68h0M571.7 351.33h0M579.4 349.51h0M579.03 352.76h0M574.16 350.38h0M576.09 351.55h0M572.16 349.46h0M576.67 346.84h0M577.12 346.5h0M579.18 347.03h0M577.14 351.97h0M573.68 347.82h0M573.06 349.1h0M574.02 349.66h0M576.34 350.28h0M578.59 352.26h0M576.52 351.74h0M578.36 351.69h0M575.48 348.7h0M574.43 351.45h0M577.79 349.07h0M576.63 354.59h0M575.73 350.06h0M574.36 350.18h0M575.16 345.68h0M578.26 351.13h0M577.05 353.27h0M576.27 346.77h0M574.35 348.49h0M576.27 350.55h0M575.76 353.02h0M576.53 346.98h0M575.58 346.23h0M574.79 347h0M575.01 347.84h0M576.65 353.4h0M574.32 353.67h0M580.7 347.56h0M576.79 354.09h0M575.08 351.34h0M571.94 348.68h0M573.51 351.2h0M574.34 351.09h0M580.48 348.68h0M580.41 348.57h0M576.22 349.17h0M574.09 346.77h0M575.98 347.9h0M577.31 349.85h0M575.71 350.87h0M573.67 349.4h0M574.82 352.16h0M580.25 351.4h0M579.76 347.63h0M598.84 345.99h0M602.32 349.15h0M600.22 345.8h0M606.56 348.24h0M605.55 344.48h0M598.72 346.58h0M603.15 341.89h0M604.73 348.88h0M598.29 350.33h0M604.04 346.62h0M598.01 348.74h0M601.89 346.6h0M601.38 350.52h0M600.37 345.12h0M598.85 343.73h0M600.63 345.72h0M597.99 346.48h0M597.51 349.15h0M605.11 349.92h0M603.75 345.33h0M598.1 351.13h0M601.75 349.28h0M601.4 349.51h0M600.83 342.95h0M601.65 346.91h0M603.44 348.24h0M595.34 345.77h0M604.37 347.89h0M603.48 349.43h0M600.64 342.63h0M601.73 346.47h0M600.94 349.71h0M604.93 346.57h0M598.63 352.05h0M595.21 345.7h0M604.3 344.34h0M600.56 348.5h0M600.73 346.63h0M601.36 349.89h0M605.17 342.21h0M605.17 346.29h0M599.61 346.61h0M600.07 345.7h0M603.27 341.86h0M594.91 348.46h0M598.08 344.02h0M604.95 348.26h0M601.75 346.96h0M598.35 344.05h0M601.15 346.82h0M597.06 348.84h0M605.98 349.07h0M605.81 343.93h0M596.79 351.15h0M599.02 349.06h0M601.35 342.88h0M597.52 346.54h0M603.78 349.47h0M603.8 346.71h0M597.43 346.88h0M596.94 345.22h0M605.02 347.96h0M602.69 350.71h0M603.56 350.31h0M597.16 351h0M603.81 343.89h0M604.79 343.28h0M600.63 350.64h0M600.65 347.26h0M602.22 348.26h0M602.6 349.17h0M600.45 348.68h0M599.51 343.67h0M598.51 347.09h0M605.25 348.49h0M607.23 344.29h0M626.45 342.5h0M625.23 343.07h0M625.55 342.11h0M626.68 342.38h0M628.52 342.6h0M627.41 341.21h0M628.6 342.51h0M628.89 341.83h0M625.2 341.02h0M625.96 343.79h0M627.39 344.09h0M626.78 341.94h0M625.04 342.78h0M625.38 344.12h0M625.98 342.41h0M627.8 344.84h0M627.99 341.05h0M626.53 343.21h0M626.39 342.71h0M627 342.82h0M626.39 343.97h0M641.08 340.05h0M640.83 340.14h0M637.61 344.25h0M639.91 343.45h0M640.86 339.78h0M637.81 343.41h0M638.18 340.22h0M636.98 340.07h0M638.85 338.36h0M638.87 344.27h0M638.16 340.76h0M637.96 343.8h0M635.85 340.18h0M637.9 343.44h0M640.72 341.59h0M635.73 342.75h0M639.75 341.85h0M638.43 339.33h0M640.26 340.2h0M636.31 338.61h0M640.35 341.39h0M638.9 340h0M638.56 340.59h0M640.51 341.38h0M639.46 343.51h0M635.27 340.9h0M637.79 339.93h0M636.28 341.21h0M659.55 345.42h0M658.61 346.34h0M656.31 344.5h0M655.81 346.46h0M657.34 344.99h0M659.49 344.22h0M655.9 342.17h0M655.21 345.96h0M656.13 342.32h0M655.16 344.05h0M656.04 343.26h0M656.89 342.26h0M655.2 343.32h0M656.75 346.35h0M656.39 345.76h0M657.68 346.22h0M658.01 344.19h0M654.99 345.2h0M656.93 346.37h0M655.57 342.93h0M655.74 343.49h0M644.91 357.65h0M645.21 354.86h0M644.15 351.89h0M648.68 354.29h0M643.88 356.46h0M647.79 357h0M642.86 352.66h0M648.31 358.65h0M646.51 361.69h0M645.39 362.5h0M646.95 356.25h0M650.15 359.67h0M647.07 360.25h0M647.83 359.97h0M645.1 357.16h0M647.52 353.93h0M642.99 359.97h0M648.3 354.75h0M647.4 360.88h0M649.69 359.83h0M645.36 362.19h0M646.47 355.62h0M644.27 358.52h0M645.27 359.55h0M648.17 361.98h0M648.09 361.1h0M644.11 361.3h0M648.42 360.77h0M646.45 356.51h0M648.37 358.59h0M644.63 361.82h0M643.24 356.94h0M644.69 364.04h0M645.62 363.78h0M649.75 355.79h0M647.41 357.14h0M642.98 359.45h0M648.48 359.42h0M642.6 359.29h0M642.46 360.97h0M648.52 360.45h0M647.56 354.2h0M643.89 358.69h0M648.69 354.43h0M646.42 360.53h0M647.92 357.22h0M646.77 358.42h0M641.66 358.07h0M648.31 360.52h0M645.67 363.25h0M644.25 355.75h0M647.81 354.13h0M646.67 359.35h0M646.87 363.29h0M642.87 360.42h0M649.41 358.91h0M648.28 355.68h0M647.49 361.57h0M643.01 360.79h0M643.9 358.38h0M645.28 355.05h0M645.93 358.31h0M647.35 353.74h0M647.2 358.13h0M646.37 357.61h0M649.69 360.69h0M648.09 363.96h0M649.91 356.89h0M645.36 361.71h0M649.03 357.64h0M645.37 351.99h0M647.03 354.72h0M646.75 359.54h0M644.27 357.25h0M648.4 360.58h0M647.83 361.88h0M647.64 364.01h0M646.42 363.56h0M645.35 356.92h0M646.09 355.21h0M642.94 357.55h0M650.66 357.13h0M599.42 362.87h0M599.78 359.17h0M598.28 361.86h0M601.45 360.81h0M598.95 365.07h0M599.87 361.99h0M599.55 360.45h0M597.82 359.87h0M600.18 359.59h0M598.85 363.93h0M599.85 360.29h0M600.46 364.19h0M597.99 359.46h0M598.65 363.47h0M600.91 361.15h0M595.98 360.72h0M599.29 363.3h0M601.96 360.15h0M599.41 363.51h0M597.24 363.07h0M599.59 359.66h0M598.49 361.38h0M600.92 363.68h0M600.49 361.5h0M599.22 364.87h0M598.66 365.06h0M598.85 360.96h0M596.68 363.37h0M598.77 360.27h0M599.5 361.06h0M599.53 359.65h0M537.26 362.23h0M534.82 361.4h0M537.27 362.69h0M533.61 362.6h0M534.9 362.18h0M535.73 364.05h0M536.43 362.39h0M536.86 363.72h0M535.17 362.6h0M535.74 362.71h0M556.32 368.42h0M559.58 371.65h0M558.03 372.69h0M560.91 368.03h0M558.98 369.19h0M560.91 368.56h0M555.62 364.13h0M554.62 367.96h0M555.25 370.03h0M559.51 365.58h0M555.32 366.52h0M559.16 369.15h0M560.66 365.81h0M556.77 370.67h0M559.08 367.73h0M555.78 365.63h0M559.27 368.27h0M557.46 367.98h0M557.53 370.12h0M554.65 367.76h0M557.58 364.24h0M556.49 372.37h0M556.53 371.39h0M557.59 367.89h0M557.84 369.22h0M555.37 372.15h0M562.07 365.68h0M560.48 370.27h0M557.96 366.87h0M554.82 369.28h0M556.85 362.58h0M558.69 368.84h0M559.46 368.88h0M555.13 370.23h0M558.28 372.44h0M560.25 371.68h0M556.33 370.12h0M557.77 367.38h0M556.7 372.35h0M557.09 370.28h0M554.55 367.11h0M558.15 364.69h0M558.75 365.06h0M559.07 366.08h0M555.56 366.14h0M562.01 370.78h0M556.37 363h0M555.92 371.23h0M560.09 371.33h0M553.25 370.32h0M556.59 368.81h0M555.87 366.43h0M554.36 366.75h0M557.75 368.15h0M537.76 378.15h0M536.05 377.89h0M539.22 374.68h0M537.57 375.65h0M538.92 377.9h0M539.16 377.34h0M540.25 375.92h0M537.52 376.08h0M536.76 373.76h0M538.79 374.4h0M537.99 373.86h0M536.24 376.78h0M535.94 378.63h0M538.69 375.69h0M539.28 377.74h0M537.52 375.61h0M537.34 373.03h0M537.25 378.93h0M538.01 375.48h0M538.93 375.86h0M539.72 373.77h0M539.16 379.47h0M537.11 377.75h0M535.42 379.64h0M535.6 377.58h0M537.68 378.57h0M536.73 377.04h0M535.29 375.1h0M537.64 377.12h0M539.59 375.54h0M534.87 376.58h0M598.79 382.81h0M594.41 380.19h0M594.5 382.52h0M593.5 383.5h0M594.33 383.4h0M595.01 380.59h0M601.55 382.76h0M593.9 381.7h0M592.87 383.21h0M597.53 382.64h0M598.51 380.75h0M599.41 379.61h0M600.48 382.78h0M597.84 380.47h0M598.18 379.46h0M596.05 383.19h0M596.29 386.42h0M597.76 379.49h0M595.83 379.64h0M595.6 382.6h0M601.23 381.88h0M601.57 381.64h0M595.34 385.16h0M593.29 384.6h0M596.96 379.28h0M598.19 382.65h0M595.02 383.61h0M597.52 383.65h0M596.31 385.34h0M596.01 380h0M599.04 381h0M598.76 378.3h0M594.31 378.99h0M599.79 376.99h0M597.94 381.47h0M592.87 383.02h0M595.85 383.48h0M596.49 378.5h0M593.74 379.61h0M597.09 376.84h0M595.12 378.05h0M596.69 384.14h0M601.09 378.29h0M601.54 383.06h0M591.19 382.65h0M594.05 383.55h0M599.86 383.21h0M593.24 381.69h0M596.52 382.94h0M596.22 385.3h0M598.92 378.78h0M597.32 384.66h0M600.5 383.77h0M594.39 381.98h0M580.7 387.09h0M579.12 386.94h0M581.44 389.79h0M578.06 386.01h0M579.4 389.06h0M578.21 389.33h0M579.04 387.44h0M578.57 386.91h0M581.03 387.6h0M579.07 388.29h0M578.18 388.44h0M579.19 385.77h0M579.72 390.11h0M578.65 389.72h0M580.26 389.34h0M576.1 386.5h0M574.31 387.85h0M581.8 388.78h0M578.98 388.1h0M580.39 384.52h0M577.71 387.59h0M578.12 384.22h0M575.91 387.65h0M576.78 385.05h0M576.07 387.02h0M578.9 385.44h0M577.19 386.33h0M579.78 388.17h0M576.01 385.53h0M576.51 388.64h0M578.52 387.68h0M574.14 388.05h0M580.1 385.14h0M578.39 385.06h0M581.43 386.24h0M614.3 389.69h0M612.79 388.88h0M615.93 392.65h0M614.38 391.86h0M613.88 393.29h0M615.78 392.83h0M617.78 389.29h0M611.27 391.9h0M615.92 393.39h0M617.78 392.74h0M614.82 391.63h0M613.27 393h0M615.44 388.93h0M616.83 391.95h0M612.72 388.06h0M617.84 390.42h0M612.96 388.82h0M613 391.81h0M611.13 390.25h0M615.34 391.07h0M616.97 391.63h0M612.16 392.78h0M616.24 388.72h0M614.77 389.8h0M614.22 393.42h0M614.46 390.25h0M618.11 389.74h0M614.02 392.43h0M637.95 382.82h0M637.78 382.51h0M639.77 383.57h0M638.21 384.63h0M557.1 392.78h0M557.47 391.25h0M550.75 393.08h0M555.27 395.51h0M556.32 394.44h0M556.69 397.78h0M551.55 391.2h0M552.51 398.38h0M557.41 392.9h0M554.59 399.02h0M557.38 392.95h0M553.23 396.45h0M550.62 396.35h0M553.77 394.5h0M556.61 396.57h0M555.23 397.46h0M556.97 395.51h0M551.95 396.46h0M555.81 397.21h0M558.56 390.68h0M552.27 391h0M558.66 391.37h0M555.14 390.73h0M558.6 395.63h0M558.48 393.16h0M549.98 392.61h0M557.42 391.17h0M556.13 397.64h0M550.46 395.14h0M558.67 394.96h0M553.12 390.74h0M552.79 396.02h0M553.74 392.44h0M557.97 395.27h0M550.9 396.02h0M554.87 395.62h0M552.95 397.74h0M558.35 398.42h0M551.52 391.68h0M556.46 396.61h0M557.99 395.54h0M555.73 393.7h0M550.2 394.1h0M553 399.22h0M558.2 397.61h0M549.59 395.7h0M552.87 394.83h0M558.91 396.79h0M551.61 395.86h0M557.74 392.82h0M549.89 389.76h0M557.11 396.22h0M556.27 392.22h0M551.65 396.39h0M550.22 393.79h0M554.21 393.35h0M557.01 392.01h0M558.56 394.05h0M551.8 391.3h0M556.17 395.92h0M549.33 392.2h0M556.49 397.98h0M552.77 392.3h0M557.67 394.85h0M550.74 390.14h0M552.5 392.2h0M551.31 395.49h0M552.91 394.74h0M554.21 395.16h0M552.63 396.04h0M557 395.58h0M553.09 389.65h0M553.76 392.43h0M549.52 394.08h0M559.65 393.06h0M554.36 389.42h0M570.56 398.1h0M568.76 400.94h0M570.49 397.44h0M568.42 398.46h0M570.49 397.7h0M568.03 400.46h0M568.34 397.19h0M569.33 399.39h0M568.75 397.33h0M567.72 398.01h0M589.63 399.58h0M589.27 404.58h0M587.09 404.59h0M585.02 404.37h0M588.26 403.27h0M589.61 399.86h0M585.06 402.07h0M587.39 403.77h0M585.38 405h0M585.98 405.72h0M588.66 400.13h0M586.13 406.62h0M586.05 404h0M583.7 403.57h0M592.23 403.58h0M588.54 399.78h0M587.78 401.75h0M588.93 402.86h0M589.47 406.97h0M588.35 405.99h0M585.51 400.76h0M587.22 403.72h0M589.79 403.47h0M590.03 402.19h0M587.76 405.92h0M586.45 404.18h0M583.95 405.99h0M584.68 406.04h0M586.9 406.43h0M586.09 406.78h0M586.63 404.54h0M587.29 400.97h0M586.06 406.47h0M586.61 402.42h0M587.48 407.29h0M589.64 404.64h0M586.65 403.79h0M588.28 399.21h0M590.55 406.53h0M586.08 401.58h0M586.96 402.78h0M585.63 406.51h0M587.93 402.69h0M588.93 404.6h0M656.29 391.23h0M657.56 396.67h0M660.18 394.63h0M656.38 395.26h0M657.43 393.63h0M661.24 394.53h0M659.27 396.03h0M660.05 396.72h0M660.68 393h0M657.83 390.28h0M659.71 394.63h0M658.49 392.52h0M660.76 392.48h0M657.99 394.82h0M658.81 394.53h0M658.21 393.31h0M656.32 392.39h0M655.79 395.78h0M658.37 394.52h0M660.13 392.33h0M660.65 395.92h0M660.42 394.88h0M656.34 394.27h0M659.71 392.86h0M657.09 396.51h0M656.43 391.89h0M659.22 395.42h0M658.47 393.07h0M661.16 396.21h0M659.37 392.73h0M656.2 393.5h0M613.71 412.79h0M614.94 413.73h0M614.87 409.62h0M614.76 412.58h0M613.77 412.01h0M614.8 410.59h0M613.4 410.62h0M615.66 409.69h0M612.65 412.34h0M613.94 412h0M617.3 412.57h0M612.93 411.49h0M616.21 412.3h0M614.82 412.23h0M616.39 409.14h0M616.06 409.2h0M614.47 412.54h0M613.7 411.66h0M616.43 413.49h0M612.78 410.8h0M613.31 410.77h0M616.34 410.49h0M615.51 410.69h0M618.47 411.04h0M553.7 412.56h0M553.45 412.23h0M553.48 411.43h0M553.75 413.26h0M553.71 410.33h0M552.11 413.31h0M552.81 411.88h0M555.45 411.4h0M553.1 412.92h0M555.17 413.18h0M663.25 410.26h0M663.55 411.21h0M663.27 410.23h0M660.33 412.12h0M660.98 408.47h0M658.81 409.31h0M660.64 409.48h0M662.49 409.38h0M661.1 408.86h0M663.54 410.94h0M660.63 411.99h0M660.18 410.42h0M658.81 410.12h0M661.07 407.34h0M663.75 409.76h0M663.12 410.98h0M661.51 411.61h0M660.49 411.44h0M663.26 408.8h0M659.16 409.35h0M658.9 410.01h0M524.35 318.38h0M524.48 319.09h0M524.48 320.34h0M524.71 320.24h0M523.65 319.13h0M525.05 319.49h0M621.66 316.43h0M622.04 317.39h0M622.14 317.47h0M620.85 317.61h0M623.4 316.93h0M622.2 317.61h0M521.03 399.77h0M520.55 399.38h0M519.47 401.93h0M519.34 401.02h0M518.35 401.04h0M519.53 398.99h0M598.98 390.98h0M597.5 390.12h0M599.06 390.12h0M598.3 389.3h0M578.53 395.71h0M578.18 396.73h0M576.88 397.63h0M577.9 396.77h0M591.98 410.88h0M592.25 410.72h0M593.61 410.75h0M594.04 411.93h0" fill="none" stroke="#1d3f9a" stroke-width="1.7" stroke-linecap="round" opacity="0.5"/>
<path d="M580.49 327.95h0M577.25 328.37h0M585.56 325.59h0M576.27 330.5h0M577.23 329.59h0M580.65 327.1h0M577.13 327.09h0M583.35 324.77h0M587.79 329.3h0M575.56 328.67h0M585.35 330.94h0M582.12 329.59h0M583.03 327.36h0M580.89 324.57h0M578.81 329.07h0M585.09 329.33h0M588.59 328.13h0M581.13 324.05h0M578.31 328.06h0M577.01 327.55h0M577.75 330.44h0M574.81 330.45h0M578.05 329.18h0M580.02 325.07h0M580.65 330.36h0M582.44 323.47h0M584.01 324.64h0M581.29 330.88h0M574.76 329.78h0M580.2 331.33h0M582.19 329.68h0M583.87 324.76h0M584.26 325.66h0M585.39 328.69h0M583.34 332.21h0M583.43 329.91h0M586.75 325.91h0M579.49 329.91h0M585.55 328.61h0M581.6 325.65h0M577.37 326.98h0M589.6 329.25h0M584.21 327.56h0M583.07 327.04h0M575.56 330.01h0M577.99 324.67h0M585.45 328.47h0M579.54 331h0M586.43 330.88h0M582.43 325.47h0M580.88 331.38h0M583.96 326.76h0M576.66 330.75h0M576.79 325.65h0M585.44 324.51h0M586.57 328.04h0M581.4 332.09h0M575.57 329.98h0M576.48 330.93h0M574.65 330.04h0M577.74 328.59h0M578.47 327.19h0M584.34 325.9h0M583.89 329.03h0M584.94 326.91h0M582 329.39h0M582.62 325.76h0M578.68 326.21h0M582.62 328.4h0M581.86 333.34h0M581.14 331.72h0M578.37 329.04h0M579.73 329.52h0M583.57 329.32h0M580.05 330.24h0M586.34 325.43h0M586.66 325.51h0M583.61 329.85h0M588.07 327.09h0M579.31 328.04h0M575.05 329.69h0M575.2 327.91h0M581.13 325.99h0M580.9 329.76h0M582.82 326.86h0M581.07 330.58h0M584.87 327.68h0M578.89 331.12h0M584.71 332.11h0M585.72 328.3h0M608.39 325.13h0M614.19 334.4h0M603.82 328.68h0M606.1 330.87h0M608.51 333.32h0M607.92 326.77h0M613 329.55h0M606.4 329.9h0M613.01 332.38h0M615.18 327.1h0M605.88 326.42h0M611.38 332.91h0M608.19 328.83h0M602.74 333.93h0M605.96 327.94h0M602.76 330.34h0M607.88 331h0M610.15 331.69h0M611.39 333.57h0M606.34 328.09h0M608.61 334.98h0M610.98 327.25h0M610.45 328.93h0M606.02 330.58h0M603.47 329.05h0M610.08 324.87h0M612.85 334.57h0M611.77 327.62h0M601.36 331.38h0M607.24 327.38h0M606.47 328.1h0M605.64 326.02h0M605.03 329.55h0M609.88 331.1h0M602.73 326.97h0M610.51 328.56h0M608.78 325.17h0M601.66 330.44h0M601.97 330.92h0M610.48 328.73h0M609.81 325.72h0M616.01 332.21h0M605.46 331.48h0M600.75 332.21h0M609.61 329.26h0M610.16 330.58h0M608.98 329.99h0M610.64 334.24h0M605.09 327.08h0M604.54 330.47h0M609.75 331.75h0M603.81 327.74h0M613.12 334.31h0M605.68 332.75h0M610.24 330.53h0M607.99 327.44h0M612.03 327.03h0M602.97 327.76h0M608.9 326.57h0M605.02 326.14h0M611.01 333.65h0M610.77 326.46h0M606.72 327.5h0M613.96 329.28h0M602.25 327.66h0M602.93 331.26h0M613.75 334.32h0M605.51 329.64h0M604.47 329.13h0M609.88 334.64h0M606.24 327.43h0M607.65 329.54h0M606.97 332.97h0M606.34 332.27h0M605.67 331.66h0M614.1 333.61h0M603.16 329.09h0M604.44 329.95h0M614.18 331.55h0M608.19 328.12h0M607.75 330.66h0M608.86 326.84h0M606.41 327.94h0M603.39 328.3h0M607.24 329.28h0M612.6 332.79h0M613.45 334.64h0M608.8 329.96h0M612.58 333.54h0M612.66 332.37h0M607.18 328.27h0M604.97 331.47h0M610.4 327.85h0M607.33 328h0M608.39 329.64h0M612.36 333.65h0M610.86 330.11h0M606.97 327.81h0M604.79 329.47h0M613.08 331.27h0M615.2 330.89h0M540.74 334.17h0M539.44 334h0M542.19 335.3h0M540.2 333h0M540.64 333.96h0M540.04 333.82h0M543.29 334.74h0M539.86 334.22h0M539.21 331.91h0M542.43 334.46h0M540.29 335.06h0M540.49 334.39h0M539.34 332.37h0M538.9 333.09h0M543.59 333.72h0M542.34 332.21h0M540.86 332.77h0M563.37 343.03h0M561.58 340.07h0M562.08 339.25h0M564.44 345.49h0M564.06 338.96h0M561.44 342.15h0M566.86 341.06h0M561.93 341.58h0M564.67 338.09h0M563.74 339.28h0M566.36 342.78h0M559.55 342.52h0M563.26 344.87h0M565.19 341.36h0M563.19 341.57h0M564.03 343.91h0M563.92 341.86h0M562.05 340.9h0M563.89 344.81h0M564.49 344.39h0M563.91 346.57h0M565.05 342.74h0M564.1 338.01h0M565.05 344.03h0M562.25 339.61h0M562.11 339.3h0M561.8 342.71h0M560.17 340.67h0M564.52 343.79h0M563.18 342.21h0M563.31 346.12h0M563.15 343.86h0M564.53 337.94h0M566.58 340.68h0M562.16 343.93h0M565.52 343.45h0M564.78 338.94h0M560.99 342.53h0M564.07 343.03h0M565.79 339.96h0M575.45 346.13h0M578.28 351.81h0M578.66 349.71h0M578.48 351.24h0M578.57 347.38h0M577.84 353.29h0M572.92 352.58h0M577.09 349.67h0M574.49 351.35h0M578.25 350.15h0M578.92 351.7h0M578.24 351.17h0M575.32 347.58h0M577.5 349.96h0M577.64 347.42h0M579.91 349.57h0M578.99 349.78h0M580.09 351.56h0M573.25 348.65h0M579.71 351.87h0M576.26 349.27h0M576.65 354.04h0M576.27 353.81h0M573.83 347.03h0M576.96 349.82h0M576.44 347.19h0M576.22 346.9h0M577.19 347.73h0M575.22 349.45h0M575.71 347.55h0M576.37 349.91h0M572.77 349.94h0M573.15 351.37h0M576.78 345.71h0M577.72 351.2h0M574.64 353.83h0M577.5 352.53h0M579.41 347.68h0M576.89 352.49h0M571.69 349.13h0M575.2 351.64h0M575.73 352.72h0M577.52 345.72h0M578.25 351.26h0M576.36 346.28h0M576.06 346.4h0M577.71 347.89h0M577.31 349.22h0M576.18 350.13h0M575.08 352.19h0M579.18 350.41h0M574.05 346.92h0M581.07 348.56h0M598.81 343.29h0M596.38 348.11h0M604.53 349.04h0M602.22 342.89h0M601.33 346.57h0M598.4 349.17h0M600.81 351.44h0M606.1 347.25h0M600.22 348.23h0M606.16 347.9h0M599.65 349.37h0M603.81 348.3h0M600.8 341.91h0M601.29 344.75h0M602.97 349.71h0M599.65 345.07h0M600.44 344.66h0M603.13 344.68h0M604.59 344.76h0M597.3 348.12h0M604.1 346.85h0M599.8 343.35h0M599.68 346.64h0M604.37 346.95h0M603.05 347.26h0M597.95 344.94h0M601.71 348.21h0M599.78 346.98h0M603.2 344.83h0M601.02 343.98h0M602.9 342.48h0M597.83 343.56h0M601.76 349.49h0M598.37 346.86h0M601.79 342.63h0M604.18 349.75h0M597.52 345.34h0M601.35 348.74h0M601.33 349.71h0M602.34 347.42h0M599.87 344.33h0M598.33 346.71h0M600.61 346.1h0M597.7 346.17h0M601.24 349.45h0M601.9 341.67h0M602.06 349.39h0M600.33 342.33h0M600.39 347.06h0M602.66 344.4h0M599.88 343.57h0M604.61 341.78h0M602.65 350.38h0M599.73 344.04h0M600.48 345.46h0M599.99 348.97h0M598.89 350.83h0M600.66 348.55h0M602.49 347.15h0M606.59 345.12h0M605.7 346.74h0M602.98 341.63h0M597.55 343.26h0M627.45 344.1h0M625.55 342.03h0M624.48 341.54h0M628.62 341.85h0M625.2 340.79h0M626.38 341.17h0M626.37 343.66h0M627.31 341.16h0M626.34 344.34h0M626.56 342.11h0M627.22 344.86h0M629.08 342.78h0M627.88 342.79h0M626.63 342.68h0M627.53 341.05h0M624.68 341.65h0M627.73 344.68h0M636.56 339.66h0M637.45 339.44h0M635.51 341.93h0M637.87 341.33h0M640.08 342.34h0M635.57 341.36h0M635.55 339.23h0M639.67 339.03h0M639.95 340.7h0M637.23 339.76h0M636.83 342.11h0M641.21 341.33h0M637.9 339.46h0M640.98 339.95h0M637.17 338.95h0M636.66 340.98h0M639.56 341.51h0M638.16 340.74h0M639.65 339.6h0M638.25 339.4h0M638.33 342.45h0M635.07 340.35h0M637.51 342.31h0M658.38 343.25h0M654.5 344.73h0M657.37 343.5h0M656.12 346.68h0M657.11 345.87h0M654.71 343.81h0M658.75 344.4h0M655.67 343.13h0M657.11 344.49h0M656.34 343.82h0M655.08 344.55h0M659.21 344.43h0M656.29 345.42h0M656.28 342.89h0M654.86 343.55h0M655.36 344.57h0M656.01 343.96h0M647.8 359.57h0M644.47 357.3h0M649.2 360.79h0M644.55 356.91h0M648.33 358.63h0M641.56 356.98h0M646.48 356.67h0M648.15 356.21h0M649.54 361.45h0M647.85 360.11h0M648.03 353.88h0M644.39 361.19h0M647.98 354.63h0M649.73 359.35h0M648.1 357.63h0M646.27 359.3h0M645.79 360.08h0M648.28 355.41h0M643.57 356.33h0M646.77 362.78h0M649.76 357.21h0M646.86 353.42h0M647.6 358.92h0M643.73 360.19h0M641.49 358.91h0M648.9 364.31h0M643.43 359.17h0M647.81 354.15h0M642.78 360.56h0M645.61 363.42h0M646.78 356.45h0M648.52 360h0M648.15 356.11h0M647.67 358.19h0M649.51 353.47h0M644.78 357.24h0M644.01 356.28h0M641.24 360.55h0M644.35 358.97h0M646.31 356.25h0M650.03 357.72h0M646.48 361.28h0M646.07 361.07h0M644.33 357.16h0M644.87 358.78h0M648.09 355.12h0M645.56 353.92h0M649.14 356.08h0M647.86 358.14h0M646.82 361.21h0M645.56 360.78h0M647.63 358.32h0M648.05 358.6h0M644.97 356.3h0M648.1 357.91h0M646.16 361.72h0M648.71 353.32h0M644.37 357.06h0M641.03 358.84h0M647.81 361.37h0M648.09 356.2h0M642.64 359.31h0M644.92 355.69h0M643.59 362.87h0M649.07 358.15h0M644.71 360.79h0M646.65 364.07h0M645.65 360.67h0M599.08 361.58h0M598.04 362.41h0M598.17 361.26h0M600.52 364.04h0M598.72 363.27h0M598.5 359.92h0M600.64 361.67h0M596.85 363.21h0M597.76 362.71h0M601.5 362.43h0M598.07 363.77h0M601.36 362.32h0M597.67 361.58h0M599.05 363.49h0M596.89 364.16h0M599.07 361.95h0M599.53 360.84h0M598.13 363.24h0M599.84 365.1h0M600.49 360.56h0M599.38 363.06h0M599.42 361.92h0M598.2 361.23h0M598.94 361.23h0M596.91 360.5h0M598.99 363.18h0M534.43 362.6h0M534.7 361.72h0M535.23 363.32h0M536 364.42h0M536.41 361.89h0M535.28 362.03h0M535.88 363.85h0M535.78 362.81h0M555.17 369.84h0M557.44 371.81h0M558.17 370.43h0M557.44 369.83h0M555.48 364.28h0M555.66 365.51h0M555.29 367.25h0M556.08 368.54h0M556.59 368.44h0M556.79 367.75h0M560.31 372.08h0M556.2 366.5h0M555.44 370.3h0M557.81 363.99h0M559.8 364.56h0M556.76 368.22h0M559.07 368.94h0M557.16 370.49h0M554.6 365.51h0M553.58 370.54h0M558.99 372.16h0M559 364.89h0M558.58 371.99h0M559.49 370.91h0M557.46 370.96h0M554.52 367.98h0M558.77 368.94h0M558.24 370.1h0M557.43 366.91h0M557.1 363.4h0M558.98 371.67h0M562.3 367.03h0M561.54 370.84h0M559.12 366.02h0M559.29 371.77h0M558.65 370.42h0M556.65 368.17h0M557.41 371.97h0M559.77 369.68h0M559.87 365.86h0M558.53 365.64h0M559.17 364.68h0M554.56 368.18h0M557.56 369.29h0M558.69 369.77h0M540.69 374.56h0M535.51 377.92h0M535.92 374.55h0M537.74 375.67h0M535.96 374.35h0M536.68 377.25h0M539.48 374.84h0M539.45 376.16h0M538.4 376.57h0M536.62 377.16h0M537.99 373.39h0M536.81 378.78h0M538.79 374.09h0M538.55 378.69h0M538.01 379.12h0M537.13 378.91h0M537.8 379.34h0M538.38 379.15h0M537.91 377.55h0M541.36 375.98h0M535.6 378.2h0M537.93 375.12h0M538.8 378.76h0M538.64 374.82h0M536.94 378.6h0M537.96 377.43h0M601.13 379.87h0M591.62 380.39h0M596.59 378.96h0M595.48 379.95h0M598.04 377.69h0M596.59 377.15h0M596.96 380.05h0M592.98 382.67h0M600.73 379.51h0M600.15 384.52h0M597.64 382.63h0M595.03 379.24h0M593.36 382.56h0M597.59 378.92h0M597.13 380.31h0M600.85 378.85h0M600.74 379.04h0M596.71 379.52h0M593.04 383.58h0M597.05 384.63h0M595.98 380.47h0M599.05 380.6h0M597.04 381.25h0M595.8 380.88h0M595.83 381.23h0M595.36 379.84h0M596.48 379.71h0M593.85 383.52h0M600.1 381.3h0M594.16 385.16h0M600.25 379.99h0M600.59 380.56h0M594.35 378.55h0M597.36 382.53h0M591.6 382.1h0M594.61 380.34h0M594.91 381.25h0M595.05 379.33h0M597.86 379.78h0M598.36 379.12h0M596.08 376.98h0M597.38 382h0M593.56 379.04h0M595.85 381.81h0M593.38 379.88h0M577.94 389.38h0M577.73 385.85h0M581.5 387.65h0M579.3 387.29h0M578.07 387.72h0M581.67 386.97h0M574.57 386.88h0M578.18 388.55h0M578.3 390.71h0M579.91 390.34h0M578.07 388.06h0M579.9 386h0M577.35 389.94h0M578.39 385.66h0M578.18 388.44h0M577.29 386.95h0M577.51 385.47h0M578.1 386.78h0M579.48 388.6h0M582.42 387.63h0M578.99 384.68h0M575.48 388.55h0M575.09 385.44h0M578.08 387.04h0M575.89 387.38h0M577.42 388.08h0M579.29 387.41h0M581.64 385.08h0M574.7 387.96h0M614.16 391.37h0M614.39 390.72h0M613.68 392.62h0M613.53 388.66h0M617.52 390.96h0M614.42 392.71h0M615.15 390.23h0M612.99 392.13h0M614.22 389.2h0M615.17 389.55h0M616.76 390.24h0M617.55 390.14h0M615.47 392.34h0M615.55 392.27h0M614.22 390.33h0M614.66 392.05h0M617.33 392.33h0M615.55 389.87h0M615.61 392.39h0M614.04 392.11h0M616.23 389.54h0M615.37 388.76h0M614.26 389.79h0M638.65 384.39h0M639.47 382.52h0M638.75 384.8h0M639.55 383.57h0M558.02 399.01h0M554.77 395.15h0M553.84 395.65h0M553.77 394.36h0M551.84 390.25h0M552.26 396.8h0M556.55 391.99h0M549.22 395.3h0M553.48 396.78h0M556.61 394.39h0M554.89 391.4h0M553.42 398.73h0M551.93 390.33h0M554.59 393.28h0M551.29 394.81h0M554.53 398.69h0M554.81 396.3h0M556.9 393.79h0M551.23 394.05h0M555.77 395.53h0M550.3 389.5h0M556.66 394.27h0M555.62 396.31h0M550.23 390.78h0M558.3 396.49h0M550.74 394.69h0M558.52 395.82h0M554.15 394.56h0M549.62 394.75h0M555.31 393.23h0M552.82 393.3h0M554.19 392.9h0M552.55 392.89h0M552.2 394.04h0M549.35 393.4h0M552.91 390.01h0M557.65 397h0M553.83 394.15h0M551.38 395.55h0M556.97 391.83h0M556.53 394.05h0M550.59 391.57h0M552.25 395.9h0M556.25 393.62h0M552.63 393.73h0M552.4 389.91h0M550.68 390.7h0M554.79 391.06h0M553.61 393.16h0M551.54 395.07h0M556.69 391.4h0M557.02 395.87h0M552.9 390.87h0M557.15 398.46h0M552.89 391.94h0M555.74 397.04h0M557.34 394.66h0M551.07 395.98h0M555.95 396.73h0M555.12 394.25h0M554.26 392.29h0M558.72 398.27h0M551.43 398.87h0M569.55 397.46h0M568.74 400.8h0M567.73 398.85h0M567.88 400.49h0M568.03 400.79h0M569.19 397h0M568.81 397.28h0M569.39 400.5h0M588.89 404.23h0M589.34 402.96h0M589.47 404.57h0M586.94 403.62h0M583.63 405.04h0M586.99 404.52h0M585.27 401.42h0M587.1 404.54h0M587.37 403.71h0M588.44 403.1h0M588.94 399.31h0M586.13 404.85h0M585.81 405.52h0M588.18 401.88h0M585.84 400.12h0M584.06 401.73h0M588.71 404.22h0M585.72 404.2h0M585.09 403.28h0M591.08 405.71h0M589.19 400.01h0M585.38 404.08h0M583.33 404.17h0M587.77 406.01h0M584.97 401.68h0M590.04 404.68h0M586.43 402.14h0M585.86 402.85h0M587.13 404.45h0M587.87 406.39h0M588.81 404.16h0M587.28 406.67h0M586.06 405.5h0M588.59 404.63h0M591.12 406h0M588.61 404.16h0M586.9 405.89h0M659.53 394.5h0M656.46 392.12h0M659.87 393.08h0M660.15 392.49h0M657.85 393.28h0M656.21 392.94h0M658.8 391.9h0M656.68 395.74h0M654.81 394.08h0M659.58 392.64h0M657.37 396.23h0M658.06 391.38h0M657.01 391.98h0M656.81 395.46h0M659.66 393.16h0M656.61 391.5h0M658.32 396.65h0M659.09 397.53h0M659.51 396.21h0M659.16 392.66h0M659.63 393.66h0M655.85 394.21h0M656.76 395.61h0M655.74 393.25h0M658.76 395.43h0M658.37 393.22h0M613.13 412.43h0M614.63 412.93h0M616.3 411.55h0M616.91 411.62h0M615.37 413.89h0M616.09 412.54h0M616.37 409.4h0M616.43 412.19h0M614.01 412.87h0M612.96 413.63h0M614.47 410.49h0M615.03 412.32h0M617.08 412.28h0M614.92 410.27h0M614.48 410.2h0M614.87 410.96h0M615.65 412.97h0M616.37 410.7h0M616.36 409.81h0M613.97 412.74h0M553.58 411.2h0M555.16 412.87h0M553.96 413.81h0M552.86 413.01h0M553.36 412.83h0M553.03 412.16h0M554.69 410.98h0M552.71 412.21h0M660.74 409.38h0M661.29 407.43h0M661.69 411.86h0M662.49 409.85h0M660.8 411.83h0M663.16 408.03h0M660.37 410.07h0M660.48 410.69h0M660.18 410.01h0M661.73 408.15h0M662.45 408.11h0M661.28 408.67h0M661.8 411.71h0M660.95 408.62h0M661.44 411.11h0M661.38 410.41h0M661.65 409.44h0M524.32 320.41h0M524.81 319.98h0M524.24 319.84h0M524.14 318.73h0M525.38 318.78h0M621.99 317.17h0M623.4 318.27h0M622.9 318.18h0M623.48 318.06h0M621.63 316.73h0M519.9 401.74h0M520.56 401.74h0M519.38 401.79h0M521.07 400.96h0M519.33 399.92h0M598.57 391.31h0M597.75 390.03h0M597.34 390.77h0M600.01 390.69h0M577.09 397.76h0M578.84 396.69h0M578.27 396.92h0M576.96 397.68h0M592.1 409.92h0M592.46 410.68h0M593.36 412.21h0M591.88 410.65h0" fill="none" stroke="#2c5cc0" stroke-width="1.2" stroke-linecap="round"/>
<path d="M576.79 329.89h0M579.15 329h0M581.14 330.69h0M577.59 328.91h0M579.39 330.65h0M578.55 331.2h0M580.84 332.53h0M577.66 327.37h0M578.06 331.21h0M579.9 325.56h0M581.8 329.61h0M579.44 328.69h0M580.51 331.08h0M582.87 329.43h0M582.12 328.39h0M582.71 328.9h0M582.68 326.65h0M583.38 330.83h0M575.96 331.27h0M580.1 326.31h0M584.83 330.48h0M605.26 334.05h0M613.84 328.43h0M609.45 330.37h0M608.96 326.76h0M607.28 331.09h0M607.54 331.6h0M605.93 330.97h0M609.3 332.76h0M609.31 326.81h0M607.17 327.09h0M605 330.95h0M606.49 326.22h0M608.57 332.88h0M603.37 328.76h0M602.5 329.16h0M610.55 331.81h0M609.68 326.99h0M608.85 325.91h0M607 331.45h0M608.55 330.81h0M605.48 331.02h0M609.64 331.5h0M604.92 331.02h0M608.12 330.36h0M541.62 333.11h0M541.57 334.5h0M541 332.35h0M541.63 335.01h0M564.25 341.84h0M563.25 342.2h0M562.65 340.12h0M563.79 343.44h0M564.23 340.07h0M563.43 341.86h0M562.9 338.92h0M562.82 343.22h0M565.47 343.07h0M577.55 349.71h0M572.9 348.87h0M575.05 350.97h0M575.44 351.13h0M573.69 351.53h0M577.06 346.89h0M576.53 353.45h0M579.09 350.68h0M578.24 348.41h0M574.46 352.29h0M577.94 348.2h0M573.99 350.02h0M602.02 345.09h0M603.82 348.51h0M600.83 344.98h0M600.92 345.14h0M599.4 347.72h0M599.92 345.74h0M597.53 347.52h0M605.21 347.01h0M604.13 347.49h0M597.63 346.42h0M599.93 346.03h0M602.91 349.5h0M599.26 346.32h0M601.36 344.21h0M599.23 344.09h0M628.11 342.16h0M625.6 341.63h0M627.97 342.42h0M625.41 343.53h0M637.72 341.94h0M637.63 339.96h0M637.9 340.3h0M638.61 339.49h0M637.24 341.14h0M658.46 345.25h0M655.61 345.82h0M656.29 346.28h0M656.99 345.18h0M650.08 356.63h0M645.78 358.99h0M644.66 358.72h0M648.06 358.55h0M648.74 359.07h0M648.63 359.43h0M643.57 356.05h0M645.27 362.38h0M644.3 355.55h0M643.95 358.5h0M646.33 359.07h0M646.1 357.77h0M645.6 362.36h0M644.09 355.3h0M645.79 356.98h0M645.38 360.26h0M597.15 363.07h0M598.87 364.03h0M599.65 363.61h0M597.36 361.41h0M600.16 362.2h0M597.82 360.83h0M558.62 371.34h0M556.34 369.7h0M555.59 366.03h0M558.9 367.86h0M556.52 363.74h0M554.84 367.15h0M559.58 369.34h0M559 368.64h0M558.25 366.93h0M556.33 366.73h0M537.84 374.82h0M536.99 378.69h0M538.19 374.82h0M538.45 376.47h0M538.14 375.7h0M536.51 377.36h0M594.44 382.49h0M599.45 382.03h0M600.15 383.13h0M595.88 381.69h0M599.57 379.15h0M595.53 380.14h0M595.82 379.29h0M594.06 384.27h0M599.01 380.08h0M596.39 378.96h0M576.48 387.83h0M578.34 386.99h0M576.74 388.84h0M576.44 387.33h0M579.51 389.41h0M578.73 385.69h0M580.35 386.56h0M614.02 391.23h0M615.55 391.42h0M616.07 389.12h0M612.71 389.47h0M613.48 389.77h0M553.58 395.52h0M554.71 394.15h0M553.24 392.33h0M551.93 393.01h0M550.12 395.41h0M555.9 398.17h0M552.77 394.51h0M552.78 396.1h0M557.31 397.04h0M550.65 393.86h0M554.47 395h0M554.15 392.45h0M554.47 394.16h0M555.66 394.28h0M552.87 395.74h0M589.28 403.62h0M586.58 401.02h0M588.27 404.76h0M588.67 403.43h0M586.14 403.87h0M587.42 400.78h0M585.93 400.94h0M587.26 403.16h0M656.1 394.79h0M659.58 394h0M660.09 393.32h0M659.18 391.42h0M658.92 393.79h0M659.75 394.33h0M616.35 410.49h0M614.96 410.37h0M616.06 412.64h0M614.2 413.15h0M660.42 410.62h0M659.88 409.81h0M659.87 411.48h0M662.16 409.84h0" fill="none" stroke="#5590de" stroke-width="0.7" stroke-linecap="round"/>
</g></g>
<text x="167" y="327.5" font-size="10" text-anchor="end" fill="#3fb23f">OCT4</text>
<text x="313.8" y="327.3" font-size="10" text-anchor="end" fill="#3b8fc0">DAPI</text>
<text x="512.6" y="327.3" font-size="10" text-anchor="end" fill="#e62a20">NANOG</text>
<text x="659" y="327.3" font-size="10" text-anchor="end" fill="#3b8fc0">DAPI</text>
<line x1="138" y1="409.8" x2="161.2" y2="409.8" stroke="#fff" stroke-width="1.9"/>
<text x="497.4" y="406.1" font-size="9.2" text-anchor="middle" fill="#f4f4f4">100 μm</text>
<line x1="486.8" y1="410.4" x2="510" y2="410.4" stroke="#fff" stroke-width="1.8"/>
</g>
<g id="panel-d" fill="#0c0c0c">
<text x="0.9" y="448.3" font-size="12" font-weight="bold">d</text>
<text x="152.8" y="451.6" font-size="12.35">EB method</text>
<path d="M37.7 472.98V599.4H327" fill="none" stroke="#333" stroke-width="1" stroke-linejoin="miter"/>
<line x1="33.3" y1="599.4" x2="37.7" y2="599.4" stroke="#333" stroke-width="0.9"/>
<text x="33.1" y="602.7" font-size="9.3" font-weight="bold" text-anchor="end">0</text>
<line x1="33.3" y1="567.92" x2="37.7" y2="567.92" stroke="#333" stroke-width="0.9"/>
<text x="33.1" y="571.22" font-size="9.3" font-weight="bold" text-anchor="end">2</text>
<line x1="33.3" y1="536.44" x2="37.7" y2="536.44" stroke="#333" stroke-width="0.9"/>
<text x="33.1" y="539.74" font-size="9.3" font-weight="bold" text-anchor="end">4</text>
<line x1="33.3" y1="504.96" x2="37.7" y2="504.96" stroke="#333" stroke-width="0.9"/>
<text x="33.1" y="508.26" font-size="9.3" font-weight="bold" text-anchor="end">6</text>
<line x1="33.3" y1="473.48" x2="37.7" y2="473.48" stroke="#333" stroke-width="0.9"/>
<text x="33.1" y="476.78" font-size="9.3" font-weight="bold" text-anchor="end">8</text>
<text transform="translate(20.9 533.24) rotate(-90)" font-size="11.2" font-weight="bold" text-anchor="middle">Cell (%)</text>
<line x1="49.5" y1="599.9" x2="49.5" y2="604" stroke="#2a2a2a" stroke-width="0.8"/>
<text transform="translate(53.1 609) rotate(-45)" font-size="9.8" text-anchor="end">Day 0</text>
<line x1="169.75" y1="599.9" x2="169.75" y2="604" stroke="#2a2a2a" stroke-width="0.8"/>
<text transform="translate(173.35 609) rotate(-45)" font-size="9.8" text-anchor="end">Day 5</text>
<line x1="217.85" y1="599.9" x2="217.85" y2="604" stroke="#2a2a2a" stroke-width="0.8"/>
<text transform="translate(221.45 609) rotate(-45)" font-size="9.8" text-anchor="end">Day 7</text>
<line x1="265.95" y1="599.9" x2="265.95" y2="604" stroke="#2a2a2a" stroke-width="0.8"/>
<text transform="translate(269.55 609) rotate(-45)" font-size="9.8" text-anchor="end">Day 9</text>
<line x1="314.05" y1="599.9" x2="314.05" y2="604" stroke="#2a2a2a" stroke-width="0.8"/>
<text transform="translate(317.65 609) rotate(-45)" font-size="9.8" text-anchor="end">Day 11</text>
<polyline points="49.5,599.4 169.75,592.47 217.85,571.7 265.95,527.15 314.05,555.96" fill="none" stroke="#5f91c7" stroke-width="1.6" stroke-linejoin="round"/>
<path d="M217.85 567.61V575M214.15 567.61H221.55M214.15 575H221.55" fill="none" stroke="#5f91c7" stroke-width="0.6"/>
<path d="M265.95 517.55V535.81M262.25 517.55H269.65M262.25 535.81H269.65" fill="none" stroke="#5f91c7" stroke-width="0.6"/>
<path d="M314.05 551.55V560.05M310.35 551.55H317.75M310.35 560.05H317.75" fill="none" stroke="#5f91c7" stroke-width="0.6"/>
<path d="M49.5 595.7L52.6 601.7L46.4 601.7Z" fill="#5f91c7"/>
<path d="M169.75 588.77L172.85 594.77L166.65 594.77Z" fill="#5f91c7"/>
<path d="M217.85 568L220.95 574L214.75 574Z" fill="#5f91c7"/>
<path d="M265.95 523.45L269.05 529.45L262.85 529.45Z" fill="#5f91c7"/>
<path d="M314.05 552.26L317.15 558.26L310.95 558.26Z" fill="#5f91c7"/>
<polyline points="49.5,599.4 169.75,596.72 217.85,594.52 265.95,575.32 314.05,576.42" fill="none" stroke="#e0523a" stroke-width="1.6" stroke-linejoin="round"/>
<rect x="46.6" y="596.5" width="5.8" height="5.8" fill="#e0523a"/>
<rect x="166.85" y="593.82" width="5.8" height="5.8" fill="#e0523a"/>
<rect x="214.95" y="591.62" width="5.8" height="5.8" fill="#e0523a"/>
<rect x="263.05" y="572.42" width="5.8" height="5.8" fill="#e0523a"/>
<rect x="311.15" y="573.52" width="5.8" height="5.8" fill="#e0523a"/>
<polyline points="49.5,599.4 169.75,598.77 217.85,593.1 265.95,594.52 314.05,588.07" fill="none" stroke="#ee8d5e" stroke-width="1.6" stroke-linejoin="round"/>
<circle cx="49.5" cy="599.4" r="3.2" fill="#ee8d5e"/>
<circle cx="169.75" cy="598.77" r="3.2" fill="#ee8d5e"/>
<circle cx="217.85" cy="593.1" r="3.2" fill="#ee8d5e"/>
<circle cx="265.95" cy="594.52" r="3.2" fill="#ee8d5e"/>
<circle cx="314.05" cy="588.07" r="3.2" fill="#ee8d5e"/>
<line x1="40.1" y1="486.3" x2="54.5" y2="486.3" stroke="#e0523a" stroke-width="1.5"/>
<rect x="44.4" y="483.4" width="5.8" height="5.8" fill="#e0523a"/>
<text x="58.8" y="489.9" font-size="10.05">SHOX2<tspan dy="-6.8" dx="0.3">+</tspan><tspan dy="6.8" dx="0.1">; HCN4</tspan><tspan dy="-6.8" dx="0.6">+</tspan></text>
<line x1="40.1" y1="503.9" x2="54.5" y2="503.9" stroke="#ee8d5e" stroke-width="1.5"/>
<circle cx="47.3" cy="503.9" r="3.2" fill="#ee8d5e"/>
<text x="58.8" y="507.5" font-size="10.05">SHOX2<tspan dy="-6.8" dx="0.3">+</tspan><tspan dy="6.8" dx="0.1">; HCN4</tspan><tspan dy="-6.8" dx="0.6">−</tspan></text>
<line x1="40.1" y1="521.3" x2="54.5" y2="521.3" stroke="#5f91c7" stroke-width="1.5"/>
<path d="M47.3 517.6L50.4 523.6L44.2 523.6Z" fill="#5f91c7"/>
<text x="58.8" y="524.9" font-size="10.05">SHOX2<tspan dy="-6.8" dx="0.3">−</tspan><tspan dy="6.8" dx="0.1">; HCN4</tspan><tspan dy="-6.8" dx="0.6">+</tspan></text>
</g>
<g id="panel-e" fill="#0c0c0c">
<text x="346" y="448.3" font-size="12" font-weight="bold">e</text>
<text x="497.8" y="451.6" font-size="12.35">M10 method</text>
<path d="M385.2 470.76V598.7H672" fill="none" stroke="#8e8e8e" stroke-width="1.6" stroke-linejoin="miter"/>
<line x1="380.8" y1="598.7" x2="385.2" y2="598.7" stroke="#8e8e8e" stroke-width="1.1"/>
<text x="380.5" y="602" font-size="9.3" font-weight="bold" text-anchor="end">0</text>
<line x1="380.8" y1="566.84" x2="385.2" y2="566.84" stroke="#8e8e8e" stroke-width="1.1"/>
<text x="380.5" y="570.14" font-size="9.3" font-weight="bold" text-anchor="end">2</text>
<line x1="380.8" y1="534.98" x2="385.2" y2="534.98" stroke="#8e8e8e" stroke-width="1.1"/>
<text x="380.5" y="538.28" font-size="9.3" font-weight="bold" text-anchor="end">4</text>
<line x1="380.8" y1="503.12" x2="385.2" y2="503.12" stroke="#8e8e8e" stroke-width="1.1"/>
<text x="380.5" y="506.42" font-size="9.3" font-weight="bold" text-anchor="end">6</text>
<line x1="380.8" y1="471.26" x2="385.2" y2="471.26" stroke="#8e8e8e" stroke-width="1.1"/>
<text x="380.5" y="474.56" font-size="9.3" font-weight="bold" text-anchor="end">8</text>
<text transform="translate(369.1 531.78) rotate(-90)" font-size="11.2" font-weight="bold" text-anchor="middle">Cell (%)</text>
<line x1="395.3" y1="599.5" x2="395.3" y2="603.3" stroke="#2a2a2a" stroke-width="0.8"/>
<text transform="translate(398.9 610.8) rotate(-45)" font-size="9.8" text-anchor="end">Day 0</text>
<line x1="436.3" y1="599.5" x2="436.3" y2="603.3" stroke="#2a2a2a" stroke-width="0.8"/>
<text transform="translate(439.9 610.8) rotate(-45)" font-size="9.8" text-anchor="end">Day 2</text>
<line x1="456.8" y1="599.5" x2="456.8" y2="603.3" stroke="#2a2a2a" stroke-width="0.8"/>
<text transform="translate(460.4 610.8) rotate(-45)" font-size="9.8" text-anchor="end">Day 3</text>
<line x1="497.8" y1="599.5" x2="497.8" y2="603.3" stroke="#2a2a2a" stroke-width="0.8"/>
<text transform="translate(501.4 610.8) rotate(-45)" font-size="9.8" text-anchor="end">Day 5</text>
<line x1="538.8" y1="599.5" x2="538.8" y2="603.3" stroke="#2a2a2a" stroke-width="0.8"/>
<text transform="translate(542.4 610.8) rotate(-45)" font-size="9.8" text-anchor="end">Day 7</text>
<line x1="579.8" y1="599.5" x2="579.8" y2="603.3" stroke="#2a2a2a" stroke-width="0.8"/>
<text transform="translate(583.4 610.8) rotate(-45)" font-size="9.8" text-anchor="end">Day 9</text>
<line x1="620.8" y1="599.5" x2="620.8" y2="603.3" stroke="#2a2a2a" stroke-width="0.8"/>
<text transform="translate(624.4 610.8) rotate(-45)" font-size="9.8" text-anchor="end">Day 11</text>
<line x1="661.8" y1="599.5" x2="661.8" y2="603.3" stroke="#2a2a2a" stroke-width="0.8"/>
<text transform="translate(665.4 610.8) rotate(-45)" font-size="9.8" text-anchor="end">Day 13</text>
<polyline points="395.3,597.43 436.3,597.11 456.8,598.06 497.8,585.16 538.8,575.28 579.8,547.09 620.8,527.65 661.8,567.64" fill="none" stroke="#5f91c7" stroke-width="1.6" stroke-linejoin="round"/>
<path d="M497.8 575.28V595.04M494.1 575.28H501.5M494.1 595.04H501.5" fill="none" stroke="#5f91c7" stroke-width="0.6"/>
<path d="M538.8 570.03V580.38M535.1 570.03H542.5M535.1 580.38H542.5" fill="none" stroke="#5f91c7" stroke-width="0.6"/>
<path d="M579.8 538.96V555.05M576.1 538.96H583.5M576.1 555.05H583.5" fill="none" stroke="#5f91c7" stroke-width="0.6"/>
<path d="M620.8 515.23V539.44M617.1 515.23H624.5M617.1 539.44H624.5" fill="none" stroke="#5f91c7" stroke-width="0.6"/>
<path d="M661.8 563.34V572.1M658.1 563.34H665.5M658.1 572.1H665.5" fill="none" stroke="#5f91c7" stroke-width="0.6"/>
<path d="M395.3 593.73L398.4 599.73L392.2 599.73Z" fill="#5f91c7"/>
<path d="M436.3 593.41L439.4 599.41L433.2 599.41Z" fill="#5f91c7"/>
<path d="M456.8 594.36L459.9 600.36L453.7 600.36Z" fill="#5f91c7"/>
<path d="M497.8 581.46L500.9 587.46L494.7 587.46Z" fill="#5f91c7"/>
<path d="M538.8 571.58L541.9 577.58L535.7 577.58Z" fill="#5f91c7"/>
<path d="M579.8 543.39L582.9 549.39L576.7 549.39Z" fill="#5f91c7"/>
<path d="M620.8 523.95L623.9 529.95L617.7 529.95Z" fill="#5f91c7"/>
<path d="M661.8 563.94L664.9 569.94L658.7 569.94Z" fill="#5f91c7"/>
<polyline points="395.3,597.9 436.3,597.11 456.8,598.22 497.8,597.9 538.8,596.79 579.8,592.49 620.8,592.01 661.8,593.92" fill="none" stroke="#e0523a" stroke-width="1.6" stroke-linejoin="round"/>
<rect x="392.4" y="595" width="5.8" height="5.8" fill="#e0523a"/>
<rect x="433.4" y="594.21" width="5.8" height="5.8" fill="#e0523a"/>
<rect x="453.9" y="595.32" width="5.8" height="5.8" fill="#e0523a"/>
<rect x="494.9" y="595" width="5.8" height="5.8" fill="#e0523a"/>
<rect x="535.9" y="593.89" width="5.8" height="5.8" fill="#e0523a"/>
<rect x="576.9" y="589.59" width="5.8" height="5.8" fill="#e0523a"/>
<rect x="617.9" y="589.11" width="5.8" height="5.8" fill="#e0523a"/>
<rect x="658.9" y="591.02" width="5.8" height="5.8" fill="#e0523a"/>
<polyline points="395.3,598.7 436.3,593.6 456.8,598.22 497.8,597.43 538.8,595.04 579.8,592.01 620.8,588.82 661.8,587.71" fill="none" stroke="#ee8d5e" stroke-width="1.6" stroke-linejoin="round"/>
<circle cx="395.3" cy="598.7" r="3.2" fill="#ee8d5e"/>
<circle cx="436.3" cy="593.6" r="3.2" fill="#ee8d5e"/>
<circle cx="456.8" cy="598.22" r="3.2" fill="#ee8d5e"/>
<circle cx="497.8" cy="597.43" r="3.2" fill="#ee8d5e"/>
<circle cx="538.8" cy="595.04" r="3.2" fill="#ee8d5e"/>
<circle cx="579.8" cy="592.01" r="3.2" fill="#ee8d5e"/>
<circle cx="620.8" cy="588.82" r="3.2" fill="#ee8d5e"/>
<circle cx="661.8" cy="587.71" r="3.2" fill="#ee8d5e"/>
<line x1="390.6" y1="483.8" x2="405" y2="483.8" stroke="#e0523a" stroke-width="1.5"/>
<rect x="394.9" y="480.9" width="5.8" height="5.8" fill="#e0523a"/>
<text x="409" y="487.4" font-size="10.05">SHOX2<tspan dy="-6.8" dx="0.3">+</tspan><tspan dy="6.8" dx="0.1">; HCN4</tspan><tspan dy="-6.8" dx="0.6">+</tspan></text>
<line x1="390.6" y1="500.5" x2="405" y2="500.5" stroke="#ee8d5e" stroke-width="1.5"/>
<circle cx="397.8" cy="500.5" r="3.2" fill="#ee8d5e"/>
<text x="409" y="504.1" font-size="10.05">SHOX2<tspan dy="-6.8" dx="0.3">+</tspan><tspan dy="6.8" dx="0.1">; HCN4</tspan><tspan dy="-6.8" dx="0.6">−</tspan></text>
<line x1="390.6" y1="517.5" x2="405" y2="517.5" stroke="#5f91c7" stroke-width="1.5"/>
<path d="M397.8 513.8L400.9 519.8L394.7 519.8Z" fill="#5f91c7"/>
<text x="409" y="521.1" font-size="10.05">SHOX2<tspan dy="-6.8" dx="0.3">−</tspan><tspan dy="6.8" dx="0.1">; HCN4</tspan><tspan dy="-6.8" dx="0.6">+</tspan></text>
</g>
</svg></body></html>
